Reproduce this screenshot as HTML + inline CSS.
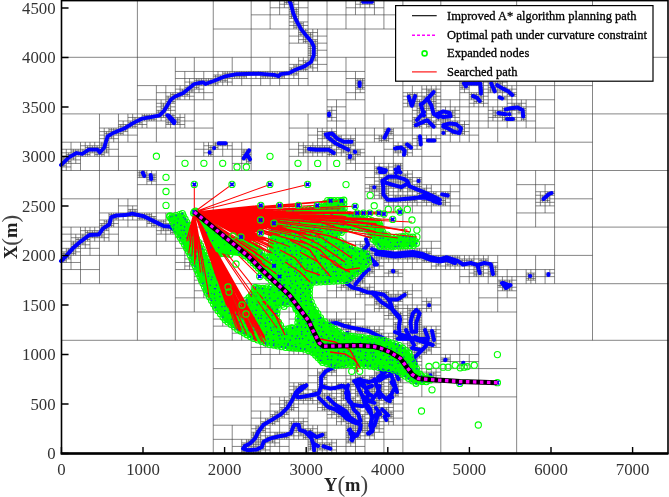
<!DOCTYPE html>
<html><head><meta charset="utf-8"><style>
html,body{margin:0;padding:0;background:#fff;}
svg{display:block;}
text{font-family:"Liberation Serif","Times New Roman",serif;}
</style></head><body>
<svg width="669" height="497" viewBox="0 0 669 497">
<rect width="669" height="497" fill="#fff"/>
<path d="M364.95 0.7V453.5M61.55 227.1H668.35M213.25 0.7V227.1M61.55 113.9H364.95M137.4 0.7V113.9M61.55 57.3H213.25M175.32 57.3V113.9M137.4 85.6H213.25M156.36 85.6V113.9M137.4 99.75H175.32M165.84 85.6V99.75M156.36 92.68H175.32M170.58 92.68V99.75M165.84 96.21H175.32M168.21 96.21V99.75M165.84 97.98H170.58M172.95 92.68V96.21M170.58 94.44H175.32M172.95 96.21V99.75M170.58 97.98H175.32M165.84 99.75V113.9M156.36 106.83H175.32M161.1 99.75V106.83M156.36 103.29H165.84M163.47 103.29V106.83M161.1 105.06H165.84M161.1 106.83V113.9M156.36 110.36H165.84M158.73 110.36V113.9M156.36 112.13H161.1M163.47 106.83V110.36M161.1 108.59H165.84M163.47 110.36V113.9M161.1 112.13H165.84M170.58 99.75V106.83M165.84 103.29H175.32M168.21 99.75V103.29M165.84 101.52H170.58M168.21 103.29V106.83M165.84 105.06H170.58M172.95 99.75V103.29M170.58 101.52H175.32M170.58 106.83V113.9M165.84 110.36H175.32M168.21 106.83V110.36M165.84 108.59H170.58M194.29 57.3V85.6M175.32 71.45H213.25M184.81 71.45V85.6M175.32 78.53H194.29M189.55 78.53V85.6M184.81 82.06H194.29M191.92 82.06V85.6M189.55 83.83H194.29M203.77 71.45V85.6M194.29 78.53H213.25M199.03 78.53V85.6M194.29 82.06H203.77M196.66 78.53V82.06M194.29 80.29H199.03M196.66 82.06V85.6M194.29 83.83H199.03M201.4 78.53V82.06M199.03 80.29H203.77M201.4 82.06V85.6M199.03 83.83H203.77M208.51 78.53V85.6M203.77 82.06H213.25M206.14 78.53V82.06M203.77 80.29H208.51M206.14 82.06V85.6M203.77 83.83H208.51M210.88 78.53V82.06M208.51 80.29H213.25M210.88 82.06V85.6M208.51 83.83H213.25M194.29 85.6V113.9M175.32 99.75H213.25M184.81 85.6V99.75M175.32 92.68H194.29M180.07 85.6V92.68M175.32 89.14H184.81M182.44 89.14V92.68M180.07 90.91H184.81M180.07 92.68V99.75M175.32 96.21H184.81M177.7 92.68V96.21M175.32 94.44H180.07M177.7 96.21V99.75M175.32 97.98H180.07M182.44 92.68V96.21M180.07 94.44H184.81M189.55 85.6V92.68M184.81 89.14H194.29M187.18 85.6V89.14M184.81 87.37H189.55M187.18 89.14V92.68M184.81 90.91H189.55M191.92 85.6V89.14M189.55 87.37H194.29M191.92 89.14V92.68M189.55 90.91H194.29M189.55 92.68V99.75M184.81 96.21H194.29M187.18 92.68V96.21M184.81 94.44H189.55M203.77 85.6V99.75M194.29 92.68H213.25M199.03 85.6V92.68M194.29 89.14H203.77M196.66 85.6V89.14M194.29 87.37H199.03M137.4 113.9V227.1M61.55 170.5H213.25M99.47 113.9V170.5M61.55 142.2H137.4M80.51 142.2V170.5M61.55 156.35H99.47M71.03 142.2V156.35M61.55 149.28H80.51M66.29 149.28V156.35M61.55 152.81H71.03M68.66 152.81V156.35M66.29 154.58H71.03M75.77 149.28V156.35M71.03 152.81H80.51M73.4 149.28V152.81M71.03 151.04H75.77M73.4 152.81V156.35M71.03 154.58H75.77M78.14 149.28V152.81M75.77 151.04H80.51M78.14 152.81V156.35M75.77 154.58H80.51M71.03 156.35V170.5M61.55 163.42H80.51M66.29 156.35V163.42M61.55 159.89H71.03M63.92 156.35V159.89M61.55 158.12H66.29M63.92 159.89V163.42M61.55 161.66H66.29M68.66 156.35V159.89M66.29 158.12H71.03M68.66 159.89V163.42M66.29 161.66H71.03M66.29 163.42V170.5M61.55 166.96H71.03M63.92 163.42V166.96M61.55 165.19H66.29M75.77 156.35V163.42M71.03 159.89H80.51M73.4 156.35V159.89M71.03 158.12H75.77M89.99 142.2V156.35M80.51 149.28H99.47M85.25 142.2V149.28M80.51 145.74H89.99M87.62 145.74V149.28M85.25 147.51H89.99M85.25 149.28V156.35M80.51 152.81H89.99M82.88 149.28V152.81M80.51 151.04H85.25M82.88 152.81V156.35M80.51 154.58H85.25M87.62 149.28V152.81M85.25 151.04H89.99M87.62 152.81V156.35M85.25 154.58H89.99M94.73 142.2V149.28M89.99 145.74H99.47M92.36 145.74V149.28M89.99 147.51H94.73M97.1 145.74V149.28M94.73 147.51H99.47M94.73 149.28V156.35M89.99 152.81H99.47M92.36 149.28V152.81M89.99 151.04H94.73M97.1 149.28V152.81M94.73 151.04H99.47M97.1 152.81V156.35M94.73 154.58H99.47M118.44 113.9V142.2M99.47 128.05H137.4M108.96 128.05V142.2M99.47 135.12H118.44M104.22 128.05V135.12M99.47 131.59H108.96M106.59 131.59V135.12M104.22 133.36H108.96M104.22 135.12V142.2M99.47 138.66H108.96M106.59 135.12V138.66M104.22 136.89H108.96M106.59 138.66V142.2M104.22 140.43H108.96M113.7 128.05V135.12M108.96 131.59H118.44M111.33 128.05V131.59M108.96 129.82H113.7M111.33 131.59V135.12M108.96 133.36H113.7M116.07 128.05V131.59M113.7 129.82H118.44M116.07 131.59V135.12M113.7 133.36H118.44M113.7 135.12V142.2M108.96 138.66H118.44M111.33 135.12V138.66M108.96 136.89H113.7M127.92 113.9V128.05M118.44 120.98H137.4M123.18 120.98V128.05M118.44 124.51H127.92M120.81 124.51V128.05M118.44 126.28H123.18M125.55 124.51V128.05M123.18 126.28H127.92M132.66 113.9V120.98M127.92 117.44H137.4M135.03 117.44V120.98M132.66 119.21H137.4M132.66 120.98V128.05M127.92 124.51H137.4M130.29 120.98V124.51M127.92 122.74H132.66M130.29 124.51V128.05M127.92 126.28H132.66M135.03 120.98V124.51M132.66 122.74H137.4M135.03 124.51V128.05M132.66 126.28H137.4M127.92 128.05V142.2M118.44 135.12H137.4M123.18 128.05V135.12M118.44 131.59H127.92M120.81 128.05V131.59M118.44 129.82H123.18M120.81 131.59V135.12M118.44 133.36H123.18M125.55 128.05V131.59M123.18 129.82H127.92M118.44 142.2V170.5M99.47 156.35H137.4M108.96 142.2V156.35M99.47 149.28H118.44M104.22 142.2V149.28M99.47 145.74H108.96M101.85 142.2V145.74M99.47 143.97H104.22M101.85 145.74V149.28M99.47 147.51H104.22M106.59 142.2V145.74M104.22 143.97H108.96M106.59 145.74V149.28M104.22 147.51H108.96M104.22 149.28V156.35M99.47 152.81H108.96M101.85 149.28V152.81M99.47 151.04H104.22M101.85 152.81V156.35M99.47 154.58H104.22M106.59 149.28V152.81M104.22 151.04H108.96M99.47 170.5V227.1M61.55 198.8H137.4M118.44 198.8V227.1M99.47 212.95H137.4M108.96 212.95V227.1M99.47 220.03H118.44M104.22 220.03V227.1M99.47 223.56H108.96M101.85 223.56V227.1M99.47 225.33H104.22M106.59 220.03V223.56M104.22 221.79H108.96M106.59 223.56V227.1M104.22 225.33H108.96M113.7 212.95V220.03M108.96 216.49H118.44M111.33 212.95V216.49M108.96 214.72H113.7M111.33 216.49V220.03M108.96 218.26H113.7M116.07 212.95V216.49M113.7 214.72H118.44M116.07 216.49V220.03M113.7 218.26H118.44M113.7 220.03V227.1M108.96 223.56H118.44M111.33 220.03V223.56M108.96 221.79H113.7M111.33 223.56V227.1M108.96 225.33H113.7M127.92 198.8V212.95M118.44 205.88H137.4M132.66 205.88V212.95M127.92 209.41H137.4M130.29 209.41V212.95M127.92 211.18H132.66M135.03 209.41V212.95M132.66 211.18H137.4M127.92 212.95V227.1M118.44 220.03H137.4M123.18 212.95V220.03M118.44 216.49H127.92M120.81 212.95V216.49M118.44 214.72H123.18M125.55 212.95V216.49M123.18 214.72H127.92M132.66 212.95V220.03M127.92 216.49H137.4M130.29 212.95V216.49M127.92 214.72H132.66M135.03 212.95V216.49M132.66 214.72H137.4M175.32 113.9V170.5M137.4 142.2H213.25M156.36 113.9V142.2M137.4 128.05H175.32M146.88 113.9V128.05M137.4 120.98H156.36M142.14 113.9V120.98M137.4 117.44H146.88M139.77 117.44V120.98M137.4 119.21H142.14M144.51 113.9V117.44M142.14 115.67H146.88M144.51 117.44V120.98M142.14 119.21H146.88M142.14 120.98V128.05M137.4 124.51H146.88M139.77 120.98V124.51M137.4 122.74H142.14M151.62 113.9V120.98M146.88 117.44H156.36M149.25 113.9V117.44M146.88 115.67H151.62M149.25 117.44V120.98M146.88 119.21H151.62M153.99 113.9V117.44M151.62 115.67H156.36M153.99 117.44V120.98M151.62 119.21H156.36M165.84 113.9V128.05M156.36 120.98H175.32M161.1 113.9V120.98M156.36 117.44H165.84M158.73 113.9V117.44M156.36 115.67H161.1M163.47 113.9V117.44M161.1 115.67H165.84M170.58 113.9V120.98M165.84 117.44H175.32M168.21 113.9V117.44M165.84 115.67H170.58M168.21 117.44V120.98M165.84 119.21H170.58M172.95 113.9V117.44M170.58 115.67H175.32M172.95 117.44V120.98M170.58 119.21H175.32M170.58 120.98V128.05M165.84 124.51H175.32M168.21 120.98V124.51M165.84 122.74H170.58M172.95 120.98V124.51M170.58 122.74H175.32M194.29 113.9V142.2M175.32 128.05H213.25M184.81 113.9V128.05M175.32 120.98H194.29M180.07 113.9V120.98M175.32 117.44H184.81M177.7 117.44V120.98M175.32 119.21H180.07M180.07 120.98V128.05M175.32 124.51H184.81M177.7 120.98V124.51M175.32 122.74H180.07M194.29 142.2V170.5M175.32 156.35H213.25M203.77 142.2V156.35M194.29 149.28H213.25M208.51 142.2V149.28M203.77 145.74H213.25M210.88 145.74V149.28M208.51 147.51H213.25M208.51 149.28V156.35M203.77 152.81H213.25M210.88 149.28V152.81M208.51 151.04H213.25M210.88 152.81V156.35M208.51 154.58H213.25M175.32 170.5V227.1M137.4 198.8H213.25M156.36 170.5V198.8M137.4 184.65H175.32M146.88 170.5V184.65M137.4 177.57H156.36M142.14 170.5V177.57M137.4 174.04H146.88M139.77 170.5V174.04M137.4 172.27H142.14M139.77 174.04V177.57M137.4 175.81H142.14M144.51 170.5V174.04M142.14 172.27H146.88M144.51 174.04V177.57M142.14 175.81H146.88M151.62 170.5V177.57M146.88 174.04H156.36M149.25 174.04V177.57M146.88 175.81H151.62M153.99 174.04V177.57M151.62 175.81H156.36M151.62 177.57V184.65M146.88 181.11H156.36M149.25 177.57V181.11M146.88 179.34H151.62M153.99 177.57V181.11M151.62 179.34H156.36M156.36 198.8V227.1M137.4 212.95H175.32M146.88 212.95V227.1M137.4 220.03H156.36M142.14 212.95V220.03M137.4 216.49H146.88M139.77 212.95V216.49M137.4 214.72H142.14M139.77 216.49V220.03M137.4 218.26H142.14M144.51 212.95V216.49M142.14 214.72H146.88M144.51 216.49V220.03M142.14 218.26H146.88M151.62 212.95V220.03M146.88 216.49H156.36M149.25 212.95V216.49M146.88 214.72H151.62M149.25 216.49V220.03M146.88 218.26H151.62M153.99 216.49V220.03M151.62 218.26H156.36M151.62 220.03V227.1M146.88 223.56H156.36M149.25 220.03V223.56M146.88 221.79H151.62M153.99 220.03V223.56M151.62 221.79H156.36M153.99 223.56V227.1M151.62 225.33H156.36M165.84 212.95V227.1M156.36 220.03H175.32M161.1 220.03V227.1M156.36 223.56H165.84M158.73 220.03V223.56M156.36 221.79H161.1M158.73 223.56V227.1M156.36 225.33H161.1M163.47 220.03V223.56M161.1 221.79H165.84M163.47 223.56V227.1M161.1 225.33H165.84M170.58 220.03V227.1M165.84 223.56H175.32M168.21 223.56V227.1M165.84 225.33H170.58M172.95 223.56V227.1M170.58 225.33H175.32M289.1 0.7V113.9M213.25 57.3H364.95M251.18 0.7V57.3M213.25 29H289.1M270.14 0.7V29M251.18 14.85H289.1M279.62 0.7V14.85M270.14 7.78H289.1M284.36 0.7V7.78M279.62 4.24H289.1M286.73 0.7V4.24M284.36 2.47H289.1M251.18 57.3V113.9M213.25 85.6H289.1M232.21 57.3V85.6M213.25 71.45H251.18M222.73 71.45V85.6M213.25 78.53H232.21M217.99 71.45V78.53M213.25 74.99H222.73M215.62 74.99V78.53M213.25 76.76H217.99M220.36 74.99V78.53M217.99 76.76H222.73M217.99 78.53V85.6M213.25 82.06H222.73M215.62 78.53V82.06M213.25 80.29H217.99M215.62 82.06V85.6M213.25 83.83H217.99M220.36 78.53V82.06M217.99 80.29H222.73M227.47 71.45V78.53M222.73 74.99H232.21M225.1 71.45V74.99M222.73 73.22H227.47M225.1 74.99V78.53M222.73 76.76H227.47M229.84 71.45V74.99M227.47 73.22H232.21M229.84 74.99V78.53M227.47 76.76H232.21M227.47 78.53V85.6M222.73 82.06H232.21M225.1 78.53V82.06M222.73 80.29H227.47M241.69 71.45V85.6M232.21 78.53H251.18M236.95 71.45V78.53M232.21 74.99H241.69M234.58 71.45V74.99M232.21 73.22H236.95M234.58 74.99V78.53M232.21 76.76H236.95M239.32 71.45V74.99M236.95 73.22H241.69M239.32 74.99V78.53M236.95 76.76H241.69M246.43 71.45V78.53M241.69 74.99H251.18M244.06 71.45V74.99M241.69 73.22H246.43M244.06 74.99V78.53M241.69 76.76H246.43M248.8 71.45V74.99M246.43 73.22H251.18M270.14 57.3V85.6M251.18 71.45H289.1M260.66 71.45V85.6M251.18 78.53H270.14M255.92 71.45V78.53M251.18 74.99H260.66M253.55 71.45V74.99M251.18 73.22H255.92M258.29 71.45V74.99M255.92 73.22H260.66M265.4 71.45V78.53M260.66 74.99H270.14M263.03 71.45V74.99M260.66 73.22H265.4M263.03 74.99V78.53M260.66 76.76H265.4M267.77 71.45V74.99M265.4 73.22H270.14M267.77 74.99V78.53M265.4 76.76H270.14M279.62 71.45V85.6M270.14 78.53H289.1M274.88 71.45V78.53M270.14 74.99H279.62M272.51 71.45V74.99M270.14 73.22H274.88M272.51 74.99V78.53M270.14 76.76H274.88M277.25 71.45V74.99M274.88 73.22H279.62M277.25 74.99V78.53M274.88 76.76H279.62M284.36 71.45V78.53M279.62 74.99H289.1M281.99 71.45V74.99M279.62 73.22H284.36M281.99 74.99V78.53M279.62 76.76H284.36M286.73 71.45V74.99M284.36 73.22H289.1M327.03 0.7V57.3M289.1 29H364.95M308.06 0.7V29M289.1 14.85H327.03M298.58 0.7V14.85M289.1 7.78H308.06M293.84 0.7V7.78M289.1 4.24H298.58M291.47 0.7V4.24M289.1 2.47H293.84M291.47 4.24V7.78M289.1 6.01H293.84M293.84 7.78V14.85M289.1 11.31H298.58M291.47 7.78V11.31M289.1 9.54H293.84M291.47 11.31V14.85M289.1 13.08H293.84M296.21 7.78V11.31M293.84 9.54H298.58M296.21 11.31V14.85M293.84 13.08H298.58M298.58 14.85V29M289.1 21.93H308.06M293.84 14.85V21.93M289.1 18.39H298.58M291.47 14.85V18.39M289.1 16.62H293.84M296.21 14.85V18.39M293.84 16.62H298.58M296.21 18.39V21.93M293.84 20.16H298.58M293.84 21.93V29M289.1 25.46H298.58M296.21 21.93V25.46M293.84 23.69H298.58M296.21 25.46V29M293.84 27.23H298.58M303.32 21.93V29M298.58 25.46H308.06M300.95 21.93V25.46M298.58 23.69H303.32M300.95 25.46V29M298.58 27.23H303.32M308.06 29V57.3M289.1 43.15H327.03M298.58 29V43.15M289.1 36.08H308.06M303.32 29V36.08M298.58 32.54H308.06M300.95 29V32.54M298.58 30.77H303.32M300.95 32.54V36.08M298.58 34.31H303.32M305.69 29V32.54M303.32 30.77H308.06M305.69 32.54V36.08M303.32 34.31H308.06M303.32 36.08V43.15M298.58 39.61H308.06M305.69 36.08V39.61M303.32 37.84H308.06M305.69 39.61V43.15M303.32 41.38H308.06M317.54 29V43.15M308.06 36.08H327.03M312.8 29V36.08M308.06 32.54H317.54M310.43 32.54V36.08M308.06 34.31H312.8M312.8 36.08V43.15M308.06 39.61H317.54M310.43 36.08V39.61M308.06 37.84H312.8M310.43 39.61V43.15M308.06 41.38H312.8M315.17 39.61V43.15M312.8 41.38H317.54M317.54 43.15V57.3M308.06 50.23H327.03M312.8 43.15V50.23M308.06 46.69H317.54M310.43 43.15V46.69M308.06 44.92H312.8M310.43 46.69V50.23M308.06 48.46H312.8M315.17 43.15V46.69M312.8 44.92H317.54M315.17 46.69V50.23M312.8 48.46H317.54M312.8 50.23V57.3M308.06 53.76H317.54M310.43 50.23V53.76M308.06 51.99H312.8M310.43 53.76V57.3M308.06 55.53H312.8M315.17 50.23V53.76M312.8 51.99H317.54M315.17 53.76V57.3M312.8 55.53H317.54M345.99 0.7V29M327.03 14.85H364.95M355.47 0.7V14.85M345.99 7.78H364.95M360.21 0.7V7.78M355.47 4.24H364.95M362.58 0.7V4.24M360.21 2.47H364.95M327.03 57.3V113.9M289.1 85.6H364.95M308.06 57.3V85.6M289.1 71.45H327.03M298.58 57.3V71.45M289.1 64.38H308.06M293.84 64.38V71.45M289.1 67.91H298.58M291.47 67.91V71.45M289.1 69.68H293.84M296.21 64.38V67.91M293.84 66.14H298.58M296.21 67.91V71.45M293.84 69.68H298.58M303.32 57.3V64.38M298.58 60.84H308.06M305.69 60.84V64.38M303.32 62.61H308.06M303.32 64.38V71.45M298.58 67.91H308.06M300.95 64.38V67.91M298.58 66.14H303.32M300.95 67.91V71.45M298.58 69.68H303.32M305.69 64.38V67.91M303.32 66.14H308.06M305.69 67.91V71.45M303.32 69.68H308.06M298.58 71.45V85.6M289.1 78.53H308.06M293.84 71.45V78.53M289.1 74.99H298.58M291.47 71.45V74.99M289.1 73.22H293.84M296.21 71.45V74.99M293.84 73.22H298.58M317.54 57.3V71.45M308.06 64.38H327.03M312.8 57.3V64.38M308.06 60.84H317.54M310.43 57.3V60.84M308.06 59.07H312.8M310.43 60.84V64.38M308.06 62.61H312.8M315.17 57.3V60.84M312.8 59.07H317.54M312.8 64.38V71.45M308.06 67.91H317.54M310.43 64.38V67.91M308.06 66.14H312.8M345.99 57.3V85.6M327.03 71.45H364.95M355.47 71.45V85.6M345.99 78.53H364.95M360.21 78.53V85.6M355.47 82.06H364.95M357.84 78.53V82.06M355.47 80.29H360.21M357.84 82.06V85.6M355.47 83.83H360.21M362.58 78.53V82.06M360.21 80.29H364.95M362.58 82.06V85.6M360.21 83.83H364.95M345.99 85.6V113.9M327.03 99.75H364.95M336.51 99.75V113.9M327.03 106.83H345.99M331.77 106.83V113.9M327.03 110.36H336.51M329.4 110.36V113.9M327.03 112.13H331.77M355.47 85.6V99.75M345.99 92.68H364.95M360.21 85.6V92.68M355.47 89.14H364.95M357.84 85.6V89.14M355.47 87.37H360.21M362.58 85.6V89.14M360.21 87.37H364.95M289.1 113.9V227.1M213.25 170.5H364.95M251.18 113.9V170.5M213.25 142.2H289.1M232.21 142.2V170.5M213.25 156.35H251.18M222.73 142.2V156.35M213.25 149.28H232.21M217.99 142.2V149.28M213.25 145.74H222.73M215.62 142.2V145.74M213.25 143.97H217.99M215.62 145.74V149.28M213.25 147.51H217.99M220.36 142.2V145.74M217.99 143.97H222.73M227.47 142.2V149.28M222.73 145.74H232.21M225.1 142.2V145.74M222.73 143.97H227.47M241.69 142.2V156.35M232.21 149.28H251.18M246.43 149.28V156.35M241.69 152.81H251.18M244.06 149.28V152.81M241.69 151.04H246.43M244.06 152.81V156.35M241.69 154.58H246.43M248.8 149.28V152.81M246.43 151.04H251.18M248.8 152.81V156.35M246.43 154.58H251.18M241.69 156.35V170.5M232.21 163.42H251.18M246.43 156.35V163.42M241.69 159.89H251.18M244.06 156.35V159.89M241.69 158.12H246.43M248.8 156.35V159.89M246.43 158.12H251.18M248.8 159.89V163.42M246.43 161.66H251.18M327.03 113.9V170.5M289.1 142.2H364.95M308.06 113.9V142.2M289.1 128.05H327.03M317.54 128.05V142.2M308.06 135.12H327.03M322.28 128.05V135.12M317.54 131.59H327.03M324.65 131.59V135.12M322.28 133.36H327.03M322.28 135.12V142.2M317.54 138.66H327.03M324.65 135.12V138.66M322.28 136.89H327.03M308.06 142.2V170.5M289.1 156.35H327.03M298.58 142.2V156.35M289.1 149.28H308.06M303.32 142.2V149.28M298.58 145.74H308.06M305.69 145.74V149.28M303.32 147.51H308.06M303.32 149.28V156.35M298.58 152.81H308.06M305.69 149.28V152.81M303.32 151.04H308.06M317.54 142.2V156.35M308.06 149.28H327.03M312.8 142.2V149.28M308.06 145.74H317.54M310.43 145.74V149.28M308.06 147.51H312.8M315.17 145.74V149.28M312.8 147.51H317.54M312.8 149.28V156.35M308.06 152.81H317.54M310.43 149.28V152.81M308.06 151.04H312.8M315.17 149.28V152.81M312.8 151.04H317.54M322.28 142.2V149.28M317.54 145.74H327.03M319.91 145.74V149.28M317.54 147.51H322.28M324.65 145.74V149.28M322.28 147.51H327.03M322.28 149.28V156.35M317.54 152.81H327.03M319.91 149.28V152.81M317.54 151.04H322.28M324.65 149.28V152.81M322.28 151.04H327.03M345.99 113.9V142.2M327.03 128.05H364.95M336.51 113.9V128.05M327.03 120.98H345.99M331.77 113.9V120.98M327.03 117.44H336.51M329.4 113.9V117.44M327.03 115.67H331.77M336.51 128.05V142.2M327.03 135.12H345.99M331.77 128.05V135.12M327.03 131.59H336.51M329.4 131.59V135.12M327.03 133.36H331.77M334.14 131.59V135.12M331.77 133.36H336.51M331.77 135.12V142.2M327.03 138.66H336.51M329.4 135.12V138.66M327.03 136.89H331.77M329.4 138.66V142.2M327.03 140.43H331.77M334.14 135.12V138.66M331.77 136.89H336.51M334.14 138.66V142.2M331.77 140.43H336.51M341.25 135.12V142.2M336.51 138.66H345.99M338.88 135.12V138.66M336.51 136.89H341.25M338.88 138.66V142.2M336.51 140.43H341.25M343.62 138.66V142.2M341.25 140.43H345.99M355.47 128.05V142.2M345.99 135.12H364.95M350.73 135.12V142.2M345.99 138.66H355.47M348.36 138.66V142.2M345.99 140.43H350.73M353.1 138.66V142.2M350.73 140.43H355.47M345.99 142.2V170.5M327.03 156.35H364.95M336.51 142.2V156.35M327.03 149.28H345.99M331.77 142.2V149.28M327.03 145.74H336.51M329.4 145.74V149.28M327.03 147.51H331.77M334.14 142.2V145.74M331.77 143.97H336.51M331.77 149.28V156.35M327.03 152.81H336.51M329.4 149.28V152.81M327.03 151.04H331.77M329.4 152.81V156.35M327.03 154.58H331.77M334.14 149.28V152.81M331.77 151.04H336.51M334.14 152.81V156.35M331.77 154.58H336.51M341.25 142.2V149.28M336.51 145.74H345.99M338.88 142.2V145.74M336.51 143.97H341.25M338.88 145.74V149.28M336.51 147.51H341.25M343.62 142.2V145.74M341.25 143.97H345.99M343.62 145.74V149.28M341.25 147.51H345.99M341.25 149.28V156.35M336.51 152.81H345.99M343.62 149.28V152.81M341.25 151.04H345.99M355.47 142.2V156.35M345.99 149.28H364.95M350.73 142.2V149.28M345.99 145.74H355.47M348.36 142.2V145.74M345.99 143.97H350.73M348.36 145.74V149.28M345.99 147.51H350.73M353.1 142.2V145.74M350.73 143.97H355.47M350.73 149.28V156.35M345.99 152.81H355.47M348.36 149.28V152.81M345.99 151.04H350.73M348.36 152.81V156.35M345.99 154.58H350.73M353.1 149.28V152.81M350.73 151.04H355.47M353.1 152.81V156.35M350.73 154.58H355.47M360.21 149.28V156.35M355.47 152.81H364.95M357.84 149.28V152.81M355.47 151.04H360.21M357.84 152.81V156.35M355.47 154.58H360.21M355.47 156.35V170.5M345.99 163.42H364.95M350.73 156.35V163.42M345.99 159.89H355.47M348.36 156.35V159.89M345.99 158.12H350.73M353.1 156.35V159.89M350.73 158.12H355.47M213.25 227.1V453.5M61.55 340.3H364.95M137.4 227.1V340.3M61.55 283.7H213.25M99.47 227.1V283.7M61.55 255.4H137.4M80.51 227.1V255.4M61.55 241.25H99.47M71.03 227.1V241.25M61.55 234.17H80.51M75.77 234.17V241.25M71.03 237.71H80.51M78.14 237.71V241.25M75.77 239.48H80.51M71.03 241.25V255.4M61.55 248.32H80.51M66.29 248.32V255.4M61.55 251.86H71.03M63.92 251.86V255.4M61.55 253.63H66.29M68.66 248.32V251.86M66.29 250.09H71.03M68.66 251.86V255.4M66.29 253.63H71.03M75.77 241.25V248.32M71.03 244.79H80.51M73.4 241.25V244.79M71.03 243.02H75.77M73.4 244.79V248.32M71.03 246.56H75.77M78.14 241.25V244.79M75.77 243.02H80.51M78.14 244.79V248.32M75.77 246.56H80.51M75.77 248.32V255.4M71.03 251.86H80.51M73.4 248.32V251.86M71.03 250.09H75.77M73.4 251.86V255.4M71.03 253.63H75.77M89.99 227.1V241.25M80.51 234.17H99.47M85.25 227.1V234.17M80.51 230.64H89.99M87.62 230.64V234.17M85.25 232.41H89.99M85.25 234.17V241.25M80.51 237.71H89.99M82.88 234.17V237.71M80.51 235.94H85.25M82.88 237.71V241.25M80.51 239.48H85.25M87.62 234.17V237.71M85.25 235.94H89.99M87.62 237.71V241.25M85.25 239.48H89.99M94.73 227.1V234.17M89.99 230.64H99.47M92.36 230.64V234.17M89.99 232.41H94.73M97.1 230.64V234.17M94.73 232.41H99.47M94.73 234.17V241.25M89.99 237.71H99.47M92.36 234.17V237.71M89.99 235.94H94.73M97.1 234.17V237.71M94.73 235.94H99.47M89.99 241.25V255.4M80.51 248.32H99.47M85.25 241.25V248.32M80.51 244.79H89.99M82.88 241.25V244.79M80.51 243.02H85.25M80.51 255.4V283.7M61.55 269.55H99.47M71.03 255.4V269.55M61.55 262.48H80.51M66.29 255.4V262.48M61.55 258.94H71.03M63.92 255.4V258.94M61.55 257.17H66.29M63.92 258.94V262.48M61.55 260.71H66.29M68.66 255.4V258.94M66.29 257.17H71.03M118.44 227.1V255.4M99.47 241.25H137.4M108.96 227.1V241.25M99.47 234.17H118.44M104.22 227.1V234.17M99.47 230.64H108.96M101.85 227.1V230.64M99.47 228.87H104.22M101.85 230.64V234.17M99.47 232.41H104.22M106.59 227.1V230.64M104.22 228.87H108.96M104.22 234.17V241.25M99.47 237.71H108.96M101.85 234.17V237.71M99.47 235.94H104.22M175.32 227.1V283.7M137.4 255.4H213.25M156.36 227.1V255.4M137.4 241.25H175.32M165.84 227.1V241.25M156.36 234.17H175.32M161.1 227.1V234.17M156.36 230.64H165.84M163.47 227.1V230.64M161.1 228.87H165.84M170.58 227.1V234.17M165.84 230.64H175.32M168.21 227.1V230.64M165.84 228.87H170.58M172.95 227.1V230.64M170.58 228.87H175.32M172.95 230.64V234.17M170.58 232.41H175.32M194.29 227.1V255.4M175.32 241.25H213.25M184.81 227.1V241.25M175.32 234.17H194.29M180.07 227.1V234.17M175.32 230.64H184.81M177.7 227.1V230.64M175.32 228.87H180.07M177.7 230.64V234.17M175.32 232.41H180.07M182.44 230.64V234.17M180.07 232.41H184.81M180.07 234.17V241.25M175.32 237.71H184.81M177.7 234.17V237.71M175.32 235.94H180.07M182.44 234.17V237.71M180.07 235.94H184.81M182.44 237.71V241.25M180.07 239.48H184.81M189.55 234.17V241.25M184.81 237.71H194.29M187.18 234.17V237.71M184.81 235.94H189.55M187.18 237.71V241.25M184.81 239.48H189.55M184.81 241.25V255.4M175.32 248.32H194.29M189.55 241.25V248.32M184.81 244.79H194.29M187.18 241.25V244.79M184.81 243.02H189.55M187.18 244.79V248.32M184.81 246.56H189.55M191.92 244.79V248.32M189.55 246.56H194.29M189.55 248.32V255.4M184.81 251.86H194.29M187.18 248.32V251.86M184.81 250.09H189.55M191.92 248.32V251.86M189.55 250.09H194.29M191.92 251.86V255.4M189.55 253.63H194.29M194.29 255.4V283.7M175.32 269.55H213.25M184.81 255.4V269.55M175.32 262.48H194.29M189.55 255.4V262.48M184.81 258.94H194.29M191.92 255.4V258.94M189.55 257.17H194.29M191.92 258.94V262.48M189.55 260.71H194.29M189.55 262.48V269.55M184.81 266.01H194.29M191.92 262.48V266.01M189.55 264.24H194.29M203.77 255.4V269.55M194.29 262.48H213.25M199.03 255.4V262.48M194.29 258.94H203.77M196.66 255.4V258.94M194.29 257.17H199.03M196.66 258.94V262.48M194.29 260.71H199.03M199.03 262.48V269.55M194.29 266.01H203.77M196.66 262.48V266.01M194.29 264.24H199.03M196.66 266.01V269.55M194.29 267.78H199.03M201.4 266.01V269.55M199.03 267.78H203.77M203.77 269.55V283.7M194.29 276.62H213.25M199.03 269.55V276.62M194.29 273.09H203.77M196.66 269.55V273.09M194.29 271.32H199.03M201.4 269.55V273.09M199.03 271.32H203.77M201.4 273.09V276.62M199.03 274.86H203.77M199.03 276.62V283.7M194.29 280.16H203.77M201.4 276.62V280.16M199.03 278.39H203.77M201.4 280.16V283.7M199.03 281.93H203.77M208.51 269.55V276.62M203.77 273.09H213.25M206.14 273.09V276.62M203.77 274.86H208.51M208.51 276.62V283.7M203.77 280.16H213.25M206.14 276.62V280.16M203.77 278.39H208.51M206.14 280.16V283.7M203.77 281.93H208.51M210.88 280.16V283.7M208.51 281.93H213.25M175.32 283.7V340.3M137.4 312H213.25M194.29 283.7V312M175.32 297.85H213.25M203.77 283.7V297.85M194.29 290.77H213.25M208.51 283.7V290.77M203.77 287.24H213.25M206.14 283.7V287.24M203.77 285.47H208.51M210.88 283.7V287.24M208.51 285.47H213.25M210.88 287.24V290.77M208.51 289.01H213.25M208.51 290.77V297.85M203.77 294.31H213.25M210.88 290.77V294.31M208.51 292.54H213.25M289.1 227.1V340.3M213.25 283.7H364.95M251.18 283.7V340.3M213.25 312H289.1M232.21 283.7V312M213.25 297.85H251.18M222.73 283.7V297.85M213.25 290.77H232.21M217.99 283.7V290.77M213.25 287.24H222.73M215.62 287.24V290.77M213.25 289.01H217.99M217.99 290.77V297.85M213.25 294.31H222.73M215.62 290.77V294.31M213.25 292.54H217.99M215.62 294.31V297.85M213.25 296.08H217.99M220.36 294.31V297.85M217.99 296.08H222.73M222.73 297.85V312M213.25 304.93H232.21M217.99 297.85V304.93M213.25 301.39H222.73M215.62 297.85V301.39M213.25 299.62H217.99M220.36 297.85V301.39M217.99 299.62H222.73M220.36 301.39V304.93M217.99 303.16H222.73M217.99 304.93V312M213.25 308.46H222.73M220.36 304.93V308.46M217.99 306.69H222.73M227.47 297.85V304.93M222.73 301.39H232.21M225.1 301.39V304.93M222.73 303.16H227.47M227.47 304.93V312M222.73 308.46H232.21M225.1 304.93V308.46M222.73 306.69H227.47M225.1 308.46V312M222.73 310.23H227.47M229.84 304.93V308.46M227.47 306.69H232.21M229.84 308.46V312M227.47 310.23H232.21M232.21 312V340.3M213.25 326.15H251.18M222.73 312V326.15M213.25 319.07H232.21M227.47 312V319.07M222.73 315.54H232.21M229.84 312V315.54M227.47 313.77H232.21M241.69 312V326.15M232.21 319.07H251.18M236.95 312V319.07M232.21 315.54H241.69M234.58 312V315.54M232.21 313.77H236.95M234.58 315.54V319.07M232.21 317.31H236.95M239.32 315.54V319.07M236.95 317.31H241.69M236.95 319.07V326.15M232.21 322.61H241.69M234.58 319.07V322.61M232.21 320.84H236.95M239.32 319.07V322.61M236.95 320.84H241.69M239.32 322.61V326.15M236.95 324.38H241.69M246.43 319.07V326.15M241.69 322.61H251.18M244.06 319.07V322.61M241.69 320.84H246.43M244.06 322.61V326.15M241.69 324.38H246.43M248.8 322.61V326.15M246.43 324.38H251.18M241.69 326.15V340.3M232.21 333.23H251.18M246.43 326.15V333.23M241.69 329.69H251.18M244.06 326.15V329.69M241.69 327.92H246.43M248.8 326.15V329.69M246.43 327.92H251.18M248.8 329.69V333.23M246.43 331.46H251.18M270.14 312V340.3M251.18 326.15H289.1M260.66 326.15V340.3M251.18 333.23H270.14M255.92 326.15V333.23M251.18 329.69H260.66M253.55 326.15V329.69M251.18 327.92H255.92M253.55 329.69V333.23M251.18 331.46H255.92M258.29 329.69V333.23M255.92 331.46H260.66M255.92 333.23V340.3M251.18 336.76H260.66M253.55 333.23V336.76M251.18 334.99H255.92M258.29 333.23V336.76M255.92 334.99H260.66M258.29 336.76V340.3M255.92 338.53H260.66M265.4 333.23V340.3M260.66 336.76H270.14M263.03 333.23V336.76M260.66 334.99H265.4M263.03 336.76V340.3M260.66 338.53H265.4M267.77 333.23V336.76M265.4 334.99H270.14M267.77 336.76V340.3M265.4 338.53H270.14M279.62 326.15V340.3M270.14 333.23H289.1M274.88 333.23V340.3M270.14 336.76H279.62M272.51 336.76V340.3M270.14 338.53H274.88M277.25 336.76V340.3M274.88 338.53H279.62M327.03 227.1V283.7M289.1 255.4H364.95M345.99 227.1V255.4M327.03 241.25H364.95M355.47 241.25V255.4M345.99 248.32H364.95M360.21 241.25V248.32M355.47 244.79H364.95M362.58 244.79V248.32M360.21 246.56H364.95M360.21 248.32V255.4M355.47 251.86H364.95M362.58 248.32V251.86M360.21 250.09H364.95M362.58 251.86V255.4M360.21 253.63H364.95M345.99 255.4V283.7M327.03 269.55H364.95M336.51 269.55V283.7M327.03 276.62H345.99M341.25 276.62V283.7M336.51 280.16H345.99M343.62 280.16V283.7M341.25 281.93H345.99M355.47 269.55V283.7M345.99 276.62H364.95M350.73 276.62V283.7M345.99 280.16H355.47M348.36 276.62V280.16M345.99 278.39H350.73M348.36 280.16V283.7M345.99 281.93H350.73M353.1 276.62V280.16M350.73 278.39H355.47M353.1 280.16V283.7M350.73 281.93H355.47M360.21 269.55V276.62M355.47 273.09H364.95M357.84 273.09V276.62M355.47 274.86H360.21M362.58 269.55V273.09M360.21 271.32H364.95M362.58 273.09V276.62M360.21 274.86H364.95M360.21 276.62V283.7M355.47 280.16H364.95M357.84 276.62V280.16M355.47 278.39H360.21M357.84 280.16V283.7M355.47 281.93H360.21M362.58 276.62V280.16M360.21 278.39H364.95M362.58 280.16V283.7M360.21 281.93H364.95M327.03 283.7V340.3M289.1 312H364.95M308.06 283.7V312M289.1 297.85H327.03M298.58 297.85V312M289.1 304.93H308.06M303.32 297.85V304.93M298.58 301.39H308.06M300.95 297.85V301.39M298.58 299.62H303.32M300.95 301.39V304.93M298.58 303.16H303.32M303.32 304.93V312M298.58 308.46H308.06M300.95 304.93V308.46M298.58 306.69H303.32M300.95 308.46V312M298.58 310.23H303.32M305.69 304.93V308.46M303.32 306.69H308.06M305.69 308.46V312M303.32 310.23H308.06M308.06 312V340.3M289.1 326.15H327.03M298.58 312V326.15M289.1 319.07H308.06M303.32 312V319.07M298.58 315.54H308.06M300.95 312V315.54M298.58 313.77H303.32M305.69 312V315.54M303.32 313.77H308.06M305.69 315.54V319.07M303.32 317.31H308.06M303.32 319.07V326.15M298.58 322.61H308.06M305.69 319.07V322.61M303.32 320.84H308.06M305.69 322.61V326.15M303.32 324.38H308.06M298.58 326.15V340.3M289.1 333.23H308.06M303.32 326.15V333.23M298.58 329.69H308.06M305.69 326.15V329.69M303.32 327.92H308.06M317.54 312V326.15M308.06 319.07H327.03M312.8 319.07V326.15M308.06 322.61H317.54M310.43 319.07V322.61M308.06 320.84H312.8M310.43 322.61V326.15M308.06 324.38H312.8M317.54 326.15V340.3M308.06 333.23H327.03M312.8 326.15V333.23M308.06 329.69H317.54M310.43 326.15V329.69M308.06 327.92H312.8M310.43 329.69V333.23M308.06 331.46H312.8M315.17 329.69V333.23M312.8 331.46H317.54M312.8 333.23V340.3M308.06 336.76H317.54M310.43 333.23V336.76M308.06 334.99H312.8M315.17 333.23V336.76M312.8 334.99H317.54M315.17 336.76V340.3M312.8 338.53H317.54M322.28 333.23V340.3M317.54 336.76H327.03M319.91 333.23V336.76M317.54 334.99H322.28M319.91 336.76V340.3M317.54 338.53H322.28M324.65 336.76V340.3M322.28 338.53H327.03M345.99 283.7V312M327.03 297.85H364.95M336.51 283.7V297.85M327.03 290.77H345.99M341.25 283.7V290.77M336.51 287.24H345.99M343.62 283.7V287.24M341.25 285.47H345.99M355.47 283.7V297.85M345.99 290.77H364.95M350.73 283.7V290.77M345.99 287.24H355.47M348.36 283.7V287.24M345.99 285.47H350.73M348.36 287.24V290.77M345.99 289.01H350.73M353.1 283.7V287.24M350.73 285.47H355.47M353.1 287.24V290.77M350.73 289.01H355.47M360.21 283.7V290.77M355.47 287.24H364.95M357.84 283.7V287.24M355.47 285.47H360.21M357.84 287.24V290.77M355.47 289.01H360.21M362.58 287.24V290.77M360.21 289.01H364.95M360.21 290.77V297.85M355.47 294.31H364.95M362.58 290.77V294.31M360.21 292.54H364.95M345.99 312V340.3M327.03 326.15H364.95M336.51 312V326.15M327.03 319.07H345.99M331.77 319.07V326.15M327.03 322.61H336.51M329.4 319.07V322.61M327.03 320.84H331.77M329.4 322.61V326.15M327.03 324.38H331.77M334.14 319.07V322.61M331.77 320.84H336.51M334.14 322.61V326.15M331.77 324.38H336.51M341.25 319.07V326.15M336.51 322.61H345.99M338.88 319.07V322.61M336.51 320.84H341.25M338.88 322.61V326.15M336.51 324.38H341.25M343.62 322.61V326.15M341.25 324.38H345.99M336.51 326.15V340.3M327.03 333.23H345.99M341.25 326.15V333.23M336.51 329.69H345.99M343.62 326.15V329.69M341.25 327.92H345.99M355.47 312V326.15M345.99 319.07H364.95M350.73 319.07V326.15M345.99 322.61H355.47M348.36 322.61V326.15M345.99 324.38H350.73M355.47 326.15V340.3M345.99 333.23H364.95M350.73 326.15V333.23M345.99 329.69H355.47M348.36 326.15V329.69M345.99 327.92H350.73M348.36 329.69V333.23M345.99 331.46H350.73M353.1 326.15V329.69M350.73 327.92H355.47M350.73 333.23V340.3M345.99 336.76H355.47M348.36 333.23V336.76M345.99 334.99H350.73M360.21 326.15V333.23M355.47 329.69H364.95M357.84 326.15V329.69M355.47 327.92H360.21M357.84 329.69V333.23M355.47 331.46H360.21M362.58 326.15V329.69M360.21 327.92H364.95M362.58 329.69V333.23M360.21 331.46H364.95M289.1 340.3V453.5M213.25 396.9H364.95M251.18 340.3V396.9M213.25 368.6H289.1M270.14 340.3V368.6M251.18 354.45H289.1M260.66 340.3V354.45M251.18 347.38H270.14M265.4 340.3V347.38M260.66 343.84H270.14M267.77 340.3V343.84M265.4 342.07H270.14M279.62 340.3V354.45M270.14 347.38H289.1M274.88 340.3V347.38M270.14 343.84H279.62M272.51 340.3V343.84M270.14 342.07H274.88M277.25 340.3V343.84M274.88 342.07H279.62M277.25 343.84V347.38M274.88 345.61H279.62M284.36 340.3V347.38M279.62 343.84H289.1M281.99 340.3V343.84M279.62 342.07H284.36M281.99 343.84V347.38M279.62 345.61H284.36M286.73 340.3V343.84M284.36 342.07H289.1M286.73 343.84V347.38M284.36 345.61H289.1M251.18 396.9V453.5M213.25 425.2H289.1M232.21 425.2V453.5M213.25 439.35H251.18M241.69 439.35V453.5M232.21 446.43H251.18M246.43 439.35V446.43M241.69 442.89H251.18M244.06 442.89V446.43M241.69 444.66H246.43M248.8 439.35V442.89M246.43 441.12H251.18M248.8 442.89V446.43M246.43 444.66H251.18M246.43 446.43V453.5M241.69 449.96H251.18M244.06 446.43V449.96M241.69 448.19H246.43M244.06 449.96V453.5M241.69 451.73H246.43M248.8 446.43V449.96M246.43 448.19H251.18M248.8 449.96V453.5M246.43 451.73H251.18M270.14 396.9V425.2M251.18 411.05H289.1M260.66 411.05V425.2M251.18 418.12H270.14M265.4 418.12V425.2M260.66 421.66H270.14M263.03 421.66V425.2M260.66 423.43H265.4M267.77 418.12V421.66M265.4 419.89H270.14M267.77 421.66V425.2M265.4 423.43H270.14M279.62 396.9V411.05M270.14 403.98H289.1M284.36 396.9V403.98M279.62 400.44H289.1M286.73 400.44V403.98M284.36 402.21H289.1M284.36 403.98V411.05M279.62 407.51H289.1M281.99 407.51V411.05M279.62 409.28H284.36M286.73 403.98V407.51M284.36 405.74H289.1M286.73 407.51V411.05M284.36 409.28H289.1M279.62 411.05V425.2M270.14 418.12H289.1M274.88 411.05V418.12M270.14 414.59H279.62M272.51 414.59V418.12M270.14 416.36H274.88M277.25 411.05V414.59M274.88 412.82H279.62M277.25 414.59V418.12M274.88 416.36H279.62M274.88 418.12V425.2M270.14 421.66H279.62M272.51 418.12V421.66M270.14 419.89H274.88M272.51 421.66V425.2M270.14 423.43H274.88M277.25 418.12V421.66M274.88 419.89H279.62M284.36 411.05V418.12M279.62 414.59H289.1M281.99 411.05V414.59M279.62 412.82H284.36M281.99 414.59V418.12M279.62 416.36H284.36M286.73 411.05V414.59M284.36 412.82H289.1M270.14 425.2V453.5M251.18 439.35H289.1M260.66 425.2V439.35M251.18 432.27H270.14M255.92 425.2V432.27M251.18 428.74H260.66M258.29 425.2V428.74M255.92 426.97H260.66M258.29 428.74V432.27M255.92 430.51H260.66M255.92 432.27V439.35M251.18 435.81H260.66M253.55 432.27V435.81M251.18 434.04H255.92M253.55 435.81V439.35M251.18 437.58H255.92M258.29 432.27V435.81M255.92 434.04H260.66M258.29 435.81V439.35M255.92 437.58H260.66M265.4 425.2V432.27M260.66 428.74H270.14M263.03 425.2V428.74M260.66 426.97H265.4M263.03 428.74V432.27M260.66 430.51H265.4M265.4 432.27V439.35M260.66 435.81H270.14M267.77 435.81V439.35M265.4 437.58H270.14M260.66 439.35V453.5M251.18 446.43H270.14M255.92 439.35V446.43M251.18 442.89H260.66M253.55 439.35V442.89M251.18 441.12H255.92M253.55 442.89V446.43M251.18 444.66H255.92M258.29 439.35V442.89M255.92 441.12H260.66M258.29 442.89V446.43M255.92 444.66H260.66M255.92 446.43V453.5M251.18 449.96H260.66M253.55 446.43V449.96M251.18 448.19H255.92M253.55 449.96V453.5M251.18 451.73H255.92M258.29 446.43V449.96M255.92 448.19H260.66M258.29 449.96V453.5M255.92 451.73H260.66M265.4 439.35V446.43M260.66 442.89H270.14M263.03 439.35V442.89M260.66 441.12H265.4M263.03 442.89V446.43M260.66 444.66H265.4M267.77 439.35V442.89M265.4 441.12H270.14M265.4 446.43V453.5M260.66 449.96H270.14M263.03 446.43V449.96M260.66 448.19H265.4M279.62 425.2V439.35M270.14 432.27H289.1M274.88 432.27V439.35M270.14 435.81H279.62M272.51 435.81V439.35M270.14 437.58H274.88M277.25 432.27V435.81M274.88 434.04H279.62M277.25 435.81V439.35M274.88 437.58H279.62M284.36 432.27V439.35M279.62 435.81H289.1M281.99 432.27V435.81M279.62 434.04H284.36M281.99 435.81V439.35M279.62 437.58H284.36M286.73 432.27V435.81M284.36 434.04H289.1M286.73 435.81V439.35M284.36 437.58H289.1M279.62 439.35V453.5M270.14 446.43H289.1M274.88 439.35V446.43M270.14 442.89H279.62M272.51 439.35V442.89M270.14 441.12H274.88M327.03 340.3V396.9M289.1 368.6H364.95M308.06 340.3V368.6M289.1 354.45H327.03M298.58 340.3V354.45M289.1 347.38H308.06M293.84 340.3V347.38M289.1 343.84H298.58M291.47 343.84V347.38M289.1 345.61H293.84M296.21 343.84V347.38M293.84 345.61H298.58M293.84 347.38V354.45M289.1 350.91H298.58M291.47 347.38V350.91M289.1 349.14H293.84M296.21 347.38V350.91M293.84 349.14H298.58M303.32 340.3V347.38M298.58 343.84H308.06M300.95 343.84V347.38M298.58 345.61H303.32M305.69 343.84V347.38M303.32 345.61H308.06M303.32 347.38V354.45M298.58 350.91H308.06M300.95 347.38V350.91M298.58 349.14H303.32M305.69 347.38V350.91M303.32 349.14H308.06M317.54 340.3V354.45M308.06 347.38H327.03M312.8 347.38V354.45M308.06 350.91H317.54M310.43 347.38V350.91M308.06 349.14H312.8M322.28 340.3V347.38M317.54 343.84H327.03M319.91 340.3V343.84M317.54 342.07H322.28M324.65 340.3V343.84M322.28 342.07H327.03M324.65 343.84V347.38M322.28 345.61H327.03M308.06 368.6V396.9M289.1 382.75H327.03M298.58 382.75V396.9M289.1 389.82H308.06M293.84 382.75V389.82M289.1 386.29H298.58M296.21 386.29V389.82M293.84 388.06H298.58M293.84 389.82V396.9M289.1 393.36H298.58M291.47 393.36V396.9M289.1 395.13H293.84M296.21 389.82V393.36M293.84 391.59H298.58M296.21 393.36V396.9M293.84 395.13H298.58M303.32 382.75V389.82M298.58 386.29H308.06M300.95 382.75V386.29M298.58 384.52H303.32M300.95 386.29V389.82M298.58 388.06H303.32M305.69 382.75V386.29M303.32 384.52H308.06M305.69 386.29V389.82M303.32 388.06H308.06M303.32 389.82V396.9M298.58 393.36H308.06M300.95 389.82V393.36M298.58 391.59H303.32M300.95 393.36V396.9M298.58 395.13H303.32M305.69 393.36V396.9M303.32 395.13H308.06M317.54 368.6V382.75M308.06 375.68H327.03M322.28 368.6V375.68M317.54 372.14H327.03M319.91 372.14V375.68M317.54 373.91H322.28M324.65 368.6V372.14M322.28 370.37H327.03M324.65 372.14V375.68M322.28 373.91H327.03M322.28 375.68V382.75M317.54 379.21H327.03M319.91 375.68V379.21M317.54 377.44H322.28M319.91 379.21V382.75M317.54 380.98H322.28M324.65 375.68V379.21M322.28 377.44H327.03M317.54 382.75V396.9M308.06 389.82H327.03M312.8 389.82V396.9M308.06 393.36H317.54M310.43 393.36V396.9M308.06 395.13H312.8M315.17 389.82V393.36M312.8 391.59H317.54M315.17 393.36V396.9M312.8 395.13H317.54M322.28 382.75V389.82M317.54 386.29H327.03M319.91 382.75V386.29M317.54 384.52H322.28M319.91 386.29V389.82M317.54 388.06H322.28M324.65 382.75V386.29M322.28 384.52H327.03M324.65 386.29V389.82M322.28 388.06H327.03M322.28 389.82V396.9M317.54 393.36H327.03M319.91 389.82V393.36M317.54 391.59H322.28M319.91 393.36V396.9M317.54 395.13H322.28M324.65 393.36V396.9M322.28 395.13H327.03M345.99 340.3V368.6M327.03 354.45H364.95M336.51 340.3V354.45M327.03 347.38H345.99M331.77 340.3V347.38M327.03 343.84H336.51M329.4 340.3V343.84M327.03 342.07H331.77M329.4 343.84V347.38M327.03 345.61H331.77M334.14 343.84V347.38M331.77 345.61H336.51M331.77 347.38V354.45M327.03 350.91H336.51M334.14 347.38V350.91M331.77 349.14H336.51M341.25 340.3V347.38M336.51 343.84H345.99M338.88 343.84V347.38M336.51 345.61H341.25M343.62 343.84V347.38M341.25 345.61H345.99M341.25 347.38V354.45M336.51 350.91H345.99M338.88 347.38V350.91M336.51 349.14H341.25M343.62 347.38V350.91M341.25 349.14H345.99M336.51 354.45V368.6M327.03 361.52H345.99M331.77 361.52V368.6M327.03 365.06H336.51M329.4 365.06V368.6M327.03 366.83H331.77M334.14 361.52V365.06M331.77 363.29H336.51M334.14 365.06V368.6M331.77 366.83H336.51M341.25 354.45V361.52M336.51 357.99H345.99M338.88 357.99V361.52M336.51 359.76H341.25M343.62 357.99V361.52M341.25 359.76H345.99M341.25 361.52V368.6M336.51 365.06H345.99M338.88 361.52V365.06M336.51 363.29H341.25M338.88 365.06V368.6M336.51 366.83H341.25M343.62 361.52V365.06M341.25 363.29H345.99M343.62 365.06V368.6M341.25 366.83H345.99M355.47 340.3V354.45M345.99 347.38H364.95M350.73 340.3V347.38M345.99 343.84H355.47M348.36 343.84V347.38M345.99 345.61H350.73M350.73 347.38V354.45M345.99 350.91H355.47M348.36 347.38V350.91M345.99 349.14H350.73M353.1 347.38V350.91M350.73 349.14H355.47M353.1 350.91V354.45M350.73 352.68H355.47M360.21 347.38V354.45M355.47 350.91H364.95M357.84 347.38V350.91M355.47 349.14H360.21M357.84 350.91V354.45M355.47 352.68H360.21M362.58 347.38V350.91M360.21 349.14H364.95M362.58 350.91V354.45M360.21 352.68H364.95M355.47 354.45V368.6M345.99 361.52H364.95M350.73 354.45V361.52M345.99 357.99H355.47M348.36 354.45V357.99M345.99 356.22H350.73M348.36 357.99V361.52M345.99 359.76H350.73M353.1 357.99V361.52M350.73 359.76H355.47M350.73 361.52V368.6M345.99 365.06H355.47M348.36 361.52V365.06M345.99 363.29H350.73M353.1 361.52V365.06M350.73 363.29H355.47M345.99 368.6V396.9M327.03 382.75H364.95M336.51 368.6V382.75M327.03 375.68H345.99M331.77 368.6V375.68M327.03 372.14H336.51M329.4 368.6V372.14M327.03 370.37H331.77M334.14 368.6V372.14M331.77 370.37H336.51M336.51 382.75V396.9M327.03 389.82H345.99M331.77 382.75V389.82M327.03 386.29H336.51M329.4 386.29V389.82M327.03 388.06H331.77M334.14 386.29V389.82M331.77 388.06H336.51M331.77 389.82V396.9M327.03 393.36H336.51M329.4 393.36V396.9M327.03 395.13H331.77M341.25 382.75V389.82M336.51 386.29H345.99M338.88 382.75V386.29M336.51 384.52H341.25M338.88 386.29V389.82M336.51 388.06H341.25M343.62 382.75V386.29M341.25 384.52H345.99M343.62 386.29V389.82M341.25 388.06H345.99M341.25 389.82V396.9M336.51 393.36H345.99M343.62 389.82V393.36M341.25 391.59H345.99M343.62 393.36V396.9M341.25 395.13H345.99M355.47 368.6V382.75M345.99 375.68H364.95M350.73 375.68V382.75M345.99 379.21H355.47M353.1 379.21V382.75M350.73 380.98H355.47M360.21 375.68V382.75M355.47 379.21H364.95M357.84 375.68V379.21M355.47 377.44H360.21M357.84 379.21V382.75M355.47 380.98H360.21M362.58 375.68V379.21M360.21 377.44H364.95M362.58 379.21V382.75M360.21 380.98H364.95M355.47 382.75V396.9M345.99 389.82H364.95M350.73 382.75V389.82M345.99 386.29H355.47M348.36 382.75V386.29M345.99 384.52H350.73M348.36 386.29V389.82M345.99 388.06H350.73M353.1 382.75V386.29M350.73 384.52H355.47M350.73 389.82V396.9M345.99 393.36H355.47M348.36 389.82V393.36M345.99 391.59H350.73M348.36 393.36V396.9M345.99 395.13H350.73M360.21 382.75V389.82M355.47 386.29H364.95M357.84 382.75V386.29M355.47 384.52H360.21M357.84 386.29V389.82M355.47 388.06H360.21M362.58 382.75V386.29M360.21 384.52H364.95M362.58 386.29V389.82M360.21 388.06H364.95M360.21 389.82V396.9M355.47 393.36H364.95M357.84 389.82V393.36M355.47 391.59H360.21M357.84 393.36V396.9M355.47 395.13H360.21M362.58 389.82V393.36M360.21 391.59H364.95M362.58 393.36V396.9M360.21 395.13H364.95M327.03 396.9V453.5M289.1 425.2H364.95M308.06 396.9V425.2M289.1 411.05H327.03M298.58 396.9V411.05M289.1 403.98H308.06M293.84 396.9V403.98M289.1 400.44H298.58M291.47 396.9V400.44M289.1 398.67H293.84M291.47 400.44V403.98M289.1 402.21H293.84M296.21 396.9V400.44M293.84 398.67H298.58M293.84 403.98V411.05M289.1 407.51H298.58M291.47 403.98V407.51M289.1 405.74H293.84M291.47 407.51V411.05M289.1 409.28H293.84M303.32 396.9V403.98M298.58 400.44H308.06M300.95 396.9V400.44M298.58 398.67H303.32M305.69 396.9V400.44M303.32 398.67H308.06M298.58 411.05V425.2M289.1 418.12H308.06M293.84 418.12V425.2M289.1 421.66H298.58M291.47 421.66V425.2M289.1 423.43H293.84M296.21 421.66V425.2M293.84 423.43H298.58M303.32 418.12V425.2M298.58 421.66H308.06M300.95 421.66V425.2M298.58 423.43H303.32M317.54 396.9V411.05M308.06 403.98H327.03M312.8 396.9V403.98M308.06 400.44H317.54M310.43 396.9V400.44M308.06 398.67H312.8M322.28 396.9V403.98M317.54 400.44H327.03M319.91 396.9V400.44M317.54 398.67H322.28M319.91 400.44V403.98M317.54 402.21H322.28M324.65 396.9V400.44M322.28 398.67H327.03M324.65 400.44V403.98M322.28 402.21H327.03M322.28 403.98V411.05M317.54 407.51H327.03M324.65 403.98V407.51M322.28 405.74H327.03M324.65 407.51V411.05M322.28 409.28H327.03M308.06 425.2V453.5M289.1 439.35H327.03M298.58 425.2V439.35M289.1 432.27H308.06M293.84 425.2V432.27M289.1 428.74H298.58M291.47 425.2V428.74M289.1 426.97H293.84M291.47 428.74V432.27M289.1 430.51H293.84M296.21 425.2V428.74M293.84 426.97H298.58M296.21 428.74V432.27M293.84 430.51H298.58M293.84 432.27V439.35M289.1 435.81H298.58M291.47 432.27V435.81M289.1 434.04H293.84M303.32 425.2V432.27M298.58 428.74H308.06M300.95 425.2V428.74M298.58 426.97H303.32M300.95 428.74V432.27M298.58 430.51H303.32M305.69 428.74V432.27M303.32 430.51H308.06M303.32 432.27V439.35M298.58 435.81H308.06M300.95 432.27V435.81M298.58 434.04H303.32M305.69 432.27V435.81M303.32 434.04H308.06M305.69 435.81V439.35M303.32 437.58H308.06M317.54 425.2V439.35M308.06 432.27H327.03M312.8 425.2V432.27M308.06 428.74H317.54M310.43 428.74V432.27M308.06 430.51H312.8M312.8 432.27V439.35M308.06 435.81H317.54M310.43 432.27V435.81M308.06 434.04H312.8M310.43 435.81V439.35M308.06 437.58H312.8M315.17 432.27V435.81M312.8 434.04H317.54M315.17 435.81V439.35M312.8 437.58H317.54M322.28 432.27V439.35M317.54 435.81H327.03M319.91 432.27V435.81M317.54 434.04H322.28M319.91 435.81V439.35M317.54 437.58H322.28M324.65 432.27V435.81M322.28 434.04H327.03M324.65 435.81V439.35M322.28 437.58H327.03M317.54 439.35V453.5M308.06 446.43H327.03M312.8 439.35V446.43M308.06 442.89H317.54M310.43 439.35V442.89M308.06 441.12H312.8M310.43 442.89V446.43M308.06 444.66H312.8M315.17 439.35V442.89M312.8 441.12H317.54M315.17 442.89V446.43M312.8 444.66H317.54M312.8 446.43V453.5M308.06 449.96H317.54M310.43 446.43V449.96M308.06 448.19H312.8M315.17 446.43V449.96M312.8 448.19H317.54M315.17 449.96V453.5M312.8 451.73H317.54M322.28 439.35V446.43M317.54 442.89H327.03M319.91 442.89V446.43M317.54 444.66H322.28M324.65 442.89V446.43M322.28 444.66H327.03M322.28 446.43V453.5M317.54 449.96H327.03M319.91 446.43V449.96M317.54 448.19H322.28M324.65 446.43V449.96M322.28 448.19H327.03M345.99 396.9V425.2M327.03 411.05H364.95M336.51 396.9V411.05M327.03 403.98H345.99M331.77 396.9V403.98M327.03 400.44H336.51M329.4 396.9V400.44M327.03 398.67H331.77M329.4 400.44V403.98M327.03 402.21H331.77M334.14 396.9V400.44M331.77 398.67H336.51M334.14 400.44V403.98M331.77 402.21H336.51M331.77 403.98V411.05M327.03 407.51H336.51M329.4 403.98V407.51M327.03 405.74H331.77M329.4 407.51V411.05M327.03 409.28H331.77M334.14 403.98V407.51M331.77 405.74H336.51M334.14 407.51V411.05M331.77 409.28H336.51M341.25 396.9V403.98M336.51 400.44H345.99M343.62 396.9V400.44M341.25 398.67H345.99M341.25 403.98V411.05M336.51 407.51H345.99M338.88 403.98V407.51M336.51 405.74H341.25M338.88 407.51V411.05M336.51 409.28H341.25M343.62 403.98V407.51M341.25 405.74H345.99M343.62 407.51V411.05M341.25 409.28H345.99M336.51 411.05V425.2M327.03 418.12H345.99M331.77 411.05V418.12M327.03 414.59H336.51M334.14 411.05V414.59M331.77 412.82H336.51M341.25 411.05V418.12M336.51 414.59H345.99M338.88 411.05V414.59M336.51 412.82H341.25M338.88 414.59V418.12M336.51 416.36H341.25M343.62 411.05V414.59M341.25 412.82H345.99M343.62 414.59V418.12M341.25 416.36H345.99M341.25 418.12V425.2M336.51 421.66H345.99M343.62 418.12V421.66M341.25 419.89H345.99M355.47 396.9V411.05M345.99 403.98H364.95M350.73 396.9V403.98M345.99 400.44H355.47M348.36 396.9V400.44M345.99 398.67H350.73M348.36 400.44V403.98M345.99 402.21H350.73M353.1 396.9V400.44M350.73 398.67H355.47M353.1 400.44V403.98M350.73 402.21H355.47M350.73 403.98V411.05M345.99 407.51H355.47M348.36 403.98V407.51M345.99 405.74H350.73M348.36 407.51V411.05M345.99 409.28H350.73M353.1 403.98V407.51M350.73 405.74H355.47M353.1 407.51V411.05M350.73 409.28H355.47M360.21 396.9V403.98M355.47 400.44H364.95M357.84 400.44V403.98M355.47 402.21H360.21M362.58 396.9V400.44M360.21 398.67H364.95M362.58 400.44V403.98M360.21 402.21H364.95M360.21 403.98V411.05M355.47 407.51H364.95M357.84 403.98V407.51M355.47 405.74H360.21M357.84 407.51V411.05M355.47 409.28H360.21M362.58 403.98V407.51M360.21 405.74H364.95M355.47 411.05V425.2M345.99 418.12H364.95M350.73 411.05V418.12M345.99 414.59H355.47M348.36 411.05V414.59M345.99 412.82H350.73M348.36 414.59V418.12M345.99 416.36H350.73M353.1 411.05V414.59M350.73 412.82H355.47M353.1 414.59V418.12M350.73 416.36H355.47M350.73 418.12V425.2M345.99 421.66H355.47M348.36 418.12V421.66M345.99 419.89H350.73M348.36 421.66V425.2M345.99 423.43H350.73M353.1 418.12V421.66M350.73 419.89H355.47M353.1 421.66V425.2M350.73 423.43H355.47M360.21 411.05V418.12M355.47 414.59H364.95M357.84 411.05V414.59M355.47 412.82H360.21M357.84 414.59V418.12M355.47 416.36H360.21M362.58 414.59V418.12M360.21 416.36H364.95M360.21 418.12V425.2M355.47 421.66H364.95M357.84 418.12V421.66M355.47 419.89H360.21M357.84 421.66V425.2M355.47 423.43H360.21M362.58 418.12V421.66M360.21 419.89H364.95M362.58 421.66V425.2M360.21 423.43H364.95M345.99 425.2V453.5M327.03 439.35H364.95M336.51 439.35V453.5M327.03 446.43H345.99M331.77 439.35V446.43M327.03 442.89H336.51M329.4 442.89V446.43M327.03 444.66H331.77M331.77 446.43V453.5M327.03 449.96H336.51M329.4 446.43V449.96M327.03 448.19H331.77M355.47 425.2V439.35M345.99 432.27H364.95M350.73 425.2V432.27M345.99 428.74H355.47M348.36 425.2V428.74M345.99 426.97H350.73M348.36 428.74V432.27M345.99 430.51H350.73M353.1 425.2V428.74M350.73 426.97H355.47M353.1 428.74V432.27M350.73 430.51H355.47M350.73 432.27V439.35M345.99 435.81H355.47M348.36 432.27V435.81M345.99 434.04H350.73M348.36 435.81V439.35M345.99 437.58H350.73M353.1 432.27V435.81M350.73 434.04H355.47M353.1 435.81V439.35M350.73 437.58H355.47M360.21 425.2V432.27M355.47 428.74H364.95M357.84 425.2V428.74M355.47 426.97H360.21M357.84 428.74V432.27M355.47 430.51H360.21M362.58 425.2V428.74M360.21 426.97H364.95M362.58 428.74V432.27M360.21 430.51H364.95M360.21 432.27V439.35M355.47 435.81H364.95M357.84 432.27V435.81M355.47 434.04H360.21M357.84 435.81V439.35M355.47 437.58H360.21M355.47 439.35V453.5M345.99 446.43H364.95M350.73 439.35V446.43M345.99 442.89H355.47M348.36 439.35V442.89M345.99 441.12H350.73M353.1 439.35V442.89M350.73 441.12H355.47M516.65 0.7V227.1M364.95 113.9H668.35M440.8 0.7V113.9M364.95 57.3H516.65M402.88 0.7V57.3M364.95 29H440.8M383.91 0.7V29M364.95 14.85H402.88M374.43 0.7V14.85M364.95 7.78H383.91M369.69 0.7V7.78M364.95 4.24H374.43M367.32 0.7V4.24M364.95 2.47H369.69M372.06 0.7V4.24M369.69 2.47H374.43M402.88 57.3V113.9M364.95 85.6H440.8M421.84 85.6V113.9M402.88 99.75H440.8M412.36 85.6V99.75M402.88 92.68H421.84M407.62 92.68V99.75M402.88 96.21H412.36M409.99 92.68V96.21M407.62 94.44H412.36M409.99 96.21V99.75M407.62 97.98H412.36M417.1 92.68V99.75M412.36 96.21H421.84M414.73 92.68V96.21M412.36 94.44H417.1M414.73 96.21V99.75M412.36 97.98H417.1M412.36 99.75V113.9M402.88 106.83H421.84M407.62 99.75V106.83M402.88 103.29H412.36M409.99 99.75V103.29M407.62 101.52H412.36M409.99 103.29V106.83M407.62 105.06H412.36M417.1 99.75V106.83M412.36 103.29H421.84M414.73 99.75V103.29M412.36 101.52H417.1M414.73 103.29V106.83M412.36 105.06H417.1M419.47 99.75V103.29M417.1 101.52H421.84M419.47 103.29V106.83M417.1 105.06H421.84M417.1 106.83V113.9M412.36 110.36H421.84M419.47 106.83V110.36M417.1 108.59H421.84M419.47 110.36V113.9M417.1 112.13H421.84M431.32 85.6V99.75M421.84 92.68H440.8M426.58 85.6V92.68M421.84 89.14H431.32M428.95 89.14V92.68M426.58 90.91H431.32M426.58 92.68V99.75M421.84 96.21H431.32M424.21 96.21V99.75M421.84 97.98H426.58M428.95 92.68V96.21M426.58 94.44H431.32M428.95 96.21V99.75M426.58 97.98H431.32M436.06 85.6V92.68M431.32 89.14H440.8M433.69 89.14V92.68M431.32 90.91H436.06M436.06 92.68V99.75M431.32 96.21H440.8M433.69 92.68V96.21M431.32 94.44H436.06M433.69 96.21V99.75M431.32 97.98H436.06M431.32 99.75V113.9M421.84 106.83H440.8M426.58 99.75V106.83M421.84 103.29H431.32M424.21 99.75V103.29M421.84 101.52H426.58M424.21 103.29V106.83M421.84 105.06H426.58M428.95 99.75V103.29M426.58 101.52H431.32M428.95 103.29V106.83M426.58 105.06H431.32M426.58 106.83V113.9M421.84 110.36H431.32M424.21 106.83V110.36M421.84 108.59H426.58M424.21 110.36V113.9M421.84 112.13H426.58M428.95 106.83V110.36M426.58 108.59H431.32M436.06 99.75V106.83M431.32 103.29H440.8M433.69 99.75V103.29M431.32 101.52H436.06M433.69 103.29V106.83M431.32 105.06H436.06M436.06 106.83V113.9M431.32 110.36H440.8M433.69 106.83V110.36M431.32 108.59H436.06M433.69 110.36V113.9M431.32 112.13H436.06M438.43 110.36V113.9M436.06 112.13H440.8M478.73 57.3V113.9M440.8 85.6H516.65M459.76 57.3V85.6M440.8 71.45H478.73M469.24 71.45V85.6M459.76 78.53H478.73M464.5 78.53V85.6M459.76 82.06H469.24M462.13 82.06V85.6M459.76 83.83H464.5M466.87 82.06V85.6M464.5 83.83H469.24M473.98 78.53V85.6M469.24 82.06H478.73M471.61 82.06V85.6M469.24 83.83H473.98M476.35 82.06V85.6M473.98 83.83H478.73M459.76 85.6V113.9M440.8 99.75H478.73M450.28 99.75V113.9M440.8 106.83H459.76M445.54 106.83V113.9M440.8 110.36H450.28M443.17 110.36V113.9M440.8 112.13H445.54M447.91 110.36V113.9M445.54 112.13H450.28M455.02 106.83V113.9M450.28 110.36H459.76M452.65 110.36V113.9M450.28 112.13H455.02M469.24 85.6V99.75M459.76 92.68H478.73M464.5 85.6V92.68M459.76 89.14H469.24M462.13 85.6V89.14M459.76 87.37H464.5M466.87 85.6V89.14M464.5 87.37H469.24M473.98 92.68V99.75M469.24 96.21H478.73M471.61 92.68V96.21M469.24 94.44H473.98M471.61 96.21V99.75M469.24 97.98H473.98M476.35 92.68V96.21M473.98 94.44H478.73M476.35 96.21V99.75M473.98 97.98H478.73M469.24 99.75V113.9M459.76 106.83H478.73M473.98 99.75V106.83M469.24 103.29H478.73M476.35 99.75V103.29M473.98 101.52H478.73M497.69 57.3V85.6M478.73 71.45H516.65M488.21 71.45V85.6M478.73 78.53H497.69M483.47 78.53V85.6M478.73 82.06H488.21M481.1 82.06V85.6M478.73 83.83H483.47M492.95 78.53V85.6M488.21 82.06H497.69M490.58 82.06V85.6M488.21 83.83H492.95M495.32 82.06V85.6M492.95 83.83H497.69M507.17 71.45V85.6M497.69 78.53H516.65M502.43 78.53V85.6M497.69 82.06H507.17M500.06 82.06V85.6M497.69 83.83H502.43M497.69 85.6V113.9M478.73 99.75H516.65M488.21 85.6V99.75M478.73 92.68H497.69M483.47 85.6V92.68M478.73 89.14H488.21M481.1 85.6V89.14M478.73 87.37H483.47M481.1 89.14V92.68M478.73 90.91H483.47M483.47 92.68V99.75M478.73 96.21H488.21M481.1 92.68V96.21M478.73 94.44H483.47M481.1 96.21V99.75M478.73 97.98H483.47M492.95 85.6V92.68M488.21 89.14H497.69M490.58 85.6V89.14M488.21 87.37H492.95M490.58 89.14V92.68M488.21 90.91H492.95M495.32 85.6V89.14M492.95 87.37H497.69M495.32 89.14V92.68M492.95 90.91H497.69M488.21 99.75V113.9M478.73 106.83H497.69M483.47 99.75V106.83M478.73 103.29H488.21M481.1 99.75V103.29M478.73 101.52H483.47M492.95 106.83V113.9M488.21 110.36H497.69M495.32 110.36V113.9M492.95 112.13H497.69M507.17 85.6V99.75M497.69 92.68H516.65M502.43 85.6V92.68M497.69 89.14H507.17M500.06 85.6V89.14M497.69 87.37H502.43M500.06 89.14V92.68M497.69 90.91H502.43M504.8 85.6V89.14M502.43 87.37H507.17M504.8 89.14V92.68M502.43 90.91H507.17M502.43 92.68V99.75M497.69 96.21H507.17M500.06 96.21V99.75M497.69 97.98H502.43M504.8 96.21V99.75M502.43 97.98H507.17M511.91 85.6V92.68M507.17 89.14H516.65M509.54 89.14V92.68M507.17 90.91H511.91M511.91 92.68V99.75M507.17 96.21H516.65M509.54 92.68V96.21M507.17 94.44H511.91M514.28 92.68V96.21M511.91 94.44H516.65M507.17 99.75V113.9M497.69 106.83H516.65M502.43 106.83V113.9M497.69 110.36H507.17M500.06 110.36V113.9M497.69 112.13H502.43M504.8 106.83V110.36M502.43 108.59H507.17M504.8 110.36V113.9M502.43 112.13H507.17M511.91 99.75V106.83M507.17 103.29H516.65M514.28 103.29V106.83M511.91 105.06H516.65M511.91 106.83V113.9M507.17 110.36H516.65M509.54 106.83V110.36M507.17 108.59H511.91M509.54 110.36V113.9M507.17 112.13H511.91M514.28 106.83V110.36M511.91 108.59H516.65M440.8 113.9V227.1M364.95 170.5H516.65M402.88 113.9V170.5M364.95 142.2H440.8M383.91 113.9V142.2M364.95 128.05H402.88M374.43 128.05V142.2M364.95 135.12H383.91M379.17 135.12V142.2M374.43 138.66H383.91M381.54 135.12V138.66M379.17 136.89H383.91M381.54 138.66V142.2M379.17 140.43H383.91M393.39 128.05V142.2M383.91 135.12H402.88M388.65 128.05V135.12M383.91 131.59H393.39M386.28 128.05V131.59M383.91 129.82H388.65M386.28 131.59V135.12M383.91 133.36H388.65M391.02 128.05V131.59M388.65 129.82H393.39M391.02 131.59V135.12M388.65 133.36H393.39M388.65 135.12V142.2M383.91 138.66H393.39M386.28 135.12V138.66M383.91 136.89H388.65M386.28 138.66V142.2M383.91 140.43H388.65M383.91 142.2V170.5M364.95 156.35H402.88M374.43 156.35V170.5M364.95 163.42H383.91M379.17 163.42V170.5M374.43 166.96H383.91M376.8 166.96V170.5M374.43 168.73H379.17M381.54 166.96V170.5M379.17 168.73H383.91M393.39 142.2V156.35M383.91 149.28H402.88M398.13 142.2V149.28M393.39 145.74H402.88M395.76 145.74V149.28M393.39 147.51H398.13M400.5 145.74V149.28M398.13 147.51H402.88M398.13 149.28V156.35M393.39 152.81H402.88M395.76 149.28V152.81M393.39 151.04H398.13M400.5 149.28V152.81M398.13 151.04H402.88M393.39 156.35V170.5M383.91 163.42H402.88M388.65 163.42V170.5M383.91 166.96H393.39M386.28 166.96V170.5M383.91 168.73H388.65M398.13 163.42V170.5M393.39 166.96H402.88M395.76 163.42V166.96M393.39 165.19H398.13M395.76 166.96V170.5M393.39 168.73H398.13M400.5 163.42V166.96M398.13 165.19H402.88M400.5 166.96V170.5M398.13 168.73H402.88M421.84 113.9V142.2M402.88 128.05H440.8M412.36 113.9V128.05M402.88 120.98H421.84M417.1 113.9V120.98M412.36 117.44H421.84M414.73 117.44V120.98M412.36 119.21H417.1M419.47 113.9V117.44M417.1 115.67H421.84M419.47 117.44V120.98M417.1 119.21H421.84M417.1 120.98V128.05M412.36 124.51H421.84M414.73 120.98V124.51M412.36 122.74H417.1M414.73 124.51V128.05M412.36 126.28H417.1M419.47 120.98V124.51M417.1 122.74H421.84M419.47 124.51V128.05M417.1 126.28H421.84M412.36 128.05V142.2M402.88 135.12H421.84M417.1 135.12V142.2M412.36 138.66H421.84M419.47 135.12V138.66M417.1 136.89H421.84M419.47 138.66V142.2M417.1 140.43H421.84M431.32 113.9V128.05M421.84 120.98H440.8M426.58 113.9V120.98M421.84 117.44H431.32M424.21 113.9V117.44M421.84 115.67H426.58M424.21 117.44V120.98M421.84 119.21H426.58M428.95 117.44V120.98M426.58 119.21H431.32M426.58 120.98V128.05M421.84 124.51H431.32M424.21 120.98V124.51M421.84 122.74H426.58M428.95 120.98V124.51M426.58 122.74H431.32M428.95 124.51V128.05M426.58 126.28H431.32M436.06 113.9V120.98M431.32 117.44H440.8M433.69 113.9V117.44M431.32 115.67H436.06M438.43 113.9V117.44M436.06 115.67H440.8M438.43 117.44V120.98M436.06 119.21H440.8M436.06 120.98V128.05M431.32 124.51H440.8M433.69 120.98V124.51M431.32 122.74H436.06M433.69 124.51V128.05M431.32 126.28H436.06M431.32 128.05V142.2M421.84 135.12H440.8M426.58 135.12V142.2M421.84 138.66H431.32M428.95 138.66V142.2M426.58 140.43H431.32M436.06 135.12V142.2M431.32 138.66H440.8M433.69 138.66V142.2M431.32 140.43H436.06M421.84 142.2V170.5M402.88 156.35H440.8M412.36 142.2V156.35M402.88 149.28H421.84M407.62 142.2V149.28M402.88 145.74H412.36M405.25 142.2V145.74M402.88 143.97H407.62M405.25 145.74V149.28M402.88 147.51H407.62M409.99 142.2V145.74M407.62 143.97H412.36M409.99 145.74V149.28M407.62 147.51H412.36M407.62 149.28V156.35M402.88 152.81H412.36M405.25 149.28V152.81M402.88 151.04H407.62M405.25 152.81V156.35M402.88 154.58H407.62M417.1 142.2V149.28M412.36 145.74H421.84M419.47 142.2V145.74M417.1 143.97H421.84M402.88 170.5V227.1M364.95 198.8H440.8M383.91 170.5V198.8M364.95 184.65H402.88M374.43 170.5V184.65M364.95 177.57H383.91M379.17 170.5V177.57M374.43 174.04H383.91M376.8 170.5V174.04M374.43 172.27H379.17M381.54 170.5V174.04M379.17 172.27H383.91M379.17 177.57V184.65M374.43 181.11H383.91M381.54 177.57V181.11M379.17 179.34H383.91M381.54 181.11V184.65M379.17 182.88H383.91M374.43 184.65V198.8M364.95 191.72H383.91M369.69 184.65V191.72M364.95 188.19H374.43M372.06 184.65V188.19M369.69 186.42H374.43M372.06 188.19V191.72M369.69 189.96H374.43M379.17 184.65V191.72M374.43 188.19H383.91M376.8 184.65V188.19M374.43 186.42H379.17M376.8 188.19V191.72M374.43 189.96H379.17M381.54 184.65V188.19M379.17 186.42H383.91M381.54 188.19V191.72M379.17 189.96H383.91M379.17 191.72V198.8M374.43 195.26H383.91M381.54 191.72V195.26M379.17 193.49H383.91M381.54 195.26V198.8M379.17 197.03H383.91M393.39 170.5V184.65M383.91 177.57H402.88M388.65 170.5V177.57M383.91 174.04H393.39M386.28 170.5V174.04M383.91 172.27H388.65M386.28 174.04V177.57M383.91 175.81H388.65M391.02 174.04V177.57M388.65 175.81H393.39M388.65 177.57V184.65M383.91 181.11H393.39M386.28 177.57V181.11M383.91 179.34H388.65M386.28 181.11V184.65M383.91 182.88H388.65M391.02 177.57V181.11M388.65 179.34H393.39M391.02 181.11V184.65M388.65 182.88H393.39M398.13 170.5V177.57M393.39 174.04H402.88M395.76 170.5V174.04M393.39 172.27H398.13M395.76 174.04V177.57M393.39 175.81H398.13M400.5 170.5V174.04M398.13 172.27H402.88M400.5 174.04V177.57M398.13 175.81H402.88M398.13 177.57V184.65M393.39 181.11H402.88M395.76 177.57V181.11M393.39 179.34H398.13M395.76 181.11V184.65M393.39 182.88H398.13M400.5 177.57V181.11M398.13 179.34H402.88M400.5 181.11V184.65M398.13 182.88H402.88M393.39 184.65V198.8M383.91 191.72H402.88M388.65 184.65V191.72M383.91 188.19H393.39M386.28 184.65V188.19M383.91 186.42H388.65M386.28 188.19V191.72M383.91 189.96H388.65M391.02 184.65V188.19M388.65 186.42H393.39M388.65 191.72V198.8M383.91 195.26H393.39M386.28 191.72V195.26M383.91 193.49H388.65M386.28 195.26V198.8M383.91 197.03H388.65M398.13 184.65V191.72M393.39 188.19H402.88M395.76 184.65V188.19M393.39 186.42H398.13M400.5 184.65V188.19M398.13 186.42H402.88M400.5 188.19V191.72M398.13 189.96H402.88M398.13 191.72V198.8M393.39 195.26H402.88M395.76 195.26V198.8M393.39 197.03H398.13M400.5 195.26V198.8M398.13 197.03H402.88M383.91 198.8V227.1M364.95 212.95H402.88M393.39 198.8V212.95M383.91 205.88H402.88M388.65 198.8V205.88M383.91 202.34H393.39M386.28 198.8V202.34M383.91 200.57H388.65M391.02 198.8V202.34M388.65 200.57H393.39M398.13 198.8V205.88M393.39 202.34H402.88M395.76 198.8V202.34M393.39 200.57H398.13M400.5 198.8V202.34M398.13 200.57H402.88M421.84 170.5V198.8M402.88 184.65H440.8M412.36 170.5V184.65M402.88 177.57H421.84M407.62 170.5V177.57M402.88 174.04H412.36M405.25 174.04V177.57M402.88 175.81H407.62M407.62 177.57V184.65M402.88 181.11H412.36M405.25 177.57V181.11M402.88 179.34H407.62M405.25 181.11V184.65M402.88 182.88H407.62M409.99 177.57V181.11M407.62 179.34H412.36M409.99 181.11V184.65M407.62 182.88H412.36M417.1 177.57V184.65M412.36 181.11H421.84M419.47 177.57V181.11M417.1 179.34H421.84M419.47 181.11V184.65M417.1 182.88H421.84M412.36 184.65V198.8M402.88 191.72H421.84M407.62 184.65V191.72M402.88 188.19H412.36M405.25 184.65V188.19M402.88 186.42H407.62M409.99 184.65V188.19M407.62 186.42H412.36M409.99 188.19V191.72M407.62 189.96H412.36M407.62 191.72V198.8M402.88 195.26H412.36M405.25 195.26V198.8M402.88 197.03H407.62M409.99 195.26V198.8M407.62 197.03H412.36M417.1 184.65V191.72M412.36 188.19H421.84M414.73 184.65V188.19M412.36 186.42H417.1M414.73 188.19V191.72M412.36 189.96H417.1M419.47 184.65V188.19M417.1 186.42H421.84M419.47 188.19V191.72M417.1 189.96H421.84M417.1 191.72V198.8M412.36 195.26H421.84M414.73 195.26V198.8M412.36 197.03H417.1M419.47 191.72V195.26M417.1 193.49H421.84M419.47 195.26V198.8M417.1 197.03H421.84M431.32 184.65V198.8M421.84 191.72H440.8M426.58 184.65V191.72M421.84 188.19H431.32M424.21 188.19V191.72M421.84 189.96H426.58M426.58 191.72V198.8M421.84 195.26H431.32M424.21 191.72V195.26M421.84 193.49H426.58M424.21 195.26V198.8M421.84 197.03H426.58M428.95 191.72V195.26M426.58 193.49H431.32M428.95 195.26V198.8M426.58 197.03H431.32M436.06 191.72V198.8M431.32 195.26H440.8M433.69 191.72V195.26M431.32 193.49H436.06M433.69 195.26V198.8M431.32 197.03H436.06M438.43 195.26V198.8M436.06 197.03H440.8M421.84 198.8V227.1M402.88 212.95H440.8M412.36 198.8V212.95M402.88 205.88H421.84M407.62 198.8V205.88M402.88 202.34H412.36M405.25 198.8V202.34M402.88 200.57H407.62M409.99 198.8V202.34M407.62 200.57H412.36M417.1 198.8V205.88M412.36 202.34H421.84M414.73 198.8V202.34M412.36 200.57H417.1M431.32 198.8V212.95M421.84 205.88H440.8M426.58 198.8V205.88M421.84 202.34H431.32M424.21 198.8V202.34M421.84 200.57H426.58M428.95 198.8V202.34M426.58 200.57H431.32M436.06 198.8V205.88M431.32 202.34H440.8M433.69 198.8V202.34M431.32 200.57H436.06M433.69 202.34V205.88M431.32 204.11H436.06M438.43 198.8V202.34M436.06 200.57H440.8M438.43 202.34V205.88M436.06 204.11H440.8M478.73 113.9V170.5M440.8 142.2H516.65M459.76 113.9V142.2M440.8 128.05H478.73M450.28 113.9V128.05M440.8 120.98H459.76M445.54 113.9V120.98M440.8 117.44H450.28M443.17 113.9V117.44M440.8 115.67H445.54M443.17 117.44V120.98M440.8 119.21H445.54M447.91 113.9V117.44M445.54 115.67H450.28M447.91 117.44V120.98M445.54 119.21H450.28M445.54 120.98V128.05M440.8 124.51H450.28M443.17 120.98V124.51M440.8 122.74H445.54M443.17 124.51V128.05M440.8 126.28H445.54M447.91 120.98V124.51M445.54 122.74H450.28M447.91 124.51V128.05M445.54 126.28H450.28M455.02 113.9V120.98M450.28 117.44H459.76M452.65 113.9V117.44M450.28 115.67H455.02M455.02 120.98V128.05M450.28 124.51H459.76M452.65 120.98V124.51M450.28 122.74H455.02M452.65 124.51V128.05M450.28 126.28H455.02M457.39 120.98V124.51M455.02 122.74H459.76M457.39 124.51V128.05M455.02 126.28H459.76M450.28 128.05V142.2M440.8 135.12H459.76M445.54 128.05V135.12M440.8 131.59H450.28M443.17 128.05V131.59M440.8 129.82H445.54M443.17 131.59V135.12M440.8 133.36H445.54M447.91 128.05V131.59M445.54 129.82H450.28M455.02 128.05V135.12M450.28 131.59H459.76M452.65 128.05V131.59M450.28 129.82H455.02M452.65 131.59V135.12M450.28 133.36H455.02M457.39 128.05V131.59M455.02 129.82H459.76M457.39 131.59V135.12M455.02 133.36H459.76M469.24 113.9V128.05M459.76 120.98H478.73M464.5 120.98V128.05M459.76 124.51H469.24M462.13 124.51V128.05M459.76 126.28H464.5M469.24 128.05V142.2M459.76 135.12H478.73M464.5 128.05V135.12M459.76 131.59H469.24M462.13 128.05V131.59M459.76 129.82H464.5M462.13 131.59V135.12M459.76 133.36H464.5M497.69 113.9V142.2M478.73 128.05H516.65M488.21 113.9V128.05M478.73 120.98H497.69M492.95 113.9V120.98M488.21 117.44H497.69M495.32 113.9V117.44M492.95 115.67H497.69M507.17 113.9V128.05M497.69 120.98H516.65M502.43 113.9V120.98M497.69 117.44H507.17M500.06 113.9V117.44M497.69 115.67H502.43M504.8 113.9V117.44M502.43 115.67H507.17M504.8 117.44V120.98M502.43 119.21H507.17M511.91 113.9V120.98M507.17 117.44H516.65M509.54 113.9V117.44M507.17 115.67H511.91M509.54 117.44V120.98M507.17 119.21H511.91M514.28 117.44V120.98M511.91 119.21H516.65M478.73 170.5V227.1M440.8 198.8H516.65M459.76 170.5V198.8M440.8 184.65H478.73M450.28 184.65V198.8M440.8 191.72H459.76M445.54 191.72V198.8M440.8 195.26H450.28M443.17 191.72V195.26M440.8 193.49H445.54M443.17 195.26V198.8M440.8 197.03H445.54M447.91 191.72V195.26M445.54 193.49H450.28M447.91 195.26V198.8M445.54 197.03H450.28M459.76 198.8V227.1M440.8 212.95H478.73M450.28 198.8V212.95M440.8 205.88H459.76M445.54 198.8V205.88M440.8 202.34H450.28M443.17 198.8V202.34M440.8 200.57H445.54M443.17 202.34V205.88M440.8 204.11H445.54M592.5 0.7V113.9M516.65 57.3H668.35M554.58 57.3V113.9M516.65 85.6H592.5M535.61 85.6V113.9M516.65 99.75H554.58M526.13 99.75V113.9M516.65 106.83H535.61M521.39 99.75V106.83M516.65 103.29H526.13M519.02 103.29V106.83M516.65 105.06H521.39M521.39 106.83V113.9M516.65 110.36H526.13M519.02 106.83V110.36M516.65 108.59H521.39M519.02 110.36V113.9M516.65 112.13H521.39M523.76 106.83V110.36M521.39 108.59H526.13M523.76 110.36V113.9M521.39 112.13H526.13M592.5 113.9V227.1M516.65 170.5H668.35M554.58 113.9V170.5M516.65 142.2H592.5M535.61 113.9V142.2M516.65 128.05H554.58M526.13 113.9V128.05M516.65 120.98H535.61M521.39 113.9V120.98M516.65 117.44H526.13M523.76 113.9V117.44M521.39 115.67H526.13M523.76 117.44V120.98M521.39 119.21H526.13M554.58 170.5V227.1M516.65 198.8H592.5M535.61 170.5V198.8M516.65 184.65H554.58M545.09 184.65V198.8M535.61 191.72H554.58M540.35 191.72V198.8M535.61 195.26H545.09M542.72 195.26V198.8M540.35 197.03H545.09M549.83 191.72V198.8M545.09 195.26H554.58M547.46 191.72V195.26M545.09 193.49H549.83M547.46 195.26V198.8M545.09 197.03H549.83M552.2 191.72V195.26M549.83 193.49H554.58M535.61 198.8V227.1M516.65 212.95H554.58M545.09 198.8V212.95M535.61 205.88H554.58M540.35 198.8V205.88M535.61 202.34H545.09M542.72 198.8V202.34M540.35 200.57H545.09M549.83 198.8V205.88M545.09 202.34H554.58M547.46 198.8V202.34M545.09 200.57H549.83M516.65 227.1V453.5M364.95 340.3H668.35M440.8 227.1V340.3M364.95 283.7H516.65M402.88 227.1V283.7M364.95 255.4H440.8M383.91 227.1V255.4M364.95 241.25H402.88M374.43 227.1V241.25M364.95 234.17H383.91M369.69 234.17V241.25M364.95 237.71H374.43M367.32 237.71V241.25M364.95 239.48H369.69M374.43 241.25V255.4M364.95 248.32H383.91M369.69 241.25V248.32M364.95 244.79H374.43M367.32 241.25V244.79M364.95 243.02H369.69M367.32 244.79V248.32M364.95 246.56H369.69M372.06 244.79V248.32M369.69 246.56H374.43M369.69 248.32V255.4M364.95 251.86H374.43M367.32 248.32V251.86M364.95 250.09H369.69M367.32 251.86V255.4M364.95 253.63H369.69M372.06 248.32V251.86M369.69 250.09H374.43M372.06 251.86V255.4M369.69 253.63H374.43M379.17 248.32V255.4M374.43 251.86H383.91M376.8 248.32V251.86M374.43 250.09H379.17M376.8 251.86V255.4M374.43 253.63H379.17M381.54 248.32V251.86M379.17 250.09H383.91M381.54 251.86V255.4M379.17 253.63H383.91M393.39 241.25V255.4M383.91 248.32H402.88M388.65 248.32V255.4M383.91 251.86H393.39M386.28 248.32V251.86M383.91 250.09H388.65M386.28 251.86V255.4M383.91 253.63H388.65M391.02 248.32V251.86M388.65 250.09H393.39M391.02 251.86V255.4M388.65 253.63H393.39M398.13 248.32V255.4M393.39 251.86H402.88M395.76 251.86V255.4M393.39 253.63H398.13M400.5 248.32V251.86M398.13 250.09H402.88M400.5 251.86V255.4M398.13 253.63H402.88M383.91 255.4V283.7M364.95 269.55H402.88M374.43 255.4V269.55M364.95 262.48H383.91M369.69 255.4V262.48M364.95 258.94H374.43M367.32 255.4V258.94M364.95 257.17H369.69M367.32 258.94V262.48M364.95 260.71H369.69M372.06 255.4V258.94M369.69 257.17H374.43M372.06 258.94V262.48M369.69 260.71H374.43M369.69 262.48V269.55M364.95 266.01H374.43M367.32 266.01V269.55M364.95 267.78H369.69M372.06 262.48V266.01M369.69 264.24H374.43M372.06 266.01V269.55M369.69 267.78H374.43M379.17 255.4V262.48M374.43 258.94H383.91M376.8 255.4V258.94M374.43 257.17H379.17M376.8 258.94V262.48M374.43 260.71H379.17M381.54 255.4V258.94M379.17 257.17H383.91M379.17 262.48V269.55M374.43 266.01H383.91M376.8 262.48V266.01M374.43 264.24H379.17M374.43 269.55V283.7M364.95 276.62H383.91M369.69 269.55V276.62M364.95 273.09H374.43M367.32 269.55V273.09M364.95 271.32H369.69M367.32 273.09V276.62M364.95 274.86H369.69M372.06 269.55V273.09M369.69 271.32H374.43M393.39 255.4V269.55M383.91 262.48H402.88M388.65 255.4V262.48M383.91 258.94H393.39M386.28 255.4V258.94M383.91 257.17H388.65M391.02 255.4V258.94M388.65 257.17H393.39M398.13 255.4V262.48M393.39 258.94H402.88M395.76 255.4V258.94M393.39 257.17H398.13M400.5 255.4V258.94M398.13 257.17H402.88M393.39 269.55V283.7M383.91 276.62H402.88M388.65 269.55V276.62M383.91 273.09H393.39M391.02 269.55V273.09M388.65 271.32H393.39M398.13 269.55V276.62M393.39 273.09H402.88M395.76 269.55V273.09M393.39 271.32H398.13M421.84 227.1V255.4M402.88 241.25H440.8M412.36 241.25V255.4M402.88 248.32H421.84M407.62 248.32V255.4M402.88 251.86H412.36M405.25 248.32V251.86M402.88 250.09H407.62M405.25 251.86V255.4M402.88 253.63H407.62M409.99 248.32V251.86M407.62 250.09H412.36M409.99 251.86V255.4M407.62 253.63H412.36M417.1 248.32V255.4M412.36 251.86H421.84M414.73 248.32V251.86M412.36 250.09H417.1M414.73 251.86V255.4M412.36 253.63H417.1M419.47 248.32V251.86M417.1 250.09H421.84M419.47 251.86V255.4M417.1 253.63H421.84M431.32 241.25V255.4M421.84 248.32H440.8M426.58 248.32V255.4M421.84 251.86H431.32M424.21 251.86V255.4M421.84 253.63H426.58M428.95 251.86V255.4M426.58 253.63H431.32M421.84 255.4V283.7M402.88 269.55H440.8M412.36 255.4V269.55M402.88 262.48H421.84M407.62 255.4V262.48M402.88 258.94H412.36M405.25 255.4V258.94M402.88 257.17H407.62M409.99 255.4V258.94M407.62 257.17H412.36M417.1 255.4V262.48M412.36 258.94H421.84M414.73 255.4V258.94M412.36 257.17H417.1M419.47 255.4V258.94M417.1 257.17H421.84M431.32 255.4V269.55M421.84 262.48H440.8M426.58 255.4V262.48M421.84 258.94H431.32M424.21 255.4V258.94M421.84 257.17H426.58M424.21 258.94V262.48M421.84 260.71H426.58M428.95 255.4V258.94M426.58 257.17H431.32M428.95 258.94V262.48M426.58 260.71H431.32M436.06 255.4V262.48M431.32 258.94H440.8M433.69 255.4V258.94M431.32 257.17H436.06M433.69 258.94V262.48M431.32 260.71H436.06M438.43 255.4V258.94M436.06 257.17H440.8M438.43 258.94V262.48M436.06 260.71H440.8M436.06 262.48V269.55M431.32 266.01H440.8M438.43 262.48V266.01M436.06 264.24H440.8M402.88 283.7V340.3M364.95 312H440.8M383.91 283.7V312M364.95 297.85H402.88M374.43 283.7V297.85M364.95 290.77H383.91M369.69 283.7V290.77M364.95 287.24H374.43M367.32 287.24V290.77M364.95 289.01H369.69M369.69 290.77V297.85M364.95 294.31H374.43M367.32 290.77V294.31M364.95 292.54H369.69M372.06 290.77V294.31M369.69 292.54H374.43M372.06 294.31V297.85M369.69 296.08H374.43M379.17 290.77V297.85M374.43 294.31H383.91M376.8 290.77V294.31M374.43 292.54H379.17M376.8 294.31V297.85M374.43 296.08H379.17M381.54 290.77V294.31M379.17 292.54H383.91M381.54 294.31V297.85M379.17 296.08H383.91M374.43 297.85V312M364.95 304.93H383.91M379.17 297.85V304.93M374.43 301.39H383.91M376.8 297.85V301.39M374.43 299.62H379.17M376.8 301.39V304.93M374.43 303.16H379.17M381.54 297.85V301.39M379.17 299.62H383.91M381.54 301.39V304.93M379.17 303.16H383.91M379.17 304.93V312M374.43 308.46H383.91M381.54 304.93V308.46M379.17 306.69H383.91M393.39 283.7V297.85M383.91 290.77H402.88M388.65 290.77V297.85M383.91 294.31H393.39M386.28 290.77V294.31M383.91 292.54H388.65M386.28 294.31V297.85M383.91 296.08H388.65M391.02 294.31V297.85M388.65 296.08H393.39M398.13 290.77V297.85M393.39 294.31H402.88M395.76 294.31V297.85M393.39 296.08H398.13M400.5 294.31V297.85M398.13 296.08H402.88M393.39 297.85V312M383.91 304.93H402.88M388.65 297.85V304.93M383.91 301.39H393.39M386.28 297.85V301.39M383.91 299.62H388.65M386.28 301.39V304.93M383.91 303.16H388.65M391.02 297.85V301.39M388.65 299.62H393.39M391.02 301.39V304.93M388.65 303.16H393.39M388.65 304.93V312M383.91 308.46H393.39M386.28 304.93V308.46M383.91 306.69H388.65M391.02 304.93V308.46M388.65 306.69H393.39M391.02 308.46V312M388.65 310.23H393.39M398.13 297.85V304.93M393.39 301.39H402.88M395.76 297.85V301.39M393.39 299.62H398.13M400.5 297.85V301.39M398.13 299.62H402.88M398.13 304.93V312M393.39 308.46H402.88M395.76 304.93V308.46M393.39 306.69H398.13M395.76 308.46V312M393.39 310.23H398.13M383.91 312V340.3M364.95 326.15H402.88M374.43 326.15V340.3M364.95 333.23H383.91M369.69 326.15V333.23M364.95 329.69H374.43M367.32 326.15V329.69M364.95 327.92H369.69M367.32 329.69V333.23M364.95 331.46H369.69M372.06 329.69V333.23M369.69 331.46H374.43M369.69 333.23V340.3M364.95 336.76H374.43M372.06 333.23V336.76M369.69 334.99H374.43M379.17 326.15V333.23M374.43 329.69H383.91M376.8 329.69V333.23M374.43 331.46H379.17M379.17 333.23V340.3M374.43 336.76H383.91M376.8 333.23V336.76M374.43 334.99H379.17M376.8 336.76V340.3M374.43 338.53H379.17M381.54 333.23V336.76M379.17 334.99H383.91M381.54 336.76V340.3M379.17 338.53H383.91M393.39 312V326.15M383.91 319.07H402.88M388.65 312V319.07M383.91 315.54H393.39M391.02 312V315.54M388.65 313.77H393.39M398.13 312V319.07M393.39 315.54H402.88M395.76 312V315.54M393.39 313.77H398.13M395.76 315.54V319.07M393.39 317.31H398.13M400.5 312V315.54M398.13 313.77H402.88M400.5 315.54V319.07M398.13 317.31H402.88M398.13 319.07V326.15M393.39 322.61H402.88M395.76 322.61V326.15M393.39 324.38H398.13M400.5 319.07V322.61M398.13 320.84H402.88M400.5 322.61V326.15M398.13 324.38H402.88M393.39 326.15V340.3M383.91 333.23H402.88M388.65 333.23V340.3M383.91 336.76H393.39M386.28 336.76V340.3M383.91 338.53H388.65M398.13 326.15V333.23M393.39 329.69H402.88M395.76 326.15V329.69M393.39 327.92H398.13M395.76 329.69V333.23M393.39 331.46H398.13M400.5 326.15V329.69M398.13 327.92H402.88M400.5 329.69V333.23M398.13 331.46H402.88M398.13 333.23V340.3M393.39 336.76H402.88M395.76 333.23V336.76M393.39 334.99H398.13M395.76 336.76V340.3M393.39 338.53H398.13M400.5 333.23V336.76M398.13 334.99H402.88M400.5 336.76V340.3M398.13 338.53H402.88M421.84 283.7V312M402.88 297.85H440.8M412.36 283.7V297.85M402.88 290.77H421.84M407.62 290.77V297.85M402.88 294.31H412.36M405.25 290.77V294.31M402.88 292.54H407.62M405.25 294.31V297.85M402.88 296.08H407.62M412.36 297.85V312M402.88 304.93H421.84M407.62 304.93V312M402.88 308.46H412.36M409.99 308.46V312M407.62 310.23H412.36M417.1 304.93V312M412.36 308.46H421.84M414.73 308.46V312M412.36 310.23H417.1M419.47 308.46V312M417.1 310.23H421.84M431.32 297.85V312M421.84 304.93H440.8M426.58 297.85V304.93M421.84 301.39H431.32M428.95 301.39V304.93M426.58 303.16H431.32M426.58 304.93V312M421.84 308.46H431.32M428.95 304.93V308.46M426.58 306.69H431.32M421.84 312V340.3M402.88 326.15H440.8M412.36 312V326.15M402.88 319.07H421.84M407.62 312V319.07M402.88 315.54H412.36M409.99 312V315.54M407.62 313.77H412.36M409.99 315.54V319.07M407.62 317.31H412.36M407.62 319.07V326.15M402.88 322.61H412.36M409.99 319.07V322.61M407.62 320.84H412.36M409.99 322.61V326.15M407.62 324.38H412.36M417.1 312V319.07M412.36 315.54H421.84M414.73 312V315.54M412.36 313.77H417.1M414.73 315.54V319.07M412.36 317.31H417.1M419.47 312V315.54M417.1 313.77H421.84M419.47 315.54V319.07M417.1 317.31H421.84M417.1 319.07V326.15M412.36 322.61H421.84M414.73 319.07V322.61M412.36 320.84H417.1M414.73 322.61V326.15M412.36 324.38H417.1M419.47 319.07V322.61M417.1 320.84H421.84M419.47 322.61V326.15M417.1 324.38H421.84M412.36 326.15V340.3M402.88 333.23H421.84M407.62 326.15V333.23M402.88 329.69H412.36M405.25 326.15V329.69M402.88 327.92H407.62M405.25 329.69V333.23M402.88 331.46H407.62M409.99 326.15V329.69M407.62 327.92H412.36M409.99 329.69V333.23M407.62 331.46H412.36M407.62 333.23V340.3M402.88 336.76H412.36M405.25 333.23V336.76M402.88 334.99H407.62M405.25 336.76V340.3M402.88 338.53H407.62M409.99 333.23V336.76M407.62 334.99H412.36M409.99 336.76V340.3M407.62 338.53H412.36M417.1 326.15V333.23M412.36 329.69H421.84M414.73 326.15V329.69M412.36 327.92H417.1M414.73 329.69V333.23M412.36 331.46H417.1M419.47 326.15V329.69M417.1 327.92H421.84M419.47 329.69V333.23M417.1 331.46H421.84M417.1 333.23V340.3M412.36 336.76H421.84M414.73 333.23V336.76M412.36 334.99H417.1M414.73 336.76V340.3M412.36 338.53H417.1M419.47 333.23V336.76M417.1 334.99H421.84M419.47 336.76V340.3M417.1 338.53H421.84M431.32 326.15V340.3M421.84 333.23H440.8M426.58 326.15V333.23M421.84 329.69H431.32M424.21 326.15V329.69M421.84 327.92H426.58M424.21 329.69V333.23M421.84 331.46H426.58M428.95 329.69V333.23M426.58 331.46H431.32M426.58 333.23V340.3M421.84 336.76H431.32M424.21 333.23V336.76M421.84 334.99H426.58M424.21 336.76V340.3M421.84 338.53H426.58M428.95 333.23V336.76M426.58 334.99H431.32M428.95 336.76V340.3M426.58 338.53H431.32M436.06 326.15V333.23M431.32 329.69H440.8M433.69 329.69V333.23M431.32 331.46H436.06M436.06 333.23V340.3M431.32 336.76H440.8M433.69 333.23V336.76M431.32 334.99H436.06M433.69 336.76V340.3M431.32 338.53H436.06M478.73 227.1V283.7M440.8 255.4H516.65M459.76 255.4V283.7M440.8 269.55H478.73M450.28 255.4V269.55M440.8 262.48H459.76M445.54 255.4V262.48M440.8 258.94H450.28M443.17 255.4V258.94M440.8 257.17H445.54M443.17 258.94V262.48M440.8 260.71H445.54M447.91 255.4V258.94M445.54 257.17H450.28M447.91 258.94V262.48M445.54 260.71H450.28M445.54 262.48V269.55M440.8 266.01H450.28M447.91 262.48V266.01M445.54 264.24H450.28M455.02 255.4V262.48M450.28 258.94H459.76M452.65 255.4V258.94M450.28 257.17H455.02M452.65 258.94V262.48M450.28 260.71H455.02M457.39 255.4V258.94M455.02 257.17H459.76M457.39 258.94V262.48M455.02 260.71H459.76M455.02 262.48V269.55M450.28 266.01H459.76M452.65 262.48V266.01M450.28 264.24H455.02M457.39 262.48V266.01M455.02 264.24H459.76M469.24 255.4V269.55M459.76 262.48H478.73M464.5 255.4V262.48M459.76 258.94H469.24M462.13 258.94V262.48M459.76 260.71H464.5M466.87 258.94V262.48M464.5 260.71H469.24M464.5 262.48V269.55M459.76 266.01H469.24M462.13 262.48V266.01M459.76 264.24H464.5M466.87 262.48V266.01M464.5 264.24H469.24M473.98 255.4V262.48M469.24 258.94H478.73M471.61 258.94V262.48M469.24 260.71H473.98M473.98 262.48V269.55M469.24 266.01H478.73M471.61 262.48V266.01M469.24 264.24H473.98M476.35 262.48V266.01M473.98 264.24H478.73M476.35 266.01V269.55M473.98 267.78H478.73M469.24 269.55V283.7M459.76 276.62H478.73M473.98 269.55V276.62M469.24 273.09H478.73M476.35 269.55V273.09M473.98 271.32H478.73M476.35 273.09V276.62M473.98 274.86H478.73M497.69 255.4V283.7M478.73 269.55H516.65M488.21 255.4V269.55M478.73 262.48H497.69M483.47 255.4V262.48M478.73 258.94H488.21M481.1 258.94V262.48M478.73 260.71H483.47M485.84 258.94V262.48M483.47 260.71H488.21M483.47 262.48V269.55M478.73 266.01H488.21M481.1 262.48V266.01M478.73 264.24H483.47M481.1 266.01V269.55M478.73 267.78H483.47M485.84 262.48V266.01M483.47 264.24H488.21M492.95 262.48V269.55M488.21 266.01H497.69M490.58 262.48V266.01M488.21 264.24H492.95M490.58 266.01V269.55M488.21 267.78H492.95M495.32 266.01V269.55M492.95 267.78H497.69M488.21 269.55V283.7M478.73 276.62H497.69M483.47 269.55V276.62M478.73 273.09H488.21M481.1 269.55V273.09M478.73 271.32H483.47M481.1 273.09V276.62M478.73 274.86H483.47M492.95 269.55V276.62M488.21 273.09H497.69M490.58 269.55V273.09M488.21 271.32H492.95M490.58 273.09V276.62M488.21 274.86H492.95M495.32 269.55V273.09M492.95 271.32H497.69M495.32 273.09V276.62M492.95 274.86H497.69M507.17 269.55V283.7M497.69 276.62H516.65M502.43 276.62V283.7M497.69 280.16H507.17M500.06 280.16V283.7M497.69 281.93H502.43M504.8 280.16V283.7M502.43 281.93H507.17M511.91 276.62V283.7M507.17 280.16H516.65M509.54 280.16V283.7M507.17 281.93H511.91M478.73 283.7V340.3M440.8 312H516.65M497.69 283.7V312M478.73 297.85H516.65M507.17 283.7V297.85M497.69 290.77H516.65M502.43 283.7V290.77M497.69 287.24H507.17M500.06 283.7V287.24M497.69 285.47H502.43M504.8 283.7V287.24M502.43 285.47H507.17M504.8 287.24V290.77M502.43 289.01H507.17M511.91 283.7V290.77M507.17 287.24H516.65M509.54 283.7V287.24M507.17 285.47H511.91M509.54 287.24V290.77M507.17 289.01H511.91M440.8 340.3V453.5M364.95 396.9H516.65M402.88 340.3V396.9M364.95 368.6H440.8M383.91 340.3V368.6M364.95 354.45H402.88M374.43 340.3V354.45M364.95 347.38H383.91M369.69 347.38V354.45M364.95 350.91H374.43M367.32 347.38V350.91M364.95 349.14H369.69M367.32 350.91V354.45M364.95 352.68H369.69M372.06 350.91V354.45M369.69 352.68H374.43M379.17 347.38V354.45M374.43 350.91H383.91M376.8 350.91V354.45M374.43 352.68H379.17M381.54 350.91V354.45M379.17 352.68H383.91M374.43 354.45V368.6M364.95 361.52H383.91M369.69 354.45V361.52M364.95 357.99H374.43M372.06 354.45V357.99M369.69 356.22H374.43M379.17 354.45V361.52M374.43 357.99H383.91M376.8 354.45V357.99M374.43 356.22H379.17M381.54 354.45V357.99M379.17 356.22H383.91M381.54 357.99V361.52M379.17 359.76H383.91M379.17 361.52V368.6M374.43 365.06H383.91M381.54 365.06V368.6M379.17 366.83H383.91M393.39 354.45V368.6M383.91 361.52H402.88M388.65 354.45V361.52M383.91 357.99H393.39M386.28 354.45V357.99M383.91 356.22H388.65M386.28 357.99V361.52M383.91 359.76H388.65M391.02 357.99V361.52M388.65 359.76H393.39M388.65 361.52V368.6M383.91 365.06H393.39M386.28 361.52V365.06M383.91 363.29H388.65M386.28 365.06V368.6M383.91 366.83H388.65M391.02 361.52V365.06M388.65 363.29H393.39M391.02 365.06V368.6M388.65 366.83H393.39M398.13 354.45V361.52M393.39 357.99H402.88M395.76 357.99V361.52M393.39 359.76H398.13M398.13 361.52V368.6M393.39 365.06H402.88M395.76 361.52V365.06M393.39 363.29H398.13M395.76 365.06V368.6M393.39 366.83H398.13M400.5 361.52V365.06M398.13 363.29H402.88M400.5 365.06V368.6M398.13 366.83H402.88M383.91 368.6V396.9M364.95 382.75H402.88M374.43 368.6V382.75M364.95 375.68H383.91M369.69 375.68V382.75M364.95 379.21H374.43M367.32 379.21V382.75M364.95 380.98H369.69M372.06 375.68V379.21M369.69 377.44H374.43M372.06 379.21V382.75M369.69 380.98H374.43M379.17 368.6V375.68M374.43 372.14H383.91M376.8 372.14V375.68M374.43 373.91H379.17M381.54 368.6V372.14M379.17 370.37H383.91M381.54 372.14V375.68M379.17 373.91H383.91M379.17 375.68V382.75M374.43 379.21H383.91M376.8 375.68V379.21M374.43 377.44H379.17M376.8 379.21V382.75M374.43 380.98H379.17M381.54 375.68V379.21M379.17 377.44H383.91M381.54 379.21V382.75M379.17 380.98H383.91M374.43 382.75V396.9M364.95 389.82H383.91M369.69 382.75V389.82M364.95 386.29H374.43M367.32 382.75V386.29M364.95 384.52H369.69M367.32 386.29V389.82M364.95 388.06H369.69M372.06 382.75V386.29M369.69 384.52H374.43M372.06 386.29V389.82M369.69 388.06H374.43M369.69 389.82V396.9M364.95 393.36H374.43M367.32 389.82V393.36M364.95 391.59H369.69M367.32 393.36V396.9M364.95 395.13H369.69M372.06 389.82V393.36M369.69 391.59H374.43M372.06 393.36V396.9M369.69 395.13H374.43M379.17 382.75V389.82M374.43 386.29H383.91M376.8 382.75V386.29M374.43 384.52H379.17M376.8 386.29V389.82M374.43 388.06H379.17M381.54 382.75V386.29M379.17 384.52H383.91M381.54 386.29V389.82M379.17 388.06H383.91M379.17 389.82V396.9M374.43 393.36H383.91M376.8 389.82V393.36M374.43 391.59H379.17M376.8 393.36V396.9M374.43 395.13H379.17M381.54 389.82V393.36M379.17 391.59H383.91M381.54 393.36V396.9M379.17 395.13H383.91M393.39 368.6V382.75M383.91 375.68H402.88M388.65 368.6V375.68M383.91 372.14H393.39M386.28 368.6V372.14M383.91 370.37H388.65M386.28 372.14V375.68M383.91 373.91H388.65M391.02 368.6V372.14M388.65 370.37H393.39M391.02 372.14V375.68M388.65 373.91H393.39M388.65 375.68V382.75M383.91 379.21H393.39M386.28 375.68V379.21M383.91 377.44H388.65M391.02 375.68V379.21M388.65 377.44H393.39M391.02 379.21V382.75M388.65 380.98H393.39M398.13 368.6V375.68M393.39 372.14H402.88M395.76 368.6V372.14M393.39 370.37H398.13M395.76 372.14V375.68M393.39 373.91H398.13M400.5 372.14V375.68M398.13 373.91H402.88M398.13 375.68V382.75M393.39 379.21H402.88M395.76 375.68V379.21M393.39 377.44H398.13M395.76 379.21V382.75M393.39 380.98H398.13M400.5 375.68V379.21M398.13 377.44H402.88M400.5 379.21V382.75M398.13 380.98H402.88M393.39 382.75V396.9M383.91 389.82H402.88M388.65 382.75V389.82M383.91 386.29H393.39M391.02 382.75V386.29M388.65 384.52H393.39M391.02 386.29V389.82M388.65 388.06H393.39M388.65 389.82V396.9M383.91 393.36H393.39M386.28 393.36V396.9M383.91 395.13H388.65M391.02 389.82V393.36M388.65 391.59H393.39M391.02 393.36V396.9M388.65 395.13H393.39M398.13 382.75V389.82M393.39 386.29H402.88M395.76 382.75V386.29M393.39 384.52H398.13M395.76 386.29V389.82M393.39 388.06H398.13M398.13 389.82V396.9M393.39 393.36H402.88M395.76 389.82V393.36M393.39 391.59H398.13M395.76 393.36V396.9M393.39 395.13H398.13M421.84 340.3V368.6M402.88 354.45H440.8M412.36 340.3V354.45M402.88 347.38H421.84M407.62 340.3V347.38M402.88 343.84H412.36M409.99 340.3V343.84M407.62 342.07H412.36M409.99 343.84V347.38M407.62 345.61H412.36M407.62 347.38V354.45M402.88 350.91H412.36M409.99 347.38V350.91M407.62 349.14H412.36M417.1 340.3V347.38M412.36 343.84H421.84M414.73 340.3V343.84M412.36 342.07H417.1M414.73 343.84V347.38M412.36 345.61H417.1M419.47 340.3V343.84M417.1 342.07H421.84M417.1 347.38V354.45M412.36 350.91H421.84M414.73 347.38V350.91M412.36 349.14H417.1M414.73 350.91V354.45M412.36 352.68H417.1M419.47 347.38V350.91M417.1 349.14H421.84M419.47 350.91V354.45M417.1 352.68H421.84M412.36 354.45V368.6M402.88 361.52H421.84M407.62 361.52V368.6M402.88 365.06H412.36M405.25 361.52V365.06M402.88 363.29H407.62M405.25 365.06V368.6M402.88 366.83H407.62M409.99 365.06V368.6M407.62 366.83H412.36M417.1 354.45V361.52M412.36 357.99H421.84M414.73 354.45V357.99M412.36 356.22H417.1M414.73 357.99V361.52M412.36 359.76H417.1M419.47 354.45V357.99M417.1 356.22H421.84M417.1 361.52V368.6M412.36 365.06H421.84M414.73 361.52V365.06M412.36 363.29H417.1M414.73 365.06V368.6M412.36 366.83H417.1M431.32 340.3V354.45M421.84 347.38H440.8M426.58 340.3V347.38M421.84 343.84H431.32M424.21 340.3V343.84M421.84 342.07H426.58M424.21 343.84V347.38M421.84 345.61H426.58M428.95 340.3V343.84M426.58 342.07H431.32M428.95 343.84V347.38M426.58 345.61H431.32M426.58 347.38V354.45M421.84 350.91H431.32M424.21 347.38V350.91M421.84 349.14H426.58M424.21 350.91V354.45M421.84 352.68H426.58M428.95 347.38V350.91M426.58 349.14H431.32M436.06 340.3V347.38M431.32 343.84H440.8M433.69 340.3V343.84M431.32 342.07H436.06M433.69 343.84V347.38M431.32 345.61H436.06M421.84 368.6V396.9M402.88 382.75H440.8M412.36 368.6V382.75M402.88 375.68H421.84M407.62 368.6V375.68M402.88 372.14H412.36M405.25 368.6V372.14M402.88 370.37H407.62M409.99 368.6V372.14M407.62 370.37H412.36M431.32 368.6V382.75M421.84 375.68H440.8M426.58 368.6V375.68M421.84 372.14H431.32M428.95 372.14V375.68M426.58 373.91H431.32M426.58 375.68V382.75M421.84 379.21H431.32M428.95 375.68V379.21M426.58 377.44H431.32M436.06 368.6V375.68M431.32 372.14H440.8M433.69 372.14V375.68M431.32 373.91H436.06M436.06 375.68V382.75M431.32 379.21H440.8M433.69 375.68V379.21M431.32 377.44H436.06M402.88 396.9V453.5M364.95 425.2H440.8M383.91 396.9V425.2M364.95 411.05H402.88M374.43 396.9V411.05M364.95 403.98H383.91M369.69 396.9V403.98M364.95 400.44H374.43M367.32 396.9V400.44M364.95 398.67H369.69M367.32 400.44V403.98M364.95 402.21H369.69M372.06 396.9V400.44M369.69 398.67H374.43M372.06 400.44V403.98M369.69 402.21H374.43M369.69 403.98V411.05M364.95 407.51H374.43M367.32 403.98V407.51M364.95 405.74H369.69M367.32 407.51V411.05M364.95 409.28H369.69M372.06 403.98V407.51M369.69 405.74H374.43M372.06 407.51V411.05M369.69 409.28H374.43M379.17 396.9V403.98M374.43 400.44H383.91M376.8 396.9V400.44M374.43 398.67H379.17M376.8 400.44V403.98M374.43 402.21H379.17M381.54 396.9V400.44M379.17 398.67H383.91M379.17 403.98V411.05M374.43 407.51H383.91M376.8 403.98V407.51M374.43 405.74H379.17M376.8 407.51V411.05M374.43 409.28H379.17M381.54 407.51V411.05M379.17 409.28H383.91M374.43 411.05V425.2M364.95 418.12H383.91M369.69 411.05V418.12M364.95 414.59H374.43M367.32 411.05V414.59M364.95 412.82H369.69M372.06 411.05V414.59M369.69 412.82H374.43M372.06 414.59V418.12M369.69 416.36H374.43M369.69 418.12V425.2M364.95 421.66H374.43M367.32 421.66V425.2M364.95 423.43H369.69M372.06 418.12V421.66M369.69 419.89H374.43M372.06 421.66V425.2M369.69 423.43H374.43M379.17 411.05V418.12M374.43 414.59H383.91M376.8 411.05V414.59M374.43 412.82H379.17M376.8 414.59V418.12M374.43 416.36H379.17M381.54 411.05V414.59M379.17 412.82H383.91M381.54 414.59V418.12M379.17 416.36H383.91M379.17 418.12V425.2M374.43 421.66H383.91M376.8 418.12V421.66M374.43 419.89H379.17M376.8 421.66V425.2M374.43 423.43H379.17M393.39 396.9V411.05M383.91 403.98H402.88M388.65 396.9V403.98M383.91 400.44H393.39M386.28 396.9V400.44M383.91 398.67H388.65M386.28 400.44V403.98M383.91 402.21H388.65M391.02 396.9V400.44M388.65 398.67H393.39M391.02 400.44V403.98M388.65 402.21H393.39M388.65 403.98V411.05M383.91 407.51H393.39M386.28 407.51V411.05M383.91 409.28H388.65M393.39 411.05V425.2M383.91 418.12H402.88M388.65 411.05V418.12M383.91 414.59H393.39M386.28 411.05V414.59M383.91 412.82H388.65M386.28 414.59V418.12M383.91 416.36H388.65M391.02 411.05V414.59M388.65 412.82H393.39M391.02 414.59V418.12M388.65 416.36H393.39M388.65 418.12V425.2M383.91 421.66H393.39M386.28 418.12V421.66M383.91 419.89H388.65M383.91 425.2V453.5M364.95 439.35H402.88M374.43 425.2V439.35M364.95 432.27H383.91M369.69 425.2V432.27M364.95 428.74H374.43M367.32 425.2V428.74M364.95 426.97H369.69M367.32 428.74V432.27M364.95 430.51H369.69M372.06 425.2V428.74M369.69 426.97H374.43M372.06 428.74V432.27M369.69 430.51H374.43M369.69 432.27V439.35M364.95 435.81H374.43M367.32 432.27V435.81M364.95 434.04H369.69M372.06 432.27V435.81M369.69 434.04H374.43M379.17 425.2V432.27M374.43 428.74H383.91M376.8 425.2V428.74M374.43 426.97H379.17M478.73 340.3V396.9M440.8 368.6H516.65M459.76 340.3V368.6M440.8 354.45H478.73M450.28 354.45V368.6M440.8 361.52H459.76M445.54 354.45V361.52M440.8 357.99H450.28M443.17 357.99V361.52M440.8 359.76H445.54M447.91 357.99V361.52M445.54 359.76H450.28M469.24 354.45V368.6M459.76 361.52H478.73M464.5 361.52V368.6M459.76 365.06H469.24M462.13 361.52V365.06M459.76 363.29H464.5M592.5 227.1V340.3M516.65 283.7H668.35M554.58 227.1V283.7M516.65 255.4H592.5M535.61 255.4V283.7M516.65 269.55H554.58M526.13 269.55V283.7M516.65 276.62H535.61M530.87 269.55V276.62M526.13 273.09H535.61M528.5 273.09V276.62M526.13 274.86H530.87M533.24 273.09V276.62M530.87 274.86H535.61M530.87 276.62V283.7M526.13 280.16H535.61M528.5 276.62V280.16M526.13 278.39H530.87M533.24 276.62V280.16M530.87 278.39H535.61M545.09 269.55V283.7M535.61 276.62H554.58M549.83 269.55V276.62M545.09 273.09H554.58M547.46 273.09V276.62M545.09 274.86H549.83" fill="none" stroke="#3a3a3a" stroke-width="0.62"/>
<path d="M61 165 L62.2 164 L68.9 157.4 L76.6 153 L82.1 154 L88.8 149.7 L97.6 149.7 L99.8 152.5 L104.3 147.4 L107.6 136.4 L113.1 133 L124.2 128.6 L133 123.1 L141.9 118.7 L150.8 117.1 L159.6 115.3 L164 110.9 L170.7 99.8 L175.1 96.5 L183.3 92.9 L194.3 84 L198.8 83 L203.2 82.3 L205.4 84 L214.2 80.7 L225.3 76.3 L236.4 74.1 L258.5 73.7 L274 74.8 L278.4 76.3 L280.6 74.1 L288.9 73.1 L295.5 69.7 L304.4 66.4 L311 62 L313.7 55.3 L313.8 46.6 L311.4 41.7 L306.6 36.1 L300.9 28.9 L296.1 20 L293.3 13.3 L291 4.4 L289 0M363 1.8 L372 1.8" fill="none" stroke="#0000ff" stroke-width="3.8" stroke-linecap="round" stroke-linejoin="round"/>
<path d="M167.4 115.3 L174 123.1M168.5 115.5 L174.5 121.5M359.7 82.5 L359.7 86M61 261 L62.1 260.1 L66.3 255.9 L72.6 248.6 L80.9 241.3 L89.3 235 L98.7 234.6 L102.9 228.7 L109.2 224.5 L111.3 217.2 L116.5 215.5 L124.9 215.1 L132.2 213.6 L143.7 216.2 L154.2 221.4 L163.6 226 L169.9 226.6 L178 232M142.7 172.7 L144.3 175.9M150.7 175.1 L151.2 179.1M218.6 143.2 L225.7 143.2M214.1 148 L214.1 148.2M209.6 152.2 L209.6 152.4M249.1 150.4 L243.7 158.4M250 159.3 L248 156M329 113.5 L329 115.5M325.8 134.5 L332.2 133.6 L337 138.5 L343.5 141.7 L351.5 141.7M327.4 136.9 L335.4 143.3 L341.9 146.5 L348.3 149.8M308.9 148.9 L316.1 149.8 L320.9 149.8 L329 149.8 L333.8 153M354.8 151.4 L354.8 151.6M349.9 157 L349.9 157.2M388.6 129.6 L384.5 137.7M396.6 148.1 L397 148.1M379 168.5 L386 170.5M380 172 L385 172M395.5 169.5 L400.5 172.5M396 173 L399 170M388.6 176.7 L396 176.7 L403.3 178.8 L407.4 181 L409.5 186.2 L416.9 189.3 L422.1 191.4 L427.3 193.5 L433.6 196.6 L439.9 199.8M388.6 176.7 L382.3 181 L383.4 187.2 L383.4 194.5 L387.6 199.8 L396 199.8 L406.4 198.7 L416.9 197.7 L425.2 197.7 L431.5 199.8 L439.9 199.8M386.5 183 L393.8 185.1 L401.2 187.2 L406.4 184.1M418.4 180.9 L418.6 180.9M374.2 187.2 L374.4 187.2M350 156 L350.2 156M355 152 L355.2 152M404.4 153 L404.6 153M408.7 96.9 L411.9 105.8 L415.1 96.1M433.6 92.1 L426.4 100.1 L420.8 105M427.2 98.5 L431.2 105 L433.6 113.8 L438.5 117M420.8 104.1 L424 115.4M415.9 125.1 L427.2 120.2 L433.6 126.7M417 120 L424 112M436 114.6 L443.3 111.4 L449.7 113 L450.5 116.2 L443.3 117 L436 114.6M443.3 125.1 L449.7 123.5 L456.2 124.3 L461 128.3 L459.4 133.1 L453 131.5 L448.1 128.3 L443.3 126.7M443.3 133.1 L443.5 133.1M420 136.3 L420.8 144.4M428 140.4 L434.4 140.4M395 148.4 L401.4 147.6 L404.7 150.8 L403.9 154.8M407.1 144.4 L411.1 147.6M398.4 167.3 L398.6 167.3M464 83.4 L465.9 86.4M464 83.4 L472 83.4 L480.3 83.4 L480.9 90.1 L480.9 93.7M473.1 96.1 L477.3 97.9 L479.7 100.9M491.2 83.4 L494.8 91.3M497.2 85.2 L503.3 88.9 L508.1 91.3 L512.3 94.9M499.6 97.3 L502.1 98.5M498.4 113 L505.7 114.2M505.7 109.4 L510.5 108.2 L517.7 107.6 L522.6 110 L523.2 116.6M506.9 119 L512.9 119M509.3 114.2 L509.5 114.2M543.5 199 L549 194 L551.5 193M530 276 L530.3 276M548.4 274.1 L548.4 275M502 283 L506 288 L510.5 285M366.1 239.3 L368 244.7 L362 251.9 L368 255.5 L373.3 260.9 L376.9 264.5M372 249 L376.9 251 L394.8 253.7 L412.8 252 L421.7 253.7 L430.7 257.3 L439.7 259.1 L446.9 257.3 L457.6 260.9 L463 264.5 L470.9 263 L477.5 265.2 L479.7 273M376 254 L394.8 256.5 L412.8 255 L421.7 256.5 L430.7 260 L439.7 261.5 L446.9 260 L455 263M393 270.7 L393.2 270.7M355.4 284.2 L364.3 273.4 L368 269.8M477.5 265.2 L484.2 263 L490.8 264.1 L493 274.1M503 282.9 L508.5 285.1M374.6 264.7 L374.8 264.7M393.1 271.6 L393.3 271.6M420 196.6 L428.8 194.4 L433.3 201.1 L439.9 203.3M442.1 194.4 L447.7 195.5M372.3 292.5 L383.9 294.8 L388.5 299.4 L397.8 299.4 L404.7 294.8M388.5 299.4 L390.8 304 L393.1 311 L400.1 319.1 L398.9 327.2 L400.1 336.4M412.8 313.3 L416.3 309.8 L419.7 313.3 L416.3 322.5 L416.3 331.8 L411.6 331.8 L410.5 322.5 L412.8 313.3M429 305.2 L429.2 305.2M345.3 282.2 L352.5 287.6 L359.8 289.4 L367 292.1 L372.5 293 L376.1 296.7 L381.5 302.1 L387 305.7 L392.4 309.3 L396 313 L399.6 316.6M350.7 279.5 L345.3 282.2M363.4 272.2 L368.8 269.5M329 323.8 L336.2 322.9 L343.5 325.7 L350.7 327.5 L359.8 329.3 L368.8 331.1 L376.1 334.7 L383.3 338.3M347.1 332.9 L347.3 332.9M397.8 338.7 L410 339 L427.8 338.7M395 332 L405 336 L432.8 345 L415 337M335 366.8 L341.8 365.1 L348.7 361.7 L352.1 360M335 388.2 L341.8 385.7 L347 388.2 L348.7 394.2 L348.7 401.1 L352.1 404.5 L357.2 405.4 L362.4 406.2M335 404.5 L340.1 407.9 L343.6 413.1 L347 418.2 L352.1 421.6 L357.2 423.3 L360.7 425 L359.8 430.2M355.5 382.2 L362.4 380.5 L369.2 382.2 L374.4 380.5 L379.5 380.5 L384.6 377.1 L389.8 375.4 L393.2 370.3M381.2 370.3 L384.6 377.1M355.5 382.2 L359 389.1 L362.4 395.9 L369.2 401.1 L374.4 402.8M365.8 406.2 L369.2 411.3 L372.7 416.5 L370.9 423.3 L372.7 430.2 L369.2 433.6M362.4 395.9 L365.8 406.2M391.5 382.2 L394.9 387.4 L391.5 394.2 L386.3 399.4 L389.8 401.1M379.5 397.7 L377.8 392.5 L379.5 386M384.6 416.5 L386.3 419.9M350.4 433.6 L353.8 437 L357.2 435.3M352.1 440.4 L353.8 437M360 384 L366 388 L372 386M366 392 L372 396M376 408 L380 414M406 330 L410 338 L414 345M425 330 L428 338 L426 346 L420 352 L414 358 L416 366M412 348 L420 350M432 331 L434 340M306.4 385.4 L301.2 387.1 L296.1 392.2 L291.8 400.8 L287.6 407.6 L280.7 414.4 L272.2 419.6 L263.6 424.7 L258.5 431.5 L255.1 438.4 L250 443.5 L244.8 446.1 L243.1 448.6 L248.3 450.3 L256.8 449.5 L261.9 446.9 L263.6 441.8 L270.5 438.4 L277.3 436.7 L285.9 435 L291 433.2 L292.7 428.1 L294.4 424.7 L298.7 424.7 L299.5 429.8 L304.7 431.5 L308.1 434.9 L311.5 438.4 L313.2 443.5 L314.1 450.3M306.4 385.4 L296.1 393.9 L297.8 397.4 L309.8 395.6 L318 394M348.9 358.5 L346.6 363.1 L335 366.6 L325.8 371.2 L321.2 377 L321.2 386.2 L318.9 393.2 L309.6 395.5M321.2 386.2 L330.4 388.6 L337.4 387.4 L344.3 386.2 L347.8 390.9 L346.6 397.8 L351.2 402.4 L353.6 409.4 L358.2 414 L360.5 420.9 L355.9 423.2 L346.6 418.6 L342 414 L335 409.4 L328.1 407 L323.5 402.4 L318.9 397.8M328 397.8 L335 404.7 L342 409.4M340 407.3 L346 411.3 L350 417.4 L356.1 421.4 L360.1 425.4M348 385.2 L346 393.2 L350 401.3 L352.1 405.3M354.1 381.2 L360.1 379.2 L364.1 385.2 L368.1 393.2 L366.1 403.3 L370.2 409.3 L372.2 417.4 L370.2 425.4 L372.2 431.4 L368.1 433.4M376.2 385.2 L380.2 393.2 L386.2 399.3 L392.3 397.3M378.2 377.2 L386.2 371.1 L392.3 369.1 L396.3 373.1 L398.3 379.2M380.2 369.1 L388.2 367.1M382.2 409.3 L388.2 415.4M374.4 379.3 L379 390.9 L372 400M374.4 416.3 L379 411.7 L374.4 425.5 L369.7 432.5M385 364 L390 372 L394 382 L397 392M350 429.4 L352.1 437.5M358.1 433.4 L360.1 429.4M309.6 432.5 L316.6 437.1 L322.3 434.8M314.2 444 L318 446M323.5 446.4 L330.4 448.7M348.9 430.2 L354.7 434.8 L351.2 439.4M340 363.1 L342 362M445.4 359.7 L445.6 359.7M430.3 375.2 L430.5 375.2M432 345.1 L432.2 345.1M445.1 360.2 L445.3 360.2M463.2 362.8 L463.4 362.8" fill="none" stroke="#0000ff" stroke-width="4.0" stroke-linecap="round" stroke-linejoin="round" stroke-dasharray="none"/>
<defs><mask id="cm" maskUnits="userSpaceOnUse" x="0" y="0" width="669" height="497"><polygon points="271,214 285,210 300,209 320,206 327,199 345,199 346,212 365,217 380,221 384,231 392,236 403,235 414,236 418,244 414,247 392,248 380,248 372,240 367,231 356,229.5 346,231 338,237 347,244 360,250 368,253 370,262 365,268 356,275 347,282 330,283 313,284 300,292 290,282 276,268 268,256 270,240" fill="#fff"/><polygon points="230,239 245,238 258,245 266,256 276,268 292,280 300,292 288.7,294.3 277.6,284.3 262.1,269.9 248.9,256.6 236,246" fill="#fff"/><polygon points="197,217 203,226 208,238 216,253.6 230,256 243.3,256.9 248.9,256.6 230,240 215,226" fill="#fff"/><polygon points="168,216 177,235 187,252 197,274 206,294 214,308 224,321 237,331 253,340 269,346 285,349 300,350 300,336 286,333 272,326 258,318 244,308 232,296 222,283 212,265 202,245 192,228 183,212" fill="#fff"/><polygon points="245,300 255,288 275,285 288,290 298,300 305,312 312,325 318,340 321,348 300,349 280,345 262,336 250,322" fill="#fff"/><polygon points="290,282 312,283 311,290 311,297 314.5,305.7 321.7,316.6 329,323.8 345,334 370,337 385,339 400,344 410,352 414,361 418,368 421,373 422,383 416,385 408,380 398,373 388,370 378,369 365,367 350,366 335,367 322,364 312,354 300,349 292,330 286,312 282,300" fill="#fff"/><path d="M194.3 212L248.9 256.6L262.1 269.9L277.6 284.3L288.7 294.3" stroke="#fff" stroke-width="6" fill="none" stroke-linejoin="round" stroke-linecap="round"/><path d="M288.7 294.3L295.3 303.1L302 312L308.6 320.8L313 330.5L319.3 343L323.5 346.2L360 345.6L373.7 346.5L380 348L390.4 352.3L400.3 358.4L406.3 366.4L412.3 374.5L418.4 378.5L430 379.6" stroke="#fff" stroke-width="8" fill="none" stroke-linejoin="round" stroke-linecap="round"/><polygon points="218,256 230,253 242,252 252,262 262,272 272,280 282,286 270,288 255,286 240,280 228,270 220,262" fill="#000"/><polygon points="279,306 292,305 297,314 296,326 284,328 278,318" fill="#000"/></mask></defs>
<g mask="url(#cm)"><rect x="150" y="190" width="300" height="200" fill="#00ff00"/>
<path d="M159.92 196.36h1.2v1.2h-1.2zM164.8 195.68h1.2v1.2h-1.2zM168.39 194.89h1.2v1.2h-1.2zM171.87 195.02h1.2v1.2h-1.2zM178.92 195.1h1.2v1.2h-1.2zM182.49 197.07h1.2v1.2h-1.2zM187.03 197.14h1.2v1.2h-1.2zM192.05 195.5h1.2v1.2h-1.2zM193.76 195.54h1.2v1.2h-1.2zM199.9 196.2h1.2v1.2h-1.2zM205.89 196.11h1.2v1.2h-1.2zM208.64 195.29h1.2v1.2h-1.2zM215.29 195.55h1.2v1.2h-1.2zM220.62 195.52h1.2v1.2h-1.2zM227.24 195.39h1.2v1.2h-1.2zM231.94 196.9h1.2v1.2h-1.2zM236.92 197.15h1.2v1.2h-1.2zM241.17 196.62h1.2v1.2h-1.2zM245.33 194.89h1.2v1.2h-1.2zM251.67 196.18h1.2v1.2h-1.2zM256.44 196.47h1.2v1.2h-1.2zM262.52 195.89h1.2v1.2h-1.2zM269.64 195.94h1.2v1.2h-1.2zM272.48 196.48h1.2v1.2h-1.2zM280.71 196.77h1.2v1.2h-1.2zM283.25 196.4h1.2v1.2h-1.2zM287.04 195.2h1.2v1.2h-1.2zM289.68 196.64h1.2v1.2h-1.2zM294.14 195.74h1.2v1.2h-1.2zM299.75 195.88h1.2v1.2h-1.2zM307.31 196.77h1.2v1.2h-1.2zM311.59 195.8h1.2v1.2h-1.2zM317.98 197.1h1.2v1.2h-1.2zM319.81 195.36h1.2v1.2h-1.2zM324.93 196.21h1.2v1.2h-1.2zM327.78 195.81h1.2v1.2h-1.2zM334.07 197.09h1.2v1.2h-1.2zM339.49 196.28h1.2v1.2h-1.2zM343.64 196.96h1.2v1.2h-1.2zM351.94 196.71h1.2v1.2h-1.2zM355.19 195.05h1.2v1.2h-1.2zM359.58 194.96h1.2v1.2h-1.2zM364.01 195.62h1.2v1.2h-1.2zM367.18 195.16h1.2v1.2h-1.2zM372.07 194.86h1.2v1.2h-1.2zM378.95 195.16h1.2v1.2h-1.2zM382.41 195.67h1.2v1.2h-1.2zM387.78 197.18h1.2v1.2h-1.2zM391.58 195.01h1.2v1.2h-1.2zM394.96 195.44h1.2v1.2h-1.2zM400.41 194.86h1.2v1.2h-1.2zM407.86 195.15h1.2v1.2h-1.2zM411.49 196.07h1.2v1.2h-1.2zM420.43 196.47h1.2v1.2h-1.2zM423.22 195.2h1.2v1.2h-1.2zM429.54 196.67h1.2v1.2h-1.2zM433.1 196.75h1.2v1.2h-1.2zM163.48 200.96h1.2v1.2h-1.2zM167.46 200.24h1.2v1.2h-1.2zM171.43 199.07h1.2v1.2h-1.2zM176.46 200.66h1.2v1.2h-1.2zM183.39 201.25h1.2v1.2h-1.2zM191.38 199.88h1.2v1.2h-1.2zM193.36 199.47h1.2v1.2h-1.2zM198.66 201.16h1.2v1.2h-1.2zM204.25 200.57h1.2v1.2h-1.2zM208.97 200.59h1.2v1.2h-1.2zM217.29 200.8h1.2v1.2h-1.2zM220.41 200.89h1.2v1.2h-1.2zM226.77 201.33h1.2v1.2h-1.2zM230.26 201.27h1.2v1.2h-1.2zM235.24 199.3h1.2v1.2h-1.2zM241.4 200.94h1.2v1.2h-1.2zM245.11 201.35h1.2v1.2h-1.2zM249.15 200.32h1.2v1.2h-1.2zM252.03 201.33h1.2v1.2h-1.2zM259.02 201.24h1.2v1.2h-1.2zM264.86 200.98h1.2v1.2h-1.2zM267.13 199.7h1.2v1.2h-1.2zM272.35 199.62h1.2v1.2h-1.2zM275.75 201.18h1.2v1.2h-1.2zM281.29 200.4h1.2v1.2h-1.2zM287.39 201.2h1.2v1.2h-1.2zM292.73 200.26h1.2v1.2h-1.2zM296.01 199.44h1.2v1.2h-1.2zM300.6 199.41h1.2v1.2h-1.2zM305.3 200.34h1.2v1.2h-1.2zM309.15 200.33h1.2v1.2h-1.2zM313.77 200.34h1.2v1.2h-1.2zM318.53 200.85h1.2v1.2h-1.2zM324.4 200.82h1.2v1.2h-1.2zM330.29 200.47h1.2v1.2h-1.2zM335.51 200.66h1.2v1.2h-1.2zM340.43 200.15h1.2v1.2h-1.2zM347.25 201.1h1.2v1.2h-1.2zM352.26 200.34h1.2v1.2h-1.2zM360.33 199.33h1.2v1.2h-1.2zM363 199.17h1.2v1.2h-1.2zM366.12 200.61h1.2v1.2h-1.2zM374.44 199.37h1.2v1.2h-1.2zM379.38 199.34h1.2v1.2h-1.2zM386.45 199.53h1.2v1.2h-1.2zM391.1 200.17h1.2v1.2h-1.2zM398.87 199.39h1.2v1.2h-1.2zM402.72 199.81h1.2v1.2h-1.2zM406.21 200.73h1.2v1.2h-1.2zM410.48 200.06h1.2v1.2h-1.2zM413.36 200.5h1.2v1.2h-1.2zM417.6 201.36h1.2v1.2h-1.2zM426.19 199.25h1.2v1.2h-1.2zM427.69 200.87h1.2v1.2h-1.2zM432.27 200.01h1.2v1.2h-1.2zM440.57 199.62h1.2v1.2h-1.2zM162.97 204.88h1.2v1.2h-1.2zM165.2 204.85h1.2v1.2h-1.2zM170.02 205.45h1.2v1.2h-1.2zM177.61 203.4h1.2v1.2h-1.2zM181.47 205.27h1.2v1.2h-1.2zM187.15 204.53h1.2v1.2h-1.2zM193.22 203.51h1.2v1.2h-1.2zM198.21 203.46h1.2v1.2h-1.2zM201.63 203.68h1.2v1.2h-1.2zM206.83 205.02h1.2v1.2h-1.2zM211.79 203.63h1.2v1.2h-1.2zM214.88 203.8h1.2v1.2h-1.2zM220.57 204.52h1.2v1.2h-1.2zM223.87 205.44h1.2v1.2h-1.2zM228.72 204.24h1.2v1.2h-1.2zM233.75 204.14h1.2v1.2h-1.2zM238.33 205.56h1.2v1.2h-1.2zM243.29 204.9h1.2v1.2h-1.2zM247.42 204.03h1.2v1.2h-1.2zM250.25 203.37h1.2v1.2h-1.2zM256.35 203.59h1.2v1.2h-1.2zM261.86 205.29h1.2v1.2h-1.2zM265.7 203.78h1.2v1.2h-1.2zM270.61 203.58h1.2v1.2h-1.2zM274.86 205.51h1.2v1.2h-1.2zM282.13 203.79h1.2v1.2h-1.2zM287.81 204.06h1.2v1.2h-1.2zM291.53 204.34h1.2v1.2h-1.2zM296 204.41h1.2v1.2h-1.2zM299.7 203.42h1.2v1.2h-1.2zM303.73 203.25h1.2v1.2h-1.2zM308.72 204.61h1.2v1.2h-1.2zM315.36 204.78h1.2v1.2h-1.2zM321.39 204.13h1.2v1.2h-1.2zM326.19 203.56h1.2v1.2h-1.2zM330.84 203.31h1.2v1.2h-1.2zM337.59 204.71h1.2v1.2h-1.2zM343.05 203.53h1.2v1.2h-1.2zM347.2 205.2h1.2v1.2h-1.2zM354.08 204.6h1.2v1.2h-1.2zM359.83 204.86h1.2v1.2h-1.2zM362.06 203.52h1.2v1.2h-1.2zM366.87 205.21h1.2v1.2h-1.2zM373.61 204.7h1.2v1.2h-1.2zM378.74 203.21h1.2v1.2h-1.2zM385.41 204.41h1.2v1.2h-1.2zM390.25 203.36h1.2v1.2h-1.2zM394.73 203.38h1.2v1.2h-1.2zM400.46 203.69h1.2v1.2h-1.2zM406.92 204.39h1.2v1.2h-1.2zM410.08 204.84h1.2v1.2h-1.2zM416.29 204.74h1.2v1.2h-1.2zM418.62 203.81h1.2v1.2h-1.2zM424.82 204.56h1.2v1.2h-1.2zM427.62 203.85h1.2v1.2h-1.2zM435.03 204.82h1.2v1.2h-1.2zM438.88 204.32h1.2v1.2h-1.2zM161.54 207.88h1.2v1.2h-1.2zM168.1 207.44h1.2v1.2h-1.2zM172.63 209.72h1.2v1.2h-1.2zM175.82 207.9h1.2v1.2h-1.2zM181.98 208.8h1.2v1.2h-1.2zM186.85 209.69h1.2v1.2h-1.2zM191.64 208.62h1.2v1.2h-1.2zM197.45 207.96h1.2v1.2h-1.2zM202.99 207.46h1.2v1.2h-1.2zM206.51 208.48h1.2v1.2h-1.2zM209.87 208.23h1.2v1.2h-1.2zM216.41 207.4h1.2v1.2h-1.2zM222.16 207.69h1.2v1.2h-1.2zM228.06 209.56h1.2v1.2h-1.2zM231.41 208.34h1.2v1.2h-1.2zM238.56 208.27h1.2v1.2h-1.2zM242.4 207.52h1.2v1.2h-1.2zM247.88 208.09h1.2v1.2h-1.2zM252.43 208.04h1.2v1.2h-1.2zM257.29 208.3h1.2v1.2h-1.2zM265.74 209.35h1.2v1.2h-1.2zM271.22 209.66h1.2v1.2h-1.2zM275.79 207.52h1.2v1.2h-1.2zM280.68 209.21h1.2v1.2h-1.2zM285.62 207.52h1.2v1.2h-1.2zM291.42 208.53h1.2v1.2h-1.2zM296.46 209.17h1.2v1.2h-1.2zM302.78 208.97h1.2v1.2h-1.2zM308.07 208.35h1.2v1.2h-1.2zM310.89 207.9h1.2v1.2h-1.2zM318.11 207.93h1.2v1.2h-1.2zM325.83 208.48h1.2v1.2h-1.2zM327.34 207.62h1.2v1.2h-1.2zM331.56 207.97h1.2v1.2h-1.2zM337.27 209.53h1.2v1.2h-1.2zM342.55 208.39h1.2v1.2h-1.2zM347.51 208.21h1.2v1.2h-1.2zM350.9 209.72h1.2v1.2h-1.2zM355.46 208.91h1.2v1.2h-1.2zM360.68 208.05h1.2v1.2h-1.2zM365.48 208.47h1.2v1.2h-1.2zM373.19 209.49h1.2v1.2h-1.2zM374.3 209.1h1.2v1.2h-1.2zM381.81 208.81h1.2v1.2h-1.2zM385.07 209.62h1.2v1.2h-1.2zM392.44 209.73h1.2v1.2h-1.2zM394.44 207.77h1.2v1.2h-1.2zM401.23 209.66h1.2v1.2h-1.2zM406.79 209.24h1.2v1.2h-1.2zM411.38 207.49h1.2v1.2h-1.2zM416.27 209.61h1.2v1.2h-1.2zM421.92 207.71h1.2v1.2h-1.2zM427.17 209.08h1.2v1.2h-1.2zM429.31 208.66h1.2v1.2h-1.2zM435.51 207.94h1.2v1.2h-1.2zM159.44 212.71h1.2v1.2h-1.2zM166.84 213.72h1.2v1.2h-1.2zM170.54 212.19h1.2v1.2h-1.2zM178.33 212.34h1.2v1.2h-1.2zM181.28 213.22h1.2v1.2h-1.2zM185.31 213.2h1.2v1.2h-1.2zM191.5 211.68h1.2v1.2h-1.2zM196.59 213.24h1.2v1.2h-1.2zM201.82 213.37h1.2v1.2h-1.2zM205.06 213.93h1.2v1.2h-1.2zM211.34 212.15h1.2v1.2h-1.2zM215.32 212.31h1.2v1.2h-1.2zM220.88 212.05h1.2v1.2h-1.2zM224.82 213.2h1.2v1.2h-1.2zM230.35 212.54h1.2v1.2h-1.2zM236.97 211.94h1.2v1.2h-1.2zM237.89 212.54h1.2v1.2h-1.2zM246.55 213.36h1.2v1.2h-1.2zM253.19 212.39h1.2v1.2h-1.2zM257.26 213.39h1.2v1.2h-1.2zM260.04 212.51h1.2v1.2h-1.2zM263.66 212.01h1.2v1.2h-1.2zM267.01 212.44h1.2v1.2h-1.2zM272.91 213.91h1.2v1.2h-1.2zM277.73 213.57h1.2v1.2h-1.2zM283.93 211.72h1.2v1.2h-1.2zM288.67 213.81h1.2v1.2h-1.2zM292.72 213.75h1.2v1.2h-1.2zM296.45 213.55h1.2v1.2h-1.2zM301.14 211.68h1.2v1.2h-1.2zM307.47 212.22h1.2v1.2h-1.2zM313.15 212.41h1.2v1.2h-1.2zM317.64 213.08h1.2v1.2h-1.2zM321.2 212.36h1.2v1.2h-1.2zM323.39 213.41h1.2v1.2h-1.2zM331.53 213.86h1.2v1.2h-1.2zM333.9 212.74h1.2v1.2h-1.2zM342.43 212.53h1.2v1.2h-1.2zM345.12 212.78h1.2v1.2h-1.2zM350.66 213.53h1.2v1.2h-1.2zM358.29 213.45h1.2v1.2h-1.2zM362.13 212.37h1.2v1.2h-1.2zM368.08 211.79h1.2v1.2h-1.2zM372.08 212.19h1.2v1.2h-1.2zM373.62 212.93h1.2v1.2h-1.2zM380.94 213.72h1.2v1.2h-1.2zM385.25 211.8h1.2v1.2h-1.2zM389.74 213.3h1.2v1.2h-1.2zM393.79 212.6h1.2v1.2h-1.2zM400.47 213.4h1.2v1.2h-1.2zM406.49 211.89h1.2v1.2h-1.2zM411.4 212.96h1.2v1.2h-1.2zM417.35 212.08h1.2v1.2h-1.2zM420.11 211.97h1.2v1.2h-1.2zM427.26 212.38h1.2v1.2h-1.2zM433.19 212.82h1.2v1.2h-1.2zM436.84 213.17h1.2v1.2h-1.2zM160.23 217.77h1.2v1.2h-1.2zM167.57 215.9h1.2v1.2h-1.2zM169.57 216.25h1.2v1.2h-1.2zM177.38 218.03h1.2v1.2h-1.2zM182.84 216.88h1.2v1.2h-1.2zM186.86 218.07h1.2v1.2h-1.2zM190.13 217.29h1.2v1.2h-1.2zM193.6 216.14h1.2v1.2h-1.2zM197.37 217.24h1.2v1.2h-1.2zM202.67 215.83h1.2v1.2h-1.2zM208.58 216.24h1.2v1.2h-1.2zM211.59 217.71h1.2v1.2h-1.2zM216.31 216.04h1.2v1.2h-1.2zM222.46 217.33h1.2v1.2h-1.2zM225.08 217.47h1.2v1.2h-1.2zM230.16 216.54h1.2v1.2h-1.2zM236.61 217.16h1.2v1.2h-1.2zM241.49 217.87h1.2v1.2h-1.2zM247.83 216.27h1.2v1.2h-1.2zM253.03 215.81h1.2v1.2h-1.2zM259.89 217.77h1.2v1.2h-1.2zM265.99 216.91h1.2v1.2h-1.2zM267.37 217.12h1.2v1.2h-1.2zM275.48 216.01h1.2v1.2h-1.2zM279.23 217.01h1.2v1.2h-1.2zM282.91 217.05h1.2v1.2h-1.2zM288.66 216.98h1.2v1.2h-1.2zM297.15 216.27h1.2v1.2h-1.2zM300.96 218.14h1.2v1.2h-1.2zM303.24 218.02h1.2v1.2h-1.2zM310.45 217.29h1.2v1.2h-1.2zM314.19 217.69h1.2v1.2h-1.2zM319.09 217.83h1.2v1.2h-1.2zM324.42 216.32h1.2v1.2h-1.2zM330.12 216.72h1.2v1.2h-1.2zM333.18 217.54h1.2v1.2h-1.2zM338.75 217.15h1.2v1.2h-1.2zM344.51 217.81h1.2v1.2h-1.2zM350.05 217.12h1.2v1.2h-1.2zM354.55 216.81h1.2v1.2h-1.2zM360.16 217.38h1.2v1.2h-1.2zM365.04 215.86h1.2v1.2h-1.2zM370.55 216.36h1.2v1.2h-1.2zM377.21 216.9h1.2v1.2h-1.2zM380.33 216.06h1.2v1.2h-1.2zM384.08 216.02h1.2v1.2h-1.2zM389.15 215.9h1.2v1.2h-1.2zM393.27 217.56h1.2v1.2h-1.2zM400.4 215.93h1.2v1.2h-1.2zM405.01 218.08h1.2v1.2h-1.2zM410.35 218.19h1.2v1.2h-1.2zM415.92 216.26h1.2v1.2h-1.2zM421.4 218.1h1.2v1.2h-1.2zM426.67 217.69h1.2v1.2h-1.2zM432.66 216.64h1.2v1.2h-1.2zM438.71 217.95h1.2v1.2h-1.2zM161.38 221.21h1.2v1.2h-1.2zM167.83 220.63h1.2v1.2h-1.2zM173.18 220.09h1.2v1.2h-1.2zM176.75 222.25h1.2v1.2h-1.2zM184.5 220.4h1.2v1.2h-1.2zM188.01 221.27h1.2v1.2h-1.2zM194.15 222.1h1.2v1.2h-1.2zM199.98 222.12h1.2v1.2h-1.2zM205.03 221.51h1.2v1.2h-1.2zM209.13 220.64h1.2v1.2h-1.2zM214.94 220.86h1.2v1.2h-1.2zM220.33 220.42h1.2v1.2h-1.2zM224.88 221.97h1.2v1.2h-1.2zM230.91 222.36h1.2v1.2h-1.2zM236.24 220.75h1.2v1.2h-1.2zM237.86 220.36h1.2v1.2h-1.2zM244.4 221.23h1.2v1.2h-1.2zM249.69 220.55h1.2v1.2h-1.2zM254.82 220.01h1.2v1.2h-1.2zM259.63 220.86h1.2v1.2h-1.2zM265.24 221.41h1.2v1.2h-1.2zM269.47 221.14h1.2v1.2h-1.2zM274.31 220.58h1.2v1.2h-1.2zM275.74 221.53h1.2v1.2h-1.2zM283.91 220.96h1.2v1.2h-1.2zM285.89 221.55h1.2v1.2h-1.2zM292.1 221.55h1.2v1.2h-1.2zM298.69 221.76h1.2v1.2h-1.2zM302.83 220.11h1.2v1.2h-1.2zM306.44 220.57h1.2v1.2h-1.2zM311.23 220.03h1.2v1.2h-1.2zM316.87 220.34h1.2v1.2h-1.2zM319.97 221.22h1.2v1.2h-1.2zM326.01 220.42h1.2v1.2h-1.2zM328.9 220.12h1.2v1.2h-1.2zM336.51 221.72h1.2v1.2h-1.2zM340.22 221.79h1.2v1.2h-1.2zM344.8 221.09h1.2v1.2h-1.2zM347.07 220.56h1.2v1.2h-1.2zM351.38 221.8h1.2v1.2h-1.2zM358.5 221.71h1.2v1.2h-1.2zM361.92 221.05h1.2v1.2h-1.2zM367.69 220.64h1.2v1.2h-1.2zM374.44 220.52h1.2v1.2h-1.2zM377.73 220.62h1.2v1.2h-1.2zM384.13 222.27h1.2v1.2h-1.2zM388.62 222.11h1.2v1.2h-1.2zM392.84 222.18h1.2v1.2h-1.2zM399.59 221.6h1.2v1.2h-1.2zM405.36 222.02h1.2v1.2h-1.2zM412.12 221.05h1.2v1.2h-1.2zM416.93 220.74h1.2v1.2h-1.2zM421.22 220.19h1.2v1.2h-1.2zM426.02 220.06h1.2v1.2h-1.2zM432.19 220.83h1.2v1.2h-1.2zM433.42 220.1h1.2v1.2h-1.2zM162.49 225.97h1.2v1.2h-1.2zM165.87 225.07h1.2v1.2h-1.2zM172.51 226.34h1.2v1.2h-1.2zM176.35 226.39h1.2v1.2h-1.2zM180.4 224.69h1.2v1.2h-1.2zM184.02 226.23h1.2v1.2h-1.2zM191.76 226.18h1.2v1.2h-1.2zM196.11 224.44h1.2v1.2h-1.2zM201.31 224.69h1.2v1.2h-1.2zM204.77 224.25h1.2v1.2h-1.2zM208.62 225.92h1.2v1.2h-1.2zM213.34 226.51h1.2v1.2h-1.2zM219.94 225.68h1.2v1.2h-1.2zM222.22 225.25h1.2v1.2h-1.2zM227.84 225.89h1.2v1.2h-1.2zM232.56 226.27h1.2v1.2h-1.2zM238.14 224.61h1.2v1.2h-1.2zM239.79 226.03h1.2v1.2h-1.2zM245.63 225.38h1.2v1.2h-1.2zM252.99 224.64h1.2v1.2h-1.2zM256.62 226.2h1.2v1.2h-1.2zM262.69 224.88h1.2v1.2h-1.2zM266.1 225.4h1.2v1.2h-1.2zM269.74 224.39h1.2v1.2h-1.2zM275.79 226.09h1.2v1.2h-1.2zM280.15 225.16h1.2v1.2h-1.2zM286.44 224.41h1.2v1.2h-1.2zM290.01 224.69h1.2v1.2h-1.2zM296.92 225.4h1.2v1.2h-1.2zM301.51 224.76h1.2v1.2h-1.2zM305.34 226.01h1.2v1.2h-1.2zM311.44 225.04h1.2v1.2h-1.2zM314.45 226.22h1.2v1.2h-1.2zM321.69 224.61h1.2v1.2h-1.2zM326.6 225.59h1.2v1.2h-1.2zM329.55 226.32h1.2v1.2h-1.2zM332.95 224.92h1.2v1.2h-1.2zM340.52 224.57h1.2v1.2h-1.2zM342.7 224.98h1.2v1.2h-1.2zM347.5 224.99h1.2v1.2h-1.2zM354.01 225.95h1.2v1.2h-1.2zM357.78 224.44h1.2v1.2h-1.2zM362.5 226.11h1.2v1.2h-1.2zM366.55 224.67h1.2v1.2h-1.2zM370.98 224.7h1.2v1.2h-1.2zM375.43 225.16h1.2v1.2h-1.2zM383.28 225.4h1.2v1.2h-1.2zM387.98 224.54h1.2v1.2h-1.2zM393.12 225.98h1.2v1.2h-1.2zM399.42 225.58h1.2v1.2h-1.2zM405.14 224.75h1.2v1.2h-1.2zM412.18 226.06h1.2v1.2h-1.2zM417.7 225.83h1.2v1.2h-1.2zM421.93 224.95h1.2v1.2h-1.2zM426.25 225.21h1.2v1.2h-1.2zM433.94 225.71h1.2v1.2h-1.2zM437.32 225.29h1.2v1.2h-1.2zM161.75 230.63h1.2v1.2h-1.2zM165.74 230.27h1.2v1.2h-1.2zM169.91 230.74h1.2v1.2h-1.2zM173.69 228.79h1.2v1.2h-1.2zM180.72 229.65h1.2v1.2h-1.2zM183.43 229.7h1.2v1.2h-1.2zM188.89 229.93h1.2v1.2h-1.2zM194.91 229.38h1.2v1.2h-1.2zM200.32 230.04h1.2v1.2h-1.2zM206.65 228.69h1.2v1.2h-1.2zM211.89 228.54h1.2v1.2h-1.2zM216.34 228.43h1.2v1.2h-1.2zM221.16 230.08h1.2v1.2h-1.2zM225.25 228.94h1.2v1.2h-1.2zM233 229.66h1.2v1.2h-1.2zM236.74 229.34h1.2v1.2h-1.2zM238.86 230.26h1.2v1.2h-1.2zM246.3 229.53h1.2v1.2h-1.2zM250.27 230.71h1.2v1.2h-1.2zM256.06 230.36h1.2v1.2h-1.2zM261.5 229.11h1.2v1.2h-1.2zM265.62 230.4h1.2v1.2h-1.2zM272.36 229.04h1.2v1.2h-1.2zM275.19 229.42h1.2v1.2h-1.2zM278.5 230.13h1.2v1.2h-1.2zM283.57 229.12h1.2v1.2h-1.2zM289.06 229.93h1.2v1.2h-1.2zM294.34 230.63h1.2v1.2h-1.2zM299.49 230.39h1.2v1.2h-1.2zM307.88 228.74h1.2v1.2h-1.2zM313.42 228.44h1.2v1.2h-1.2zM317.91 229.97h1.2v1.2h-1.2zM319.61 228.74h1.2v1.2h-1.2zM325.84 229.23h1.2v1.2h-1.2zM330.18 230.3h1.2v1.2h-1.2zM334.15 229.86h1.2v1.2h-1.2zM339.32 230.55h1.2v1.2h-1.2zM345.7 228.87h1.2v1.2h-1.2zM350.35 230.18h1.2v1.2h-1.2zM356.22 229.73h1.2v1.2h-1.2zM358.57 228.73h1.2v1.2h-1.2zM363.02 229.52h1.2v1.2h-1.2zM368.25 229.6h1.2v1.2h-1.2zM374.49 228.42h1.2v1.2h-1.2zM379.33 229.75h1.2v1.2h-1.2zM385.94 229.3h1.2v1.2h-1.2zM391.06 228.58h1.2v1.2h-1.2zM395.49 228.47h1.2v1.2h-1.2zM400.96 230.64h1.2v1.2h-1.2zM406.35 229.63h1.2v1.2h-1.2zM411.05 228.48h1.2v1.2h-1.2zM415.89 229.21h1.2v1.2h-1.2zM421.2 229.54h1.2v1.2h-1.2zM427.49 228.91h1.2v1.2h-1.2zM431.25 229.73h1.2v1.2h-1.2zM436.84 230.39h1.2v1.2h-1.2zM160.83 233.82h1.2v1.2h-1.2zM168.4 234.5h1.2v1.2h-1.2zM171.88 233.32h1.2v1.2h-1.2zM178.09 234.48h1.2v1.2h-1.2zM181.98 234.73h1.2v1.2h-1.2zM185.09 233.32h1.2v1.2h-1.2zM189.03 234.81h1.2v1.2h-1.2zM195.76 234.49h1.2v1.2h-1.2zM201.85 234.08h1.2v1.2h-1.2zM207.49 234.03h1.2v1.2h-1.2zM211.58 234.2h1.2v1.2h-1.2zM218.1 232.84h1.2v1.2h-1.2zM219.97 234.46h1.2v1.2h-1.2zM228.07 233.49h1.2v1.2h-1.2zM234.43 233.95h1.2v1.2h-1.2zM237.25 233.61h1.2v1.2h-1.2zM242.09 234.14h1.2v1.2h-1.2zM247.26 233.96h1.2v1.2h-1.2zM251.08 234.54h1.2v1.2h-1.2zM258.7 233.67h1.2v1.2h-1.2zM260.65 234.02h1.2v1.2h-1.2zM268.74 233.74h1.2v1.2h-1.2zM270.84 234.15h1.2v1.2h-1.2zM275.13 232.64h1.2v1.2h-1.2zM280.24 232.89h1.2v1.2h-1.2zM284.85 234.69h1.2v1.2h-1.2zM288.53 234.33h1.2v1.2h-1.2zM294.9 233.05h1.2v1.2h-1.2zM298.67 234.31h1.2v1.2h-1.2zM304.61 232.8h1.2v1.2h-1.2zM309.93 233.71h1.2v1.2h-1.2zM314.86 234.91h1.2v1.2h-1.2zM319.79 232.64h1.2v1.2h-1.2zM327.66 232.79h1.2v1.2h-1.2zM331.83 233h1.2v1.2h-1.2zM337.18 232.74h1.2v1.2h-1.2zM342.05 233.65h1.2v1.2h-1.2zM346.29 234.51h1.2v1.2h-1.2zM352.38 234.11h1.2v1.2h-1.2zM356.36 234.49h1.2v1.2h-1.2zM363.89 233.96h1.2v1.2h-1.2zM366.09 234.94h1.2v1.2h-1.2zM374 233.4h1.2v1.2h-1.2zM379.77 234.6h1.2v1.2h-1.2zM383.07 233.63h1.2v1.2h-1.2zM389.44 234.24h1.2v1.2h-1.2zM396.3 234.54h1.2v1.2h-1.2zM397.97 233.23h1.2v1.2h-1.2zM404.49 234.56h1.2v1.2h-1.2zM409.02 234.6h1.2v1.2h-1.2zM417.43 233.97h1.2v1.2h-1.2zM421.7 234.54h1.2v1.2h-1.2zM427.44 233.43h1.2v1.2h-1.2zM430.12 234.51h1.2v1.2h-1.2zM434.81 234.84h1.2v1.2h-1.2zM438.58 234.23h1.2v1.2h-1.2zM159.88 238.6h1.2v1.2h-1.2zM166.37 237.01h1.2v1.2h-1.2zM173.23 237.36h1.2v1.2h-1.2zM178.84 238.92h1.2v1.2h-1.2zM182.65 238.21h1.2v1.2h-1.2zM185.86 237.23h1.2v1.2h-1.2zM191.98 238.15h1.2v1.2h-1.2zM197.15 237.16h1.2v1.2h-1.2zM202.22 237.7h1.2v1.2h-1.2zM204.95 238.69h1.2v1.2h-1.2zM208.81 237.63h1.2v1.2h-1.2zM212.14 236.88h1.2v1.2h-1.2zM221.15 237.97h1.2v1.2h-1.2zM224.53 238.67h1.2v1.2h-1.2zM231.37 238.64h1.2v1.2h-1.2zM237.37 237.41h1.2v1.2h-1.2zM238.7 237.23h1.2v1.2h-1.2zM242 238.14h1.2v1.2h-1.2zM249.33 239.07h1.2v1.2h-1.2zM254.38 238.24h1.2v1.2h-1.2zM259.24 239.1h1.2v1.2h-1.2zM264.85 238.34h1.2v1.2h-1.2zM271.53 237.74h1.2v1.2h-1.2zM274.85 239.12h1.2v1.2h-1.2zM281.51 236.89h1.2v1.2h-1.2zM286.17 238.97h1.2v1.2h-1.2zM293.84 236.91h1.2v1.2h-1.2zM299.31 238.35h1.2v1.2h-1.2zM303.81 237.15h1.2v1.2h-1.2zM312.22 238.42h1.2v1.2h-1.2zM315.57 238.62h1.2v1.2h-1.2zM318.59 237.42h1.2v1.2h-1.2zM322.93 237.2h1.2v1.2h-1.2zM326.13 238.43h1.2v1.2h-1.2zM331.39 237.27h1.2v1.2h-1.2zM335.63 237.33h1.2v1.2h-1.2zM341.75 238.93h1.2v1.2h-1.2zM344.41 237.03h1.2v1.2h-1.2zM351.88 238.31h1.2v1.2h-1.2zM355.23 238.78h1.2v1.2h-1.2zM361.03 237.14h1.2v1.2h-1.2zM363.48 238.51h1.2v1.2h-1.2zM368.91 238.89h1.2v1.2h-1.2zM374.01 237.17h1.2v1.2h-1.2zM379.6 237.6h1.2v1.2h-1.2zM382.56 237.56h1.2v1.2h-1.2zM387.64 239.15h1.2v1.2h-1.2zM393.65 238.4h1.2v1.2h-1.2zM396.53 237.49h1.2v1.2h-1.2zM399.98 237.67h1.2v1.2h-1.2zM408.84 239.02h1.2v1.2h-1.2zM410.51 238.95h1.2v1.2h-1.2zM415.49 237.5h1.2v1.2h-1.2zM419.8 238.74h1.2v1.2h-1.2zM424.69 236.8h1.2v1.2h-1.2zM431.85 237.25h1.2v1.2h-1.2zM437.81 237.32h1.2v1.2h-1.2zM159.45 242.85h1.2v1.2h-1.2zM165.14 241.19h1.2v1.2h-1.2zM170.14 242.19h1.2v1.2h-1.2zM173.25 242.47h1.2v1.2h-1.2zM180.69 242.4h1.2v1.2h-1.2zM182.56 242.76h1.2v1.2h-1.2zM189.25 241.13h1.2v1.2h-1.2zM194.03 243.02h1.2v1.2h-1.2zM200.59 241.04h1.2v1.2h-1.2zM206.77 243.09h1.2v1.2h-1.2zM210.2 243h1.2v1.2h-1.2zM214.73 241.89h1.2v1.2h-1.2zM219.54 242.25h1.2v1.2h-1.2zM225.91 241.29h1.2v1.2h-1.2zM232.46 243.08h1.2v1.2h-1.2zM236.61 241.92h1.2v1.2h-1.2zM240.41 243.09h1.2v1.2h-1.2zM248.07 242.23h1.2v1.2h-1.2zM253.29 241.05h1.2v1.2h-1.2zM258.75 241.44h1.2v1.2h-1.2zM262.64 242.96h1.2v1.2h-1.2zM265.77 242.68h1.2v1.2h-1.2zM269.62 242.44h1.2v1.2h-1.2zM276.36 242.69h1.2v1.2h-1.2zM281.21 242.72h1.2v1.2h-1.2zM282.61 242.18h1.2v1.2h-1.2zM288.08 241.29h1.2v1.2h-1.2zM292.37 242.42h1.2v1.2h-1.2zM298.48 242.37h1.2v1.2h-1.2zM304.27 242.98h1.2v1.2h-1.2zM311.26 242.01h1.2v1.2h-1.2zM317.69 241.95h1.2v1.2h-1.2zM324.77 241.81h1.2v1.2h-1.2zM327.66 242.05h1.2v1.2h-1.2zM335.52 243.19h1.2v1.2h-1.2zM341.59 241.13h1.2v1.2h-1.2zM346.97 243.24h1.2v1.2h-1.2zM349.61 242.52h1.2v1.2h-1.2zM354.53 241.17h1.2v1.2h-1.2zM359.25 241.05h1.2v1.2h-1.2zM364.57 242.86h1.2v1.2h-1.2zM369.87 242.94h1.2v1.2h-1.2zM376.78 241.08h1.2v1.2h-1.2zM380.34 242.63h1.2v1.2h-1.2zM385.49 243.22h1.2v1.2h-1.2zM389.98 242.25h1.2v1.2h-1.2zM396.88 241.69h1.2v1.2h-1.2zM400.39 241.29h1.2v1.2h-1.2zM406.6 242.23h1.2v1.2h-1.2zM409.44 242.28h1.2v1.2h-1.2zM412.35 241.32h1.2v1.2h-1.2zM417.58 241.69h1.2v1.2h-1.2zM420.86 242.31h1.2v1.2h-1.2zM428.44 242.37h1.2v1.2h-1.2zM432.67 242.7h1.2v1.2h-1.2zM438.59 242.47h1.2v1.2h-1.2zM160.16 245.73h1.2v1.2h-1.2zM165.62 246.61h1.2v1.2h-1.2zM169.06 247.27h1.2v1.2h-1.2zM173.89 246.38h1.2v1.2h-1.2zM179.54 245.91h1.2v1.2h-1.2zM182.87 245.36h1.2v1.2h-1.2zM189.82 245.35h1.2v1.2h-1.2zM194.49 246.96h1.2v1.2h-1.2zM197.67 247.5h1.2v1.2h-1.2zM203.18 246.01h1.2v1.2h-1.2zM209.3 246.68h1.2v1.2h-1.2zM215.78 246.44h1.2v1.2h-1.2zM221.27 247.02h1.2v1.2h-1.2zM226.32 246.9h1.2v1.2h-1.2zM230.59 247.29h1.2v1.2h-1.2zM236.02 246.61h1.2v1.2h-1.2zM241.6 246.57h1.2v1.2h-1.2zM245.82 247.29h1.2v1.2h-1.2zM249.93 246.29h1.2v1.2h-1.2zM255.83 245.9h1.2v1.2h-1.2zM260 246.12h1.2v1.2h-1.2zM265.16 247.24h1.2v1.2h-1.2zM269.13 245.64h1.2v1.2h-1.2zM272.65 246.58h1.2v1.2h-1.2zM277.72 247.41h1.2v1.2h-1.2zM284.46 247.21h1.2v1.2h-1.2zM288.92 246.22h1.2v1.2h-1.2zM294.57 245.31h1.2v1.2h-1.2zM301.22 247.41h1.2v1.2h-1.2zM307.17 247.6h1.2v1.2h-1.2zM312.15 246.84h1.2v1.2h-1.2zM316.34 246.63h1.2v1.2h-1.2zM322.67 246.82h1.2v1.2h-1.2zM325.2 246.1h1.2v1.2h-1.2zM331.29 246.58h1.2v1.2h-1.2zM338.64 246.37h1.2v1.2h-1.2zM342.44 247.59h1.2v1.2h-1.2zM346.68 247.16h1.2v1.2h-1.2zM350.06 247.55h1.2v1.2h-1.2zM356.62 245.47h1.2v1.2h-1.2zM363.34 247.17h1.2v1.2h-1.2zM370.4 246.21h1.2v1.2h-1.2zM372.58 246.43h1.2v1.2h-1.2zM377.29 245.64h1.2v1.2h-1.2zM383.92 246.05h1.2v1.2h-1.2zM390.5 245.3h1.2v1.2h-1.2zM395.69 245.94h1.2v1.2h-1.2zM398.91 245.93h1.2v1.2h-1.2zM406.68 246.8h1.2v1.2h-1.2zM410.51 246.53h1.2v1.2h-1.2zM415.25 246.48h1.2v1.2h-1.2zM421.53 246.19h1.2v1.2h-1.2zM424.14 247.02h1.2v1.2h-1.2zM427.79 245.61h1.2v1.2h-1.2zM435.03 246.67h1.2v1.2h-1.2zM438.66 245.23h1.2v1.2h-1.2zM161.61 250.25h1.2v1.2h-1.2zM164.28 249.64h1.2v1.2h-1.2zM171.44 250.24h1.2v1.2h-1.2zM175.69 249.53h1.2v1.2h-1.2zM182.46 251.7h1.2v1.2h-1.2zM187.39 250h1.2v1.2h-1.2zM191.95 251.45h1.2v1.2h-1.2zM196.3 251.36h1.2v1.2h-1.2zM199.82 251.7h1.2v1.2h-1.2zM205.85 249.98h1.2v1.2h-1.2zM209.83 249.93h1.2v1.2h-1.2zM214.73 250.56h1.2v1.2h-1.2zM218.71 249.82h1.2v1.2h-1.2zM223.11 251.73h1.2v1.2h-1.2zM228.61 249.68h1.2v1.2h-1.2zM233.18 250.37h1.2v1.2h-1.2zM236.09 251.38h1.2v1.2h-1.2zM241.01 249.86h1.2v1.2h-1.2zM245.34 249.48h1.2v1.2h-1.2zM251.14 249.77h1.2v1.2h-1.2zM256.02 250.05h1.2v1.2h-1.2zM262.13 250.46h1.2v1.2h-1.2zM270.17 249.78h1.2v1.2h-1.2zM274.48 250.3h1.2v1.2h-1.2zM279.31 251.68h1.2v1.2h-1.2zM284.38 250.49h1.2v1.2h-1.2zM289.71 250.03h1.2v1.2h-1.2zM295.55 250.28h1.2v1.2h-1.2zM299.85 249.91h1.2v1.2h-1.2zM304.52 250.63h1.2v1.2h-1.2zM310.09 251.25h1.2v1.2h-1.2zM315.9 250.76h1.2v1.2h-1.2zM319.53 249.61h1.2v1.2h-1.2zM324.95 250.17h1.2v1.2h-1.2zM328.21 250.75h1.2v1.2h-1.2zM333.97 250.11h1.2v1.2h-1.2zM337.1 249.94h1.2v1.2h-1.2zM342.19 250.08h1.2v1.2h-1.2zM347.48 251.26h1.2v1.2h-1.2zM353.48 249.72h1.2v1.2h-1.2zM355.32 251.03h1.2v1.2h-1.2zM361.77 250.39h1.2v1.2h-1.2zM368.3 250h1.2v1.2h-1.2zM373.29 250.91h1.2v1.2h-1.2zM376.63 251.59h1.2v1.2h-1.2zM384.12 249.5h1.2v1.2h-1.2zM386.09 249.88h1.2v1.2h-1.2zM391.16 249.49h1.2v1.2h-1.2zM396.36 249.83h1.2v1.2h-1.2zM402.18 251.12h1.2v1.2h-1.2zM406.03 251.04h1.2v1.2h-1.2zM409.28 251.4h1.2v1.2h-1.2zM415.97 249.5h1.2v1.2h-1.2zM422.99 249.51h1.2v1.2h-1.2zM425.74 251.3h1.2v1.2h-1.2zM432.28 251.2h1.2v1.2h-1.2zM435.37 250.34h1.2v1.2h-1.2zM161.83 253.82h1.2v1.2h-1.2zM168.6 255.83h1.2v1.2h-1.2zM175.12 255.59h1.2v1.2h-1.2zM179.64 253.73h1.2v1.2h-1.2zM185.16 254.83h1.2v1.2h-1.2zM190.55 255.43h1.2v1.2h-1.2zM195.9 255.53h1.2v1.2h-1.2zM199.72 255.93h1.2v1.2h-1.2zM205.12 254.2h1.2v1.2h-1.2zM208.24 254.59h1.2v1.2h-1.2zM212.2 253.93h1.2v1.2h-1.2zM218.91 254.17h1.2v1.2h-1.2zM222.67 254.67h1.2v1.2h-1.2zM228.48 254.32h1.2v1.2h-1.2zM234.01 254.95h1.2v1.2h-1.2zM240.53 254.92h1.2v1.2h-1.2zM244.37 255.2h1.2v1.2h-1.2zM250.54 255.44h1.2v1.2h-1.2zM255.5 254.29h1.2v1.2h-1.2zM260.35 253.74h1.2v1.2h-1.2zM264.67 255.28h1.2v1.2h-1.2zM269.26 254.38h1.2v1.2h-1.2zM274.92 254h1.2v1.2h-1.2zM277.57 255.98h1.2v1.2h-1.2zM283.55 255.32h1.2v1.2h-1.2zM291.43 253.86h1.2v1.2h-1.2zM296 254.06h1.2v1.2h-1.2zM299.86 255.81h1.2v1.2h-1.2zM307.15 255.84h1.2v1.2h-1.2zM311.48 254.19h1.2v1.2h-1.2zM314.72 255.46h1.2v1.2h-1.2zM321.55 254.05h1.2v1.2h-1.2zM328.61 255.82h1.2v1.2h-1.2zM332.43 255.59h1.2v1.2h-1.2zM336.78 254.04h1.2v1.2h-1.2zM342.74 254.48h1.2v1.2h-1.2zM348.04 255.6h1.2v1.2h-1.2zM351.27 254.96h1.2v1.2h-1.2zM358.99 255.29h1.2v1.2h-1.2zM365.59 254.79h1.2v1.2h-1.2zM368.22 254.32h1.2v1.2h-1.2zM373.23 255.25h1.2v1.2h-1.2zM378.31 255.93h1.2v1.2h-1.2zM380.87 254.65h1.2v1.2h-1.2zM386.99 253.61h1.2v1.2h-1.2zM393.41 255.49h1.2v1.2h-1.2zM396.47 255.19h1.2v1.2h-1.2zM401.93 254.41h1.2v1.2h-1.2zM407.48 255.58h1.2v1.2h-1.2zM412.19 254.31h1.2v1.2h-1.2zM418.22 254.44h1.2v1.2h-1.2zM420.87 254.38h1.2v1.2h-1.2zM428.41 255.78h1.2v1.2h-1.2zM434.51 255.91h1.2v1.2h-1.2zM439.38 253.74h1.2v1.2h-1.2zM161.22 259.17h1.2v1.2h-1.2zM168.13 259.35h1.2v1.2h-1.2zM172.11 259.92h1.2v1.2h-1.2zM175.23 259.43h1.2v1.2h-1.2zM179.76 259.39h1.2v1.2h-1.2zM185.87 258.8h1.2v1.2h-1.2zM190.91 258.75h1.2v1.2h-1.2zM193.6 259.94h1.2v1.2h-1.2zM198.54 259.87h1.2v1.2h-1.2zM202.75 259.07h1.2v1.2h-1.2zM208.19 259.13h1.2v1.2h-1.2zM212.62 258.07h1.2v1.2h-1.2zM217.7 257.99h1.2v1.2h-1.2zM220.88 258.85h1.2v1.2h-1.2zM228.4 259.52h1.2v1.2h-1.2zM232.87 260.18h1.2v1.2h-1.2zM238.49 259.79h1.2v1.2h-1.2zM243.38 260.1h1.2v1.2h-1.2zM250.38 258.13h1.2v1.2h-1.2zM254.05 258.37h1.2v1.2h-1.2zM258.54 259.23h1.2v1.2h-1.2zM263.54 259.5h1.2v1.2h-1.2zM270.08 259.29h1.2v1.2h-1.2zM275.22 260h1.2v1.2h-1.2zM280.15 259.59h1.2v1.2h-1.2zM286.46 259.43h1.2v1.2h-1.2zM290.51 258.7h1.2v1.2h-1.2zM298.7 259.53h1.2v1.2h-1.2zM301.3 258.04h1.2v1.2h-1.2zM307.04 258.07h1.2v1.2h-1.2zM312.93 258.41h1.2v1.2h-1.2zM316.33 259.81h1.2v1.2h-1.2zM320.57 257.85h1.2v1.2h-1.2zM326.47 258.24h1.2v1.2h-1.2zM330.1 259.45h1.2v1.2h-1.2zM334.3 259.9h1.2v1.2h-1.2zM341.05 259.74h1.2v1.2h-1.2zM345.37 258.62h1.2v1.2h-1.2zM350.79 259.9h1.2v1.2h-1.2zM355.29 258.24h1.2v1.2h-1.2zM363.18 258.74h1.2v1.2h-1.2zM366.54 259.83h1.2v1.2h-1.2zM373.37 259.27h1.2v1.2h-1.2zM375.46 258.32h1.2v1.2h-1.2zM382.42 257.9h1.2v1.2h-1.2zM385.75 258.92h1.2v1.2h-1.2zM391.06 258.65h1.2v1.2h-1.2zM395.15 258.6h1.2v1.2h-1.2zM398.36 260.17h1.2v1.2h-1.2zM401.05 259.41h1.2v1.2h-1.2zM405.75 259h1.2v1.2h-1.2zM410.92 259.07h1.2v1.2h-1.2zM418.56 257.88h1.2v1.2h-1.2zM423.08 259.89h1.2v1.2h-1.2zM428.49 259.32h1.2v1.2h-1.2zM432.03 259.71h1.2v1.2h-1.2zM440.12 259.44h1.2v1.2h-1.2zM163.01 263.22h1.2v1.2h-1.2zM167.25 263.32h1.2v1.2h-1.2zM171.09 262.81h1.2v1.2h-1.2zM178.35 263.16h1.2v1.2h-1.2zM180.72 262.56h1.2v1.2h-1.2zM184.94 262.02h1.2v1.2h-1.2zM192 263.07h1.2v1.2h-1.2zM196.76 262.41h1.2v1.2h-1.2zM200.46 262.74h1.2v1.2h-1.2zM206.88 264.25h1.2v1.2h-1.2zM212.52 263.4h1.2v1.2h-1.2zM214.03 263.39h1.2v1.2h-1.2zM221.03 263.86h1.2v1.2h-1.2zM227.34 262.16h1.2v1.2h-1.2zM232.39 262.66h1.2v1.2h-1.2zM234.03 262.39h1.2v1.2h-1.2zM240.38 262.52h1.2v1.2h-1.2zM243.57 263.45h1.2v1.2h-1.2zM251 262.47h1.2v1.2h-1.2zM257.65 263.44h1.2v1.2h-1.2zM260.93 264.1h1.2v1.2h-1.2zM263.43 262.45h1.2v1.2h-1.2zM270.76 263.54h1.2v1.2h-1.2zM275.04 262.78h1.2v1.2h-1.2zM282.1 262.97h1.2v1.2h-1.2zM286.7 262.14h1.2v1.2h-1.2zM290.57 263.5h1.2v1.2h-1.2zM296.42 263.43h1.2v1.2h-1.2zM300.6 262.03h1.2v1.2h-1.2zM307.17 264.37h1.2v1.2h-1.2zM310.99 263.74h1.2v1.2h-1.2zM313.92 262.37h1.2v1.2h-1.2zM319.87 262.22h1.2v1.2h-1.2zM324.78 263.29h1.2v1.2h-1.2zM330.44 263.58h1.2v1.2h-1.2zM335.07 263.78h1.2v1.2h-1.2zM340.48 263.83h1.2v1.2h-1.2zM345.11 263.85h1.2v1.2h-1.2zM351.97 262.67h1.2v1.2h-1.2zM358.5 262.32h1.2v1.2h-1.2zM360.64 263.57h1.2v1.2h-1.2zM366.12 264.37h1.2v1.2h-1.2zM371.48 262.22h1.2v1.2h-1.2zM373.2 262.14h1.2v1.2h-1.2zM379.47 262.44h1.2v1.2h-1.2zM385.22 262.36h1.2v1.2h-1.2zM390.37 264.21h1.2v1.2h-1.2zM392.23 263.87h1.2v1.2h-1.2zM399.32 263.2h1.2v1.2h-1.2zM402.81 263.92h1.2v1.2h-1.2zM407.63 264.17h1.2v1.2h-1.2zM412.68 262.16h1.2v1.2h-1.2zM417.12 264.07h1.2v1.2h-1.2zM421.29 262.98h1.2v1.2h-1.2zM428.69 263.51h1.2v1.2h-1.2zM430.78 262.63h1.2v1.2h-1.2zM435.52 262.49h1.2v1.2h-1.2zM161.32 268.59h1.2v1.2h-1.2zM166.29 266.58h1.2v1.2h-1.2zM173.27 266.84h1.2v1.2h-1.2zM178.89 266.88h1.2v1.2h-1.2zM182.37 268.34h1.2v1.2h-1.2zM186.95 267.63h1.2v1.2h-1.2zM191.5 268.32h1.2v1.2h-1.2zM196.54 267.06h1.2v1.2h-1.2zM202.32 266.64h1.2v1.2h-1.2zM208.81 266.91h1.2v1.2h-1.2zM209.73 268.54h1.2v1.2h-1.2zM215.66 266.56h1.2v1.2h-1.2zM218.92 266.6h1.2v1.2h-1.2zM224.45 267.01h1.2v1.2h-1.2zM232.58 268.32h1.2v1.2h-1.2zM236.97 266.76h1.2v1.2h-1.2zM244.82 266.29h1.2v1.2h-1.2zM248.46 267.23h1.2v1.2h-1.2zM251.64 268.58h1.2v1.2h-1.2zM258.66 266.49h1.2v1.2h-1.2zM261.4 267.23h1.2v1.2h-1.2zM267.08 266.56h1.2v1.2h-1.2zM272.24 266.47h1.2v1.2h-1.2zM276.79 268.4h1.2v1.2h-1.2zM280.5 268.52h1.2v1.2h-1.2zM288.19 266.86h1.2v1.2h-1.2zM290.83 266.37h1.2v1.2h-1.2zM295.19 267.18h1.2v1.2h-1.2zM299.92 266.23h1.2v1.2h-1.2zM306.36 267.51h1.2v1.2h-1.2zM311.61 268.56h1.2v1.2h-1.2zM317.82 267.16h1.2v1.2h-1.2zM321.38 268.54h1.2v1.2h-1.2zM325.94 267.18h1.2v1.2h-1.2zM331.7 266.21h1.2v1.2h-1.2zM336.81 266.81h1.2v1.2h-1.2zM340.5 266.78h1.2v1.2h-1.2zM343.81 268.22h1.2v1.2h-1.2zM352.04 266.32h1.2v1.2h-1.2zM355.87 267.75h1.2v1.2h-1.2zM360.99 268.53h1.2v1.2h-1.2zM365.78 268.25h1.2v1.2h-1.2zM370.35 268.59h1.2v1.2h-1.2zM374.67 267.98h1.2v1.2h-1.2zM379.55 267.14h1.2v1.2h-1.2zM384.33 267.83h1.2v1.2h-1.2zM388.85 267.5h1.2v1.2h-1.2zM392.97 266.84h1.2v1.2h-1.2zM398.78 267.93h1.2v1.2h-1.2zM403.85 266.73h1.2v1.2h-1.2zM409.13 267.47h1.2v1.2h-1.2zM413 268.15h1.2v1.2h-1.2zM416.15 268.17h1.2v1.2h-1.2zM422.44 268.19h1.2v1.2h-1.2zM429.3 266.3h1.2v1.2h-1.2zM433.84 268.16h1.2v1.2h-1.2zM435.67 266.8h1.2v1.2h-1.2zM161.98 271.65h1.2v1.2h-1.2zM164.69 271.35h1.2v1.2h-1.2zM173 271.48h1.2v1.2h-1.2zM178.25 272.22h1.2v1.2h-1.2zM181.84 271.28h1.2v1.2h-1.2zM185.58 271.29h1.2v1.2h-1.2zM190.53 270.44h1.2v1.2h-1.2zM195.2 270.54h1.2v1.2h-1.2zM199.68 271.06h1.2v1.2h-1.2zM202.72 272.4h1.2v1.2h-1.2zM207.68 272.46h1.2v1.2h-1.2zM211.14 272.3h1.2v1.2h-1.2zM216.34 270.51h1.2v1.2h-1.2zM221.16 272.11h1.2v1.2h-1.2zM225.67 271.96h1.2v1.2h-1.2zM231.43 271.32h1.2v1.2h-1.2zM238.39 270.86h1.2v1.2h-1.2zM244.16 271.29h1.2v1.2h-1.2zM248.51 270.57h1.2v1.2h-1.2zM254.43 271.66h1.2v1.2h-1.2zM260.98 272.22h1.2v1.2h-1.2zM263.63 271.51h1.2v1.2h-1.2zM269.26 271.4h1.2v1.2h-1.2zM274.33 271.46h1.2v1.2h-1.2zM278.17 272.38h1.2v1.2h-1.2zM284.37 271.36h1.2v1.2h-1.2zM287.81 271.73h1.2v1.2h-1.2zM293.89 270.68h1.2v1.2h-1.2zM295.97 272.36h1.2v1.2h-1.2zM299.81 272.21h1.2v1.2h-1.2zM304.9 272.03h1.2v1.2h-1.2zM311.82 270.53h1.2v1.2h-1.2zM317.2 271.8h1.2v1.2h-1.2zM324.89 272.49h1.2v1.2h-1.2zM327.38 271.64h1.2v1.2h-1.2zM332.86 271.06h1.2v1.2h-1.2zM335.12 271.01h1.2v1.2h-1.2zM341.92 271.63h1.2v1.2h-1.2zM345.17 271.13h1.2v1.2h-1.2zM353.52 272.46h1.2v1.2h-1.2zM356 270.53h1.2v1.2h-1.2zM361.62 271.51h1.2v1.2h-1.2zM367.22 271.28h1.2v1.2h-1.2zM371.97 272.61h1.2v1.2h-1.2zM376.69 271.15h1.2v1.2h-1.2zM382.87 271.76h1.2v1.2h-1.2zM386.93 272.31h1.2v1.2h-1.2zM392.62 272.33h1.2v1.2h-1.2zM397.12 272.64h1.2v1.2h-1.2zM403.23 270.54h1.2v1.2h-1.2zM407.31 270.52h1.2v1.2h-1.2zM411.7 271.83h1.2v1.2h-1.2zM418.29 271.75h1.2v1.2h-1.2zM422.92 272.02h1.2v1.2h-1.2zM427.84 270.91h1.2v1.2h-1.2zM433.4 272.6h1.2v1.2h-1.2zM437.39 270.63h1.2v1.2h-1.2zM162.6 276.18h1.2v1.2h-1.2zM168.34 276.25h1.2v1.2h-1.2zM169.76 276.27h1.2v1.2h-1.2zM175.72 275.3h1.2v1.2h-1.2zM179.16 275.36h1.2v1.2h-1.2zM183.06 276.79h1.2v1.2h-1.2zM189.59 274.96h1.2v1.2h-1.2zM195.91 275.54h1.2v1.2h-1.2zM197.7 276.14h1.2v1.2h-1.2zM202.37 274.82h1.2v1.2h-1.2zM207.81 275.63h1.2v1.2h-1.2zM211.51 276.59h1.2v1.2h-1.2zM217.8 276.99h1.2v1.2h-1.2zM222.93 275.3h1.2v1.2h-1.2zM228.14 275.79h1.2v1.2h-1.2zM232.46 275.76h1.2v1.2h-1.2zM240.07 275.9h1.2v1.2h-1.2zM242.46 275.25h1.2v1.2h-1.2zM250.76 275.15h1.2v1.2h-1.2zM254.59 276.04h1.2v1.2h-1.2zM261.93 276.87h1.2v1.2h-1.2zM266.52 275.4h1.2v1.2h-1.2zM271.96 276.38h1.2v1.2h-1.2zM277.61 275.32h1.2v1.2h-1.2zM280.64 274.83h1.2v1.2h-1.2zM286.48 276.03h1.2v1.2h-1.2zM289.1 275.83h1.2v1.2h-1.2zM294.73 274.92h1.2v1.2h-1.2zM299.08 275.5h1.2v1.2h-1.2zM304 275.01h1.2v1.2h-1.2zM310.83 276.62h1.2v1.2h-1.2zM317.4 274.96h1.2v1.2h-1.2zM322.38 274.88h1.2v1.2h-1.2zM326.34 274.88h1.2v1.2h-1.2zM330.12 275.89h1.2v1.2h-1.2zM335.75 275.07h1.2v1.2h-1.2zM339.97 274.91h1.2v1.2h-1.2zM346.2 275.8h1.2v1.2h-1.2zM349.8 276.86h1.2v1.2h-1.2zM357.09 275.97h1.2v1.2h-1.2zM360.97 276.4h1.2v1.2h-1.2zM365.04 274.67h1.2v1.2h-1.2zM370.48 275.3h1.2v1.2h-1.2zM375.35 275.99h1.2v1.2h-1.2zM381.09 276.48h1.2v1.2h-1.2zM385.12 275.19h1.2v1.2h-1.2zM393.18 274.7h1.2v1.2h-1.2zM397.66 276.56h1.2v1.2h-1.2zM402.54 275.71h1.2v1.2h-1.2zM406.41 276.86h1.2v1.2h-1.2zM412.33 274.81h1.2v1.2h-1.2zM417.55 276.23h1.2v1.2h-1.2zM420.33 274.94h1.2v1.2h-1.2zM424.05 275.39h1.2v1.2h-1.2zM432.81 276.5h1.2v1.2h-1.2zM436.25 276.47h1.2v1.2h-1.2zM162.66 279.28h1.2v1.2h-1.2zM168.67 280.69h1.2v1.2h-1.2zM172.06 279.64h1.2v1.2h-1.2zM176.79 280.41h1.2v1.2h-1.2zM180.04 280.79h1.2v1.2h-1.2zM188.66 280.59h1.2v1.2h-1.2zM194.35 280.22h1.2v1.2h-1.2zM199.22 280.68h1.2v1.2h-1.2zM203.75 281.11h1.2v1.2h-1.2zM210.79 279.08h1.2v1.2h-1.2zM216.72 279.4h1.2v1.2h-1.2zM221.07 279.28h1.2v1.2h-1.2zM225.96 279.98h1.2v1.2h-1.2zM233.53 280.5h1.2v1.2h-1.2zM238.5 280.7h1.2v1.2h-1.2zM244.52 280.78h1.2v1.2h-1.2zM246.68 280.37h1.2v1.2h-1.2zM253.44 280.23h1.2v1.2h-1.2zM260.81 278.81h1.2v1.2h-1.2zM263.45 279.07h1.2v1.2h-1.2zM270.59 280.25h1.2v1.2h-1.2zM275.22 279.31h1.2v1.2h-1.2zM281.3 280.29h1.2v1.2h-1.2zM283.41 279.45h1.2v1.2h-1.2zM290.08 280.39h1.2v1.2h-1.2zM295.03 280.44h1.2v1.2h-1.2zM300.76 279.24h1.2v1.2h-1.2zM305.48 279.67h1.2v1.2h-1.2zM309.45 280.26h1.2v1.2h-1.2zM314.15 280h1.2v1.2h-1.2zM320.85 281.17h1.2v1.2h-1.2zM325.89 279.19h1.2v1.2h-1.2zM328.48 279.22h1.2v1.2h-1.2zM336.18 280.74h1.2v1.2h-1.2zM340.13 279.04h1.2v1.2h-1.2zM346.81 280.03h1.2v1.2h-1.2zM351.64 280.95h1.2v1.2h-1.2zM354.58 280.3h1.2v1.2h-1.2zM362.06 279.67h1.2v1.2h-1.2zM366.57 279.7h1.2v1.2h-1.2zM371.77 280.98h1.2v1.2h-1.2zM375.82 281.14h1.2v1.2h-1.2zM380.91 280.44h1.2v1.2h-1.2zM384.92 280.6h1.2v1.2h-1.2zM391.94 280.6h1.2v1.2h-1.2zM394.33 279.13h1.2v1.2h-1.2zM402.39 279.15h1.2v1.2h-1.2zM406.71 278.91h1.2v1.2h-1.2zM411.9 280.34h1.2v1.2h-1.2zM416.28 279.5h1.2v1.2h-1.2zM420.39 281.15h1.2v1.2h-1.2zM426.99 280.42h1.2v1.2h-1.2zM432.11 280.5h1.2v1.2h-1.2zM435.62 279.19h1.2v1.2h-1.2zM163.36 283.83h1.2v1.2h-1.2zM166.45 285.11h1.2v1.2h-1.2zM171.1 283.41h1.2v1.2h-1.2zM173.48 283.71h1.2v1.2h-1.2zM180.87 285.31h1.2v1.2h-1.2zM182.96 285.26h1.2v1.2h-1.2zM187.08 284.05h1.2v1.2h-1.2zM190.73 283.95h1.2v1.2h-1.2zM197.49 283.64h1.2v1.2h-1.2zM201.44 284.08h1.2v1.2h-1.2zM206.64 284.87h1.2v1.2h-1.2zM209.63 284.82h1.2v1.2h-1.2zM215.76 284.61h1.2v1.2h-1.2zM220.67 283.87h1.2v1.2h-1.2zM227.68 283.69h1.2v1.2h-1.2zM232.26 284.85h1.2v1.2h-1.2zM237.59 284.36h1.2v1.2h-1.2zM242.49 283.64h1.2v1.2h-1.2zM244.11 284.32h1.2v1.2h-1.2zM251.69 283.99h1.2v1.2h-1.2zM255.92 283.74h1.2v1.2h-1.2zM263.92 284.52h1.2v1.2h-1.2zM268.92 283.95h1.2v1.2h-1.2zM275.14 283.82h1.2v1.2h-1.2zM280.01 283.84h1.2v1.2h-1.2zM284.26 284.28h1.2v1.2h-1.2zM288.72 285.16h1.2v1.2h-1.2zM291.63 283.16h1.2v1.2h-1.2zM296.86 285.04h1.2v1.2h-1.2zM302.59 283.97h1.2v1.2h-1.2zM306.9 285.03h1.2v1.2h-1.2zM314.46 283.36h1.2v1.2h-1.2zM319.72 284.2h1.2v1.2h-1.2zM326.35 284.78h1.2v1.2h-1.2zM331.56 285.11h1.2v1.2h-1.2zM335.62 284.69h1.2v1.2h-1.2zM339.67 283.16h1.2v1.2h-1.2zM346.63 283.66h1.2v1.2h-1.2zM348.97 283.23h1.2v1.2h-1.2zM356.75 284.93h1.2v1.2h-1.2zM360.5 283.17h1.2v1.2h-1.2zM365.39 283.01h1.2v1.2h-1.2zM370.22 283.66h1.2v1.2h-1.2zM374.82 284.33h1.2v1.2h-1.2zM379.52 284.99h1.2v1.2h-1.2zM383.91 284.51h1.2v1.2h-1.2zM388.75 284.36h1.2v1.2h-1.2zM394.29 283.5h1.2v1.2h-1.2zM400.36 284.29h1.2v1.2h-1.2zM403.86 283.07h1.2v1.2h-1.2zM407.81 283.15h1.2v1.2h-1.2zM414.1 284.4h1.2v1.2h-1.2zM418.16 284.41h1.2v1.2h-1.2zM423.41 285.39h1.2v1.2h-1.2zM429.6 283.79h1.2v1.2h-1.2zM433.39 284.15h1.2v1.2h-1.2zM438.44 284.64h1.2v1.2h-1.2zM160.89 287.66h1.2v1.2h-1.2zM165.42 287.67h1.2v1.2h-1.2zM171.83 288.25h1.2v1.2h-1.2zM176.48 287.67h1.2v1.2h-1.2zM180.35 288.88h1.2v1.2h-1.2zM187.33 289.48h1.2v1.2h-1.2zM193.52 288.93h1.2v1.2h-1.2zM195.65 287.23h1.2v1.2h-1.2zM203.29 288.71h1.2v1.2h-1.2zM206.49 287.59h1.2v1.2h-1.2zM213.79 287.93h1.2v1.2h-1.2zM214.97 288.05h1.2v1.2h-1.2zM223.06 288.29h1.2v1.2h-1.2zM224.77 287.57h1.2v1.2h-1.2zM231.7 289.58h1.2v1.2h-1.2zM238.9 288.34h1.2v1.2h-1.2zM242.87 287.46h1.2v1.2h-1.2zM249.2 287.7h1.2v1.2h-1.2zM252 289.38h1.2v1.2h-1.2zM260.4 289.55h1.2v1.2h-1.2zM264.57 288.12h1.2v1.2h-1.2zM270.83 287.52h1.2v1.2h-1.2zM272.49 288.6h1.2v1.2h-1.2zM276.51 289.19h1.2v1.2h-1.2zM283.73 287.3h1.2v1.2h-1.2zM290.11 287.37h1.2v1.2h-1.2zM294.85 289.32h1.2v1.2h-1.2zM299.85 287.69h1.2v1.2h-1.2zM304.88 288.12h1.2v1.2h-1.2zM307.75 287.5h1.2v1.2h-1.2zM311.44 288.61h1.2v1.2h-1.2zM317.6 288.26h1.2v1.2h-1.2zM321.36 287.33h1.2v1.2h-1.2zM325.3 288.81h1.2v1.2h-1.2zM330.46 288.76h1.2v1.2h-1.2zM336.73 287.54h1.2v1.2h-1.2zM343.34 287.35h1.2v1.2h-1.2zM348.72 287.75h1.2v1.2h-1.2zM352.8 289.18h1.2v1.2h-1.2zM358.06 287.29h1.2v1.2h-1.2zM362.55 289.13h1.2v1.2h-1.2zM363.38 287.78h1.2v1.2h-1.2zM370.18 288.81h1.2v1.2h-1.2zM377.73 289.41h1.2v1.2h-1.2zM380.56 287.24h1.2v1.2h-1.2zM386.19 289.54h1.2v1.2h-1.2zM392.07 289.14h1.2v1.2h-1.2zM397.03 287.45h1.2v1.2h-1.2zM404.02 289.4h1.2v1.2h-1.2zM407.42 288.53h1.2v1.2h-1.2zM412.33 288.69h1.2v1.2h-1.2zM418.51 287.39h1.2v1.2h-1.2zM421.41 287.9h1.2v1.2h-1.2zM424.49 288.99h1.2v1.2h-1.2zM430.52 289.15h1.2v1.2h-1.2zM433.28 288.76h1.2v1.2h-1.2zM438.32 287.46h1.2v1.2h-1.2zM161.2 291.63h1.2v1.2h-1.2zM168.38 293.44h1.2v1.2h-1.2zM170.74 292.13h1.2v1.2h-1.2zM175.86 292.86h1.2v1.2h-1.2zM184.16 291.42h1.2v1.2h-1.2zM185.92 293.06h1.2v1.2h-1.2zM192.44 292.49h1.2v1.2h-1.2zM197.43 292.96h1.2v1.2h-1.2zM204.05 293.31h1.2v1.2h-1.2zM210.6 293.12h1.2v1.2h-1.2zM213.72 293.44h1.2v1.2h-1.2zM219.11 291.83h1.2v1.2h-1.2zM224.13 293.1h1.2v1.2h-1.2zM227.96 292.24h1.2v1.2h-1.2zM231.82 292.46h1.2v1.2h-1.2zM239.94 293.64h1.2v1.2h-1.2zM246.27 293.79h1.2v1.2h-1.2zM250.34 292h1.2v1.2h-1.2zM254.32 291.95h1.2v1.2h-1.2zM263.18 292.19h1.2v1.2h-1.2zM268.55 293.54h1.2v1.2h-1.2zM273.71 291.65h1.2v1.2h-1.2zM279.03 292.9h1.2v1.2h-1.2zM284.3 293.72h1.2v1.2h-1.2zM288.26 292.96h1.2v1.2h-1.2zM294.6 292.38h1.2v1.2h-1.2zM300.1 293.72h1.2v1.2h-1.2zM302.43 292.09h1.2v1.2h-1.2zM308.06 292.02h1.2v1.2h-1.2zM316.63 291.82h1.2v1.2h-1.2zM320.54 293.06h1.2v1.2h-1.2zM326.47 292h1.2v1.2h-1.2zM328.57 293.06h1.2v1.2h-1.2zM333.39 293.71h1.2v1.2h-1.2zM339.82 292.97h1.2v1.2h-1.2zM345.42 292.13h1.2v1.2h-1.2zM347.23 291.43h1.2v1.2h-1.2zM352.04 291.67h1.2v1.2h-1.2zM359.5 293.05h1.2v1.2h-1.2zM363.22 291.83h1.2v1.2h-1.2zM365.63 292.38h1.2v1.2h-1.2zM371.62 293.15h1.2v1.2h-1.2zM376.87 292.22h1.2v1.2h-1.2zM380.16 293.39h1.2v1.2h-1.2zM386.81 293.33h1.2v1.2h-1.2zM390.59 291.42h1.2v1.2h-1.2zM396.54 291.78h1.2v1.2h-1.2zM401.07 292.99h1.2v1.2h-1.2zM403.78 291.63h1.2v1.2h-1.2zM410.94 292.97h1.2v1.2h-1.2zM415.67 291.56h1.2v1.2h-1.2zM421.11 291.71h1.2v1.2h-1.2zM426.03 293.13h1.2v1.2h-1.2zM431.22 292h1.2v1.2h-1.2zM435.02 291.67h1.2v1.2h-1.2zM440.08 292.08h1.2v1.2h-1.2zM161.47 296.07h1.2v1.2h-1.2zM166.1 296.48h1.2v1.2h-1.2zM171.79 297.69h1.2v1.2h-1.2zM176.02 297.61h1.2v1.2h-1.2zM178.32 296.65h1.2v1.2h-1.2zM183.46 297.31h1.2v1.2h-1.2zM186.21 296.75h1.2v1.2h-1.2zM190.57 296.66h1.2v1.2h-1.2zM193.94 296.47h1.2v1.2h-1.2zM201.45 296.93h1.2v1.2h-1.2zM203.03 297.39h1.2v1.2h-1.2zM210.16 297.91h1.2v1.2h-1.2zM213.95 297.86h1.2v1.2h-1.2zM219.42 296.01h1.2v1.2h-1.2zM225.43 295.8h1.2v1.2h-1.2zM231.86 296.71h1.2v1.2h-1.2zM235 296.69h1.2v1.2h-1.2zM239.85 297.19h1.2v1.2h-1.2zM244.18 297.96h1.2v1.2h-1.2zM249.3 295.63h1.2v1.2h-1.2zM255.76 295.66h1.2v1.2h-1.2zM261.35 296.89h1.2v1.2h-1.2zM264.83 297.05h1.2v1.2h-1.2zM269.22 297.53h1.2v1.2h-1.2zM277.35 297.66h1.2v1.2h-1.2zM282.44 296.04h1.2v1.2h-1.2zM285.7 297.76h1.2v1.2h-1.2zM288.3 295.69h1.2v1.2h-1.2zM292.89 296.06h1.2v1.2h-1.2zM299.97 297.85h1.2v1.2h-1.2zM304.96 295.63h1.2v1.2h-1.2zM309.97 296.74h1.2v1.2h-1.2zM317.15 296.78h1.2v1.2h-1.2zM322.64 296.12h1.2v1.2h-1.2zM327.39 298h1.2v1.2h-1.2zM332.33 297.91h1.2v1.2h-1.2zM337.34 296.42h1.2v1.2h-1.2zM341.69 296.5h1.2v1.2h-1.2zM348.09 295.6h1.2v1.2h-1.2zM351.7 296.69h1.2v1.2h-1.2zM358.25 295.93h1.2v1.2h-1.2zM360.7 297.9h1.2v1.2h-1.2zM364.7 296.85h1.2v1.2h-1.2zM372.19 295.74h1.2v1.2h-1.2zM374.23 297.01h1.2v1.2h-1.2zM379.82 297.73h1.2v1.2h-1.2zM386.66 297.9h1.2v1.2h-1.2zM391.21 296.58h1.2v1.2h-1.2zM394.78 295.85h1.2v1.2h-1.2zM396.46 296.29h1.2v1.2h-1.2zM404.6 296.61h1.2v1.2h-1.2zM409.62 297.54h1.2v1.2h-1.2zM414.08 295.88h1.2v1.2h-1.2zM418.74 297.01h1.2v1.2h-1.2zM425.37 297.91h1.2v1.2h-1.2zM426.98 297.75h1.2v1.2h-1.2zM432.51 297.26h1.2v1.2h-1.2zM436.94 296.48h1.2v1.2h-1.2zM160.75 301.58h1.2v1.2h-1.2zM167.32 301.41h1.2v1.2h-1.2zM171.83 300.94h1.2v1.2h-1.2zM179.46 301.35h1.2v1.2h-1.2zM184.25 301.69h1.2v1.2h-1.2zM186.87 302.1h1.2v1.2h-1.2zM190.93 302.11h1.2v1.2h-1.2zM196.6 301.56h1.2v1.2h-1.2zM202.47 301.64h1.2v1.2h-1.2zM205.03 300.32h1.2v1.2h-1.2zM208.77 300.13h1.2v1.2h-1.2zM214.64 299.99h1.2v1.2h-1.2zM221.45 301.18h1.2v1.2h-1.2zM225.3 300.85h1.2v1.2h-1.2zM228.66 299.84h1.2v1.2h-1.2zM233.23 300.69h1.2v1.2h-1.2zM241.43 301.81h1.2v1.2h-1.2zM246.46 301.49h1.2v1.2h-1.2zM251.55 301.64h1.2v1.2h-1.2zM256.13 301.77h1.2v1.2h-1.2zM263.21 301.9h1.2v1.2h-1.2zM266.53 299.84h1.2v1.2h-1.2zM273.21 300.45h1.2v1.2h-1.2zM274.76 300.22h1.2v1.2h-1.2zM280.34 300.35h1.2v1.2h-1.2zM286.76 302.17h1.2v1.2h-1.2zM288.53 302.04h1.2v1.2h-1.2zM295.04 300.6h1.2v1.2h-1.2zM300.62 300.8h1.2v1.2h-1.2zM305.37 299.93h1.2v1.2h-1.2zM308.84 300.02h1.2v1.2h-1.2zM315.81 300.43h1.2v1.2h-1.2zM321.78 300.62h1.2v1.2h-1.2zM325.14 302.03h1.2v1.2h-1.2zM329.91 300.17h1.2v1.2h-1.2zM336.49 301.52h1.2v1.2h-1.2zM341.91 301.72h1.2v1.2h-1.2zM345.06 300.26h1.2v1.2h-1.2zM351.34 301.7h1.2v1.2h-1.2zM353.4 301.39h1.2v1.2h-1.2zM358.73 300.26h1.2v1.2h-1.2zM363.89 301.32h1.2v1.2h-1.2zM368.56 300.82h1.2v1.2h-1.2zM375.06 299.87h1.2v1.2h-1.2zM379.22 300.5h1.2v1.2h-1.2zM386.05 301.28h1.2v1.2h-1.2zM390.8 300.55h1.2v1.2h-1.2zM396.45 300.18h1.2v1.2h-1.2zM402.16 301.78h1.2v1.2h-1.2zM408.37 301.71h1.2v1.2h-1.2zM410.87 301.53h1.2v1.2h-1.2zM415.42 300.01h1.2v1.2h-1.2zM418.78 300.16h1.2v1.2h-1.2zM426.17 300.91h1.2v1.2h-1.2zM427.99 301.02h1.2v1.2h-1.2zM433.78 301.52h1.2v1.2h-1.2zM440.11 300.05h1.2v1.2h-1.2zM161.11 304.61h1.2v1.2h-1.2zM165.83 304.76h1.2v1.2h-1.2zM172.23 305.85h1.2v1.2h-1.2zM176.05 306.23h1.2v1.2h-1.2zM182.87 304.25h1.2v1.2h-1.2zM187.79 304.67h1.2v1.2h-1.2zM192.44 306.18h1.2v1.2h-1.2zM194.78 305.49h1.2v1.2h-1.2zM197.99 305.8h1.2v1.2h-1.2zM204.9 304.21h1.2v1.2h-1.2zM208.56 306.31h1.2v1.2h-1.2zM212.79 305.84h1.2v1.2h-1.2zM216.15 304.17h1.2v1.2h-1.2zM221.42 306h1.2v1.2h-1.2zM224.35 305.84h1.2v1.2h-1.2zM229.62 304.3h1.2v1.2h-1.2zM235.75 304.28h1.2v1.2h-1.2zM239.34 306.14h1.2v1.2h-1.2zM244.75 306.3h1.2v1.2h-1.2zM249.51 305.12h1.2v1.2h-1.2zM256.49 304.31h1.2v1.2h-1.2zM261.25 304.26h1.2v1.2h-1.2zM265.33 304.6h1.2v1.2h-1.2zM269.98 306.38h1.2v1.2h-1.2zM275.09 304.77h1.2v1.2h-1.2zM278.77 304.82h1.2v1.2h-1.2zM281.86 305.97h1.2v1.2h-1.2zM288.42 304.02h1.2v1.2h-1.2zM294.3 306.16h1.2v1.2h-1.2zM299.82 306.04h1.2v1.2h-1.2zM305.59 304.88h1.2v1.2h-1.2zM310.48 304.91h1.2v1.2h-1.2zM313.93 306.18h1.2v1.2h-1.2zM319.89 306.13h1.2v1.2h-1.2zM324.48 306.21h1.2v1.2h-1.2zM332.63 305.75h1.2v1.2h-1.2zM337.86 304.61h1.2v1.2h-1.2zM342.04 306.02h1.2v1.2h-1.2zM346.41 304.81h1.2v1.2h-1.2zM351.79 306.03h1.2v1.2h-1.2zM359.44 304.33h1.2v1.2h-1.2zM365.35 305.62h1.2v1.2h-1.2zM368.72 306.09h1.2v1.2h-1.2zM375.08 304.81h1.2v1.2h-1.2zM381.91 306.09h1.2v1.2h-1.2zM384.73 304.6h1.2v1.2h-1.2zM388.49 304.06h1.2v1.2h-1.2zM394.08 304.17h1.2v1.2h-1.2zM399.32 304.48h1.2v1.2h-1.2zM403.19 305.93h1.2v1.2h-1.2zM409.28 305.52h1.2v1.2h-1.2zM415.94 306.16h1.2v1.2h-1.2zM421.17 306.1h1.2v1.2h-1.2zM425.77 305.41h1.2v1.2h-1.2zM433 305.16h1.2v1.2h-1.2zM438.83 305.6h1.2v1.2h-1.2zM160.68 310.5h1.2v1.2h-1.2zM165.55 310.39h1.2v1.2h-1.2zM170.55 309.24h1.2v1.2h-1.2zM175.72 308.42h1.2v1.2h-1.2zM181.96 310.09h1.2v1.2h-1.2zM184.74 309.99h1.2v1.2h-1.2zM190.63 310.32h1.2v1.2h-1.2zM197.76 309.11h1.2v1.2h-1.2zM204.87 308.68h1.2v1.2h-1.2zM207.48 309.96h1.2v1.2h-1.2zM212.19 309.4h1.2v1.2h-1.2zM216.49 310.5h1.2v1.2h-1.2zM224.24 310.11h1.2v1.2h-1.2zM229.34 309.52h1.2v1.2h-1.2zM234.99 309.07h1.2v1.2h-1.2zM239.28 308.26h1.2v1.2h-1.2zM246.36 310.36h1.2v1.2h-1.2zM251.56 310.44h1.2v1.2h-1.2zM255.64 309.71h1.2v1.2h-1.2zM262.39 309.65h1.2v1.2h-1.2zM266.22 309.21h1.2v1.2h-1.2zM271.84 308.42h1.2v1.2h-1.2zM274.97 309.92h1.2v1.2h-1.2zM280.41 308.81h1.2v1.2h-1.2zM285.27 309.65h1.2v1.2h-1.2zM291.57 309.61h1.2v1.2h-1.2zM298.87 309.91h1.2v1.2h-1.2zM303.07 310.21h1.2v1.2h-1.2zM308.69 310.47h1.2v1.2h-1.2zM313.62 308.37h1.2v1.2h-1.2zM321.28 308.54h1.2v1.2h-1.2zM326.04 310.59h1.2v1.2h-1.2zM330.94 308.79h1.2v1.2h-1.2zM333.22 309.18h1.2v1.2h-1.2zM339 308.59h1.2v1.2h-1.2zM342.5 308.66h1.2v1.2h-1.2zM348.2 308.64h1.2v1.2h-1.2zM352.95 310.54h1.2v1.2h-1.2zM359.42 309.33h1.2v1.2h-1.2zM362.46 308.55h1.2v1.2h-1.2zM364.91 309.88h1.2v1.2h-1.2zM372.3 309.05h1.2v1.2h-1.2zM376.92 309.86h1.2v1.2h-1.2zM381 310.27h1.2v1.2h-1.2zM385.78 310.24h1.2v1.2h-1.2zM392.51 309.71h1.2v1.2h-1.2zM398.91 309.24h1.2v1.2h-1.2zM403.76 309.79h1.2v1.2h-1.2zM410.65 308.55h1.2v1.2h-1.2zM414.96 310.1h1.2v1.2h-1.2zM419.7 309.02h1.2v1.2h-1.2zM425.66 309.17h1.2v1.2h-1.2zM428.4 310.35h1.2v1.2h-1.2zM434.04 308.98h1.2v1.2h-1.2zM161.08 314.55h1.2v1.2h-1.2zM166.13 314.63h1.2v1.2h-1.2zM171.38 313.2h1.2v1.2h-1.2zM176.44 314.29h1.2v1.2h-1.2zM180.01 313.33h1.2v1.2h-1.2zM186.22 313.69h1.2v1.2h-1.2zM188.81 314.37h1.2v1.2h-1.2zM193.86 312.45h1.2v1.2h-1.2zM196.05 314.33h1.2v1.2h-1.2zM200.5 312.54h1.2v1.2h-1.2zM206.31 314.13h1.2v1.2h-1.2zM213.18 313.72h1.2v1.2h-1.2zM216.87 314.62h1.2v1.2h-1.2zM221.98 314.2h1.2v1.2h-1.2zM228.64 312.62h1.2v1.2h-1.2zM235.86 313.83h1.2v1.2h-1.2zM240.14 312.53h1.2v1.2h-1.2zM243.97 314.1h1.2v1.2h-1.2zM249.63 312.79h1.2v1.2h-1.2zM255.16 314.01h1.2v1.2h-1.2zM260.83 314.75h1.2v1.2h-1.2zM265.72 313.01h1.2v1.2h-1.2zM271.67 314.79h1.2v1.2h-1.2zM274.89 312.83h1.2v1.2h-1.2zM279.37 314.17h1.2v1.2h-1.2zM283.59 314.03h1.2v1.2h-1.2zM286.92 314.3h1.2v1.2h-1.2zM292.18 314.52h1.2v1.2h-1.2zM297.14 313.35h1.2v1.2h-1.2zM305.04 314.6h1.2v1.2h-1.2zM308.07 312.82h1.2v1.2h-1.2zM314.36 312.41h1.2v1.2h-1.2zM320.55 313.64h1.2v1.2h-1.2zM324.11 313.39h1.2v1.2h-1.2zM328.93 314.15h1.2v1.2h-1.2zM334.83 314.69h1.2v1.2h-1.2zM340.08 313.16h1.2v1.2h-1.2zM343.67 314.57h1.2v1.2h-1.2zM351.1 314.37h1.2v1.2h-1.2zM357.28 313.16h1.2v1.2h-1.2zM361.77 313.87h1.2v1.2h-1.2zM367.53 313.57h1.2v1.2h-1.2zM372.05 312.6h1.2v1.2h-1.2zM377.85 312.76h1.2v1.2h-1.2zM383.08 314.58h1.2v1.2h-1.2zM387.9 314.64h1.2v1.2h-1.2zM392.71 312.65h1.2v1.2h-1.2zM395.05 314.49h1.2v1.2h-1.2zM401.72 313.02h1.2v1.2h-1.2zM407.17 312.63h1.2v1.2h-1.2zM412.37 312.91h1.2v1.2h-1.2zM416.51 313.29h1.2v1.2h-1.2zM424.76 314.79h1.2v1.2h-1.2zM428.43 314.34h1.2v1.2h-1.2zM433.86 314.47h1.2v1.2h-1.2zM440.04 313.53h1.2v1.2h-1.2zM161.18 318.23h1.2v1.2h-1.2zM167.37 317.9h1.2v1.2h-1.2zM170.52 318.13h1.2v1.2h-1.2zM175.51 318.56h1.2v1.2h-1.2zM179.79 316.81h1.2v1.2h-1.2zM187.09 316.68h1.2v1.2h-1.2zM190.71 318.32h1.2v1.2h-1.2zM196.02 318.84h1.2v1.2h-1.2zM199.46 318.56h1.2v1.2h-1.2zM203.47 317.8h1.2v1.2h-1.2zM207.91 318.83h1.2v1.2h-1.2zM214.7 317.2h1.2v1.2h-1.2zM219.24 318.78h1.2v1.2h-1.2zM226.83 318.45h1.2v1.2h-1.2zM230.91 318.65h1.2v1.2h-1.2zM234.44 318.79h1.2v1.2h-1.2zM242.1 318.39h1.2v1.2h-1.2zM245.64 318.58h1.2v1.2h-1.2zM253.41 316.99h1.2v1.2h-1.2zM257.85 317.57h1.2v1.2h-1.2zM260.61 317.73h1.2v1.2h-1.2zM265.98 317.48h1.2v1.2h-1.2zM272.62 318.01h1.2v1.2h-1.2zM276.98 317.48h1.2v1.2h-1.2zM283.65 316.94h1.2v1.2h-1.2zM288.85 317.52h1.2v1.2h-1.2zM292.03 316.67h1.2v1.2h-1.2zM295.58 317.28h1.2v1.2h-1.2zM302.28 318.88h1.2v1.2h-1.2zM307.24 318.88h1.2v1.2h-1.2zM313.18 318.67h1.2v1.2h-1.2zM318.14 318.05h1.2v1.2h-1.2zM324.37 317.19h1.2v1.2h-1.2zM328.07 316.62h1.2v1.2h-1.2zM333.66 317.82h1.2v1.2h-1.2zM339.4 318.21h1.2v1.2h-1.2zM345.23 318.98h1.2v1.2h-1.2zM350.12 316.6h1.2v1.2h-1.2zM352.91 318.93h1.2v1.2h-1.2zM357.77 316.62h1.2v1.2h-1.2zM363.52 318.01h1.2v1.2h-1.2zM366.83 317.09h1.2v1.2h-1.2zM373.32 316.84h1.2v1.2h-1.2zM377.92 318.71h1.2v1.2h-1.2zM383.14 318.92h1.2v1.2h-1.2zM388.98 316.76h1.2v1.2h-1.2zM395.82 316.87h1.2v1.2h-1.2zM399.43 316.96h1.2v1.2h-1.2zM405.19 318.89h1.2v1.2h-1.2zM412.67 318.1h1.2v1.2h-1.2zM415.63 318.34h1.2v1.2h-1.2zM421.38 318.76h1.2v1.2h-1.2zM424.99 316.98h1.2v1.2h-1.2zM430.28 318.52h1.2v1.2h-1.2zM434 317.98h1.2v1.2h-1.2zM438.92 317.9h1.2v1.2h-1.2zM159.94 321.37h1.2v1.2h-1.2zM165.17 322.78h1.2v1.2h-1.2zM168.95 321.95h1.2v1.2h-1.2zM174.34 322.64h1.2v1.2h-1.2zM179.51 322.8h1.2v1.2h-1.2zM183.87 323.02h1.2v1.2h-1.2zM188.21 320.97h1.2v1.2h-1.2zM192.41 321.01h1.2v1.2h-1.2zM198.13 321.54h1.2v1.2h-1.2zM204.71 321.39h1.2v1.2h-1.2zM206.78 321.58h1.2v1.2h-1.2zM214.21 321.83h1.2v1.2h-1.2zM216.23 321.09h1.2v1.2h-1.2zM224.08 321.18h1.2v1.2h-1.2zM227.68 322.02h1.2v1.2h-1.2zM232.32 322.58h1.2v1.2h-1.2zM239.2 321.2h1.2v1.2h-1.2zM244.47 322.39h1.2v1.2h-1.2zM249.66 320.81h1.2v1.2h-1.2zM252.31 321.28h1.2v1.2h-1.2zM256.94 323.19h1.2v1.2h-1.2zM260.18 322.41h1.2v1.2h-1.2zM264.75 322.45h1.2v1.2h-1.2zM268.81 320.97h1.2v1.2h-1.2zM276.44 323.01h1.2v1.2h-1.2zM278.78 321.97h1.2v1.2h-1.2zM283.36 321.99h1.2v1.2h-1.2zM288.16 323.04h1.2v1.2h-1.2zM294.65 321.14h1.2v1.2h-1.2zM298.56 322.45h1.2v1.2h-1.2zM305.5 323.14h1.2v1.2h-1.2zM309.55 322.72h1.2v1.2h-1.2zM312.21 320.93h1.2v1.2h-1.2zM318.66 321.64h1.2v1.2h-1.2zM323.18 322.51h1.2v1.2h-1.2zM329.34 321.85h1.2v1.2h-1.2zM330.19 322.54h1.2v1.2h-1.2zM337.92 321.17h1.2v1.2h-1.2zM344.28 321.08h1.2v1.2h-1.2zM348.79 320.81h1.2v1.2h-1.2zM351.46 322.9h1.2v1.2h-1.2zM357.84 322.98h1.2v1.2h-1.2zM365.34 322.21h1.2v1.2h-1.2zM371.09 323.07h1.2v1.2h-1.2zM374.94 322.04h1.2v1.2h-1.2zM380.31 321.7h1.2v1.2h-1.2zM386.1 321.33h1.2v1.2h-1.2zM390.17 322.01h1.2v1.2h-1.2zM395.41 321.25h1.2v1.2h-1.2zM399.34 322.65h1.2v1.2h-1.2zM406.47 322.04h1.2v1.2h-1.2zM411.15 322.03h1.2v1.2h-1.2zM413.87 321.76h1.2v1.2h-1.2zM421.08 321.96h1.2v1.2h-1.2zM424.96 321.88h1.2v1.2h-1.2zM429.81 321.66h1.2v1.2h-1.2zM436.86 321.3h1.2v1.2h-1.2zM162.82 326.62h1.2v1.2h-1.2zM168.34 325.65h1.2v1.2h-1.2zM171.02 325.08h1.2v1.2h-1.2zM177.9 326.61h1.2v1.2h-1.2zM185.14 325.55h1.2v1.2h-1.2zM187.56 326.91h1.2v1.2h-1.2zM194.41 325.89h1.2v1.2h-1.2zM198.72 326.71h1.2v1.2h-1.2zM205.99 327.08h1.2v1.2h-1.2zM209.53 325.75h1.2v1.2h-1.2zM215.24 325.38h1.2v1.2h-1.2zM221.79 327.05h1.2v1.2h-1.2zM226.08 327.14h1.2v1.2h-1.2zM228.88 326.85h1.2v1.2h-1.2zM233.29 327.17h1.2v1.2h-1.2zM238.94 326.43h1.2v1.2h-1.2zM242.07 325.94h1.2v1.2h-1.2zM246.68 325.89h1.2v1.2h-1.2zM253.43 326.63h1.2v1.2h-1.2zM258.37 325.05h1.2v1.2h-1.2zM265.16 325.71h1.2v1.2h-1.2zM270 327.18h1.2v1.2h-1.2zM273.39 326.38h1.2v1.2h-1.2zM276.21 325.78h1.2v1.2h-1.2zM283.34 326.22h1.2v1.2h-1.2zM286.04 325.75h1.2v1.2h-1.2zM291.24 327.17h1.2v1.2h-1.2zM296.95 325.58h1.2v1.2h-1.2zM300.8 326.41h1.2v1.2h-1.2zM304.81 326.91h1.2v1.2h-1.2zM311.44 326.86h1.2v1.2h-1.2zM318.53 325.13h1.2v1.2h-1.2zM320.89 326.5h1.2v1.2h-1.2zM328.57 326.32h1.2v1.2h-1.2zM333.1 325.25h1.2v1.2h-1.2zM337.24 326.06h1.2v1.2h-1.2zM341.73 326.11h1.2v1.2h-1.2zM345.6 325.22h1.2v1.2h-1.2zM350.48 326.04h1.2v1.2h-1.2zM355.26 326.68h1.2v1.2h-1.2zM362.39 325.41h1.2v1.2h-1.2zM365.96 325.89h1.2v1.2h-1.2zM371.19 327.11h1.2v1.2h-1.2zM376.14 326.48h1.2v1.2h-1.2zM381.17 325.2h1.2v1.2h-1.2zM387.8 325.27h1.2v1.2h-1.2zM393.75 325.79h1.2v1.2h-1.2zM399.18 325.81h1.2v1.2h-1.2zM404.26 325.87h1.2v1.2h-1.2zM406.59 326.59h1.2v1.2h-1.2zM412.93 325.97h1.2v1.2h-1.2zM418.16 326.1h1.2v1.2h-1.2zM422.91 326.76h1.2v1.2h-1.2zM426.03 327.31h1.2v1.2h-1.2zM432.95 326.19h1.2v1.2h-1.2zM436.43 325.42h1.2v1.2h-1.2zM161.36 330.75h1.2v1.2h-1.2zM166.33 329.61h1.2v1.2h-1.2zM170.46 330.52h1.2v1.2h-1.2zM174.87 330.68h1.2v1.2h-1.2zM178.25 330.83h1.2v1.2h-1.2zM184.31 331.07h1.2v1.2h-1.2zM188.34 330.26h1.2v1.2h-1.2zM195.37 331.01h1.2v1.2h-1.2zM199.61 331.53h1.2v1.2h-1.2zM206.19 329.46h1.2v1.2h-1.2zM209.66 331.44h1.2v1.2h-1.2zM218.16 329.84h1.2v1.2h-1.2zM222.55 331.19h1.2v1.2h-1.2zM227.13 331.34h1.2v1.2h-1.2zM234.39 330.85h1.2v1.2h-1.2zM239.58 329.69h1.2v1.2h-1.2zM244.21 329.26h1.2v1.2h-1.2zM247.9 329.37h1.2v1.2h-1.2zM253.44 329.58h1.2v1.2h-1.2zM258.29 331.41h1.2v1.2h-1.2zM266.28 331.58h1.2v1.2h-1.2zM270.88 329.87h1.2v1.2h-1.2zM277.2 330.96h1.2v1.2h-1.2zM279.23 331.42h1.2v1.2h-1.2zM285.94 331.27h1.2v1.2h-1.2zM290.14 330.31h1.2v1.2h-1.2zM295.26 329.67h1.2v1.2h-1.2zM301.11 330.99h1.2v1.2h-1.2zM307 330.87h1.2v1.2h-1.2zM311.62 329.72h1.2v1.2h-1.2zM318.41 330.42h1.2v1.2h-1.2zM322.39 331.01h1.2v1.2h-1.2zM330.68 330.06h1.2v1.2h-1.2zM333.22 330.96h1.2v1.2h-1.2zM338.87 330.46h1.2v1.2h-1.2zM344.37 330.33h1.2v1.2h-1.2zM349 329.67h1.2v1.2h-1.2zM353.36 331.15h1.2v1.2h-1.2zM356.91 330.73h1.2v1.2h-1.2zM362.16 330.59h1.2v1.2h-1.2zM366.5 329.2h1.2v1.2h-1.2zM371.84 331.19h1.2v1.2h-1.2zM378.04 330.7h1.2v1.2h-1.2zM382.45 329.9h1.2v1.2h-1.2zM388.56 330.83h1.2v1.2h-1.2zM393.46 330.82h1.2v1.2h-1.2zM399.07 329.44h1.2v1.2h-1.2zM404.77 329.56h1.2v1.2h-1.2zM410.01 330.13h1.2v1.2h-1.2zM411.9 330.59h1.2v1.2h-1.2zM416.85 330.49h1.2v1.2h-1.2zM421.75 331.21h1.2v1.2h-1.2zM426.58 329.68h1.2v1.2h-1.2zM429.71 330.57h1.2v1.2h-1.2zM433.17 331.07h1.2v1.2h-1.2zM439.12 329.75h1.2v1.2h-1.2zM161.56 334.55h1.2v1.2h-1.2zM166.07 335.06h1.2v1.2h-1.2zM169.75 335.16h1.2v1.2h-1.2zM174.42 335.49h1.2v1.2h-1.2zM176.3 333.6h1.2v1.2h-1.2zM180.07 334.57h1.2v1.2h-1.2zM184.96 334.51h1.2v1.2h-1.2zM191.04 335.13h1.2v1.2h-1.2zM193.19 333.42h1.2v1.2h-1.2zM197.33 335.07h1.2v1.2h-1.2zM205.84 333.9h1.2v1.2h-1.2zM208.73 334.39h1.2v1.2h-1.2zM213.93 334.15h1.2v1.2h-1.2zM219.32 334.63h1.2v1.2h-1.2zM222.6 335.24h1.2v1.2h-1.2zM228.71 333.83h1.2v1.2h-1.2zM234.68 334.38h1.2v1.2h-1.2zM239.17 334.51h1.2v1.2h-1.2zM243.45 334.74h1.2v1.2h-1.2zM249.05 334.29h1.2v1.2h-1.2zM257.88 333.43h1.2v1.2h-1.2zM262.23 335.42h1.2v1.2h-1.2zM265.63 334.12h1.2v1.2h-1.2zM273.06 333.89h1.2v1.2h-1.2zM278.28 334.98h1.2v1.2h-1.2zM281.2 334.18h1.2v1.2h-1.2zM286.17 333.71h1.2v1.2h-1.2zM291.53 335.3h1.2v1.2h-1.2zM296.73 335.34h1.2v1.2h-1.2zM301.13 333.56h1.2v1.2h-1.2zM305.32 335.14h1.2v1.2h-1.2zM310.39 334.35h1.2v1.2h-1.2zM316.1 333.69h1.2v1.2h-1.2zM320.83 335.72h1.2v1.2h-1.2zM325.88 333.95h1.2v1.2h-1.2zM331.95 334.95h1.2v1.2h-1.2zM338.16 335.21h1.2v1.2h-1.2zM341.64 333.5h1.2v1.2h-1.2zM348.78 333.89h1.2v1.2h-1.2zM353.27 334.06h1.2v1.2h-1.2zM356.5 334.42h1.2v1.2h-1.2zM363.95 333.97h1.2v1.2h-1.2zM367.69 333.48h1.2v1.2h-1.2zM374.02 334.13h1.2v1.2h-1.2zM378.66 333.55h1.2v1.2h-1.2zM383.13 334.12h1.2v1.2h-1.2zM388.51 334.3h1.2v1.2h-1.2zM393.75 333.44h1.2v1.2h-1.2zM396.95 333.6h1.2v1.2h-1.2zM400.64 334.64h1.2v1.2h-1.2zM406.43 334.4h1.2v1.2h-1.2zM408.94 335.42h1.2v1.2h-1.2zM414.09 333.63h1.2v1.2h-1.2zM419.42 334.83h1.2v1.2h-1.2zM424.59 333.55h1.2v1.2h-1.2zM431.63 335.13h1.2v1.2h-1.2zM435.69 333.85h1.2v1.2h-1.2zM161.1 338.32h1.2v1.2h-1.2zM165.6 337.81h1.2v1.2h-1.2zM171.06 338.15h1.2v1.2h-1.2zM174.94 338.81h1.2v1.2h-1.2zM180.2 338.59h1.2v1.2h-1.2zM186.08 339.95h1.2v1.2h-1.2zM194.4 339.86h1.2v1.2h-1.2zM198.15 339.07h1.2v1.2h-1.2zM202.81 339.15h1.2v1.2h-1.2zM207.42 337.79h1.2v1.2h-1.2zM212.36 338.22h1.2v1.2h-1.2zM217.76 338.71h1.2v1.2h-1.2zM223.11 339.19h1.2v1.2h-1.2zM228.06 339.16h1.2v1.2h-1.2zM232.33 338.06h1.2v1.2h-1.2zM239.75 338.62h1.2v1.2h-1.2zM245.29 339.38h1.2v1.2h-1.2zM249.86 338.97h1.2v1.2h-1.2zM254.26 339.88h1.2v1.2h-1.2zM262.43 339.98h1.2v1.2h-1.2zM267.51 338.18h1.2v1.2h-1.2zM272.86 339.85h1.2v1.2h-1.2zM279.36 338.24h1.2v1.2h-1.2zM284.01 338.35h1.2v1.2h-1.2zM289.58 339.62h1.2v1.2h-1.2zM295.23 338.01h1.2v1.2h-1.2zM298.89 338.11h1.2v1.2h-1.2zM302.01 337.97h1.2v1.2h-1.2zM308.02 339.63h1.2v1.2h-1.2zM314.38 338.33h1.2v1.2h-1.2zM317.32 337.63h1.2v1.2h-1.2zM322.09 337.63h1.2v1.2h-1.2zM328.16 337.6h1.2v1.2h-1.2zM334.1 338.21h1.2v1.2h-1.2zM337.28 339.3h1.2v1.2h-1.2zM343.74 338.19h1.2v1.2h-1.2zM349.5 338.49h1.2v1.2h-1.2zM355.72 337.9h1.2v1.2h-1.2zM359.17 339.31h1.2v1.2h-1.2zM367.12 338.92h1.2v1.2h-1.2zM371.43 338.9h1.2v1.2h-1.2zM376.47 338.06h1.2v1.2h-1.2zM382.61 339.47h1.2v1.2h-1.2zM388.08 339.81h1.2v1.2h-1.2zM393.92 338.38h1.2v1.2h-1.2zM399.61 337.85h1.2v1.2h-1.2zM405.12 339.84h1.2v1.2h-1.2zM410.42 339.85h1.2v1.2h-1.2zM415.61 338.71h1.2v1.2h-1.2zM421 337.86h1.2v1.2h-1.2zM427.83 338.2h1.2v1.2h-1.2zM433.64 337.91h1.2v1.2h-1.2zM436.34 338.4h1.2v1.2h-1.2zM162.83 343.7h1.2v1.2h-1.2zM167.41 344.13h1.2v1.2h-1.2zM171.14 342.89h1.2v1.2h-1.2zM175.9 342.79h1.2v1.2h-1.2zM182.07 343.84h1.2v1.2h-1.2zM188.42 342.37h1.2v1.2h-1.2zM192.55 342.75h1.2v1.2h-1.2zM198.03 342.58h1.2v1.2h-1.2zM204.83 342.29h1.2v1.2h-1.2zM206.38 342.03h1.2v1.2h-1.2zM211.28 343.81h1.2v1.2h-1.2zM218.5 343.81h1.2v1.2h-1.2zM222.6 341.83h1.2v1.2h-1.2zM226.3 343.29h1.2v1.2h-1.2zM230.83 342.7h1.2v1.2h-1.2zM235.4 342.05h1.2v1.2h-1.2zM242.28 343.24h1.2v1.2h-1.2zM245.52 343.89h1.2v1.2h-1.2zM252.46 341.91h1.2v1.2h-1.2zM258.32 342.46h1.2v1.2h-1.2zM265.06 343.95h1.2v1.2h-1.2zM268.55 342.71h1.2v1.2h-1.2zM273.49 343.28h1.2v1.2h-1.2zM277.34 344.03h1.2v1.2h-1.2zM283.65 343.16h1.2v1.2h-1.2zM287.47 342.9h1.2v1.2h-1.2zM294.72 344.12h1.2v1.2h-1.2zM299.34 343.32h1.2v1.2h-1.2zM305.13 344.07h1.2v1.2h-1.2zM307.51 343.9h1.2v1.2h-1.2zM312.6 341.87h1.2v1.2h-1.2zM318.08 342.37h1.2v1.2h-1.2zM321 343.49h1.2v1.2h-1.2zM327.22 342.58h1.2v1.2h-1.2zM333.53 343.67h1.2v1.2h-1.2zM337.76 343.04h1.2v1.2h-1.2zM342.72 343.73h1.2v1.2h-1.2zM347.38 343.66h1.2v1.2h-1.2zM352.07 342.45h1.2v1.2h-1.2zM359.8 342.19h1.2v1.2h-1.2zM364.2 343.11h1.2v1.2h-1.2zM369.49 342.59h1.2v1.2h-1.2zM373.66 342.53h1.2v1.2h-1.2zM380.61 342.09h1.2v1.2h-1.2zM386.29 342.14h1.2v1.2h-1.2zM393.19 342.32h1.2v1.2h-1.2zM399.48 342.35h1.2v1.2h-1.2zM403.15 343.78h1.2v1.2h-1.2zM406.64 343.66h1.2v1.2h-1.2zM412.24 344.16h1.2v1.2h-1.2zM416.73 344.01h1.2v1.2h-1.2zM420.72 343.44h1.2v1.2h-1.2zM426.42 342.46h1.2v1.2h-1.2zM430.6 342.12h1.2v1.2h-1.2zM437.72 342.38h1.2v1.2h-1.2zM160.89 347.87h1.2v1.2h-1.2zM167.24 346.24h1.2v1.2h-1.2zM172.98 347.12h1.2v1.2h-1.2zM177.09 346.26h1.2v1.2h-1.2zM183.8 346.39h1.2v1.2h-1.2zM187.14 346.22h1.2v1.2h-1.2zM190.63 346.59h1.2v1.2h-1.2zM198.49 346.98h1.2v1.2h-1.2zM200.81 346.82h1.2v1.2h-1.2zM207.31 347.71h1.2v1.2h-1.2zM212.39 347.68h1.2v1.2h-1.2zM215.84 346.7h1.2v1.2h-1.2zM221.25 346.51h1.2v1.2h-1.2zM224.35 348.07h1.2v1.2h-1.2zM230.36 346.91h1.2v1.2h-1.2zM238 347.08h1.2v1.2h-1.2zM242.97 346.62h1.2v1.2h-1.2zM244.97 347.2h1.2v1.2h-1.2zM250.94 347.04h1.2v1.2h-1.2zM258.38 346.92h1.2v1.2h-1.2zM265.63 346.9h1.2v1.2h-1.2zM268.74 347.78h1.2v1.2h-1.2zM275.08 346.74h1.2v1.2h-1.2zM279 347.07h1.2v1.2h-1.2zM285.78 348.17h1.2v1.2h-1.2zM290.76 348.31h1.2v1.2h-1.2zM296 347.54h1.2v1.2h-1.2zM300.6 348.38h1.2v1.2h-1.2zM305.48 347.97h1.2v1.2h-1.2zM310.04 346.51h1.2v1.2h-1.2zM314.72 346.99h1.2v1.2h-1.2zM319.8 347.75h1.2v1.2h-1.2zM324.1 346.53h1.2v1.2h-1.2zM327.04 347.38h1.2v1.2h-1.2zM334.8 347.52h1.2v1.2h-1.2zM336.89 346.17h1.2v1.2h-1.2zM343.37 347.07h1.2v1.2h-1.2zM349.31 346.84h1.2v1.2h-1.2zM353.34 348.25h1.2v1.2h-1.2zM359.72 347.02h1.2v1.2h-1.2zM363.29 347.18h1.2v1.2h-1.2zM370.12 347.35h1.2v1.2h-1.2zM371.47 346.38h1.2v1.2h-1.2zM378.19 348.13h1.2v1.2h-1.2zM382.39 347.06h1.2v1.2h-1.2zM386.76 346.1h1.2v1.2h-1.2zM390.87 347.65h1.2v1.2h-1.2zM396.26 347.97h1.2v1.2h-1.2zM398.11 347.33h1.2v1.2h-1.2zM404.05 346.11h1.2v1.2h-1.2zM408.44 347.77h1.2v1.2h-1.2zM414.55 347.07h1.2v1.2h-1.2zM418.47 346.44h1.2v1.2h-1.2zM425.22 347.72h1.2v1.2h-1.2zM430.82 347.43h1.2v1.2h-1.2zM435.04 347.35h1.2v1.2h-1.2zM440.85 347.61h1.2v1.2h-1.2zM160.72 351h1.2v1.2h-1.2zM167.14 350.23h1.2v1.2h-1.2zM172.05 352.08h1.2v1.2h-1.2zM176 350.76h1.2v1.2h-1.2zM181.61 351.94h1.2v1.2h-1.2zM187.54 351.58h1.2v1.2h-1.2zM194.16 351.11h1.2v1.2h-1.2zM197.7 352.31h1.2v1.2h-1.2zM202.89 351.13h1.2v1.2h-1.2zM208.01 350.7h1.2v1.2h-1.2zM214.57 352.01h1.2v1.2h-1.2zM218 352.05h1.2v1.2h-1.2zM223.46 350.2h1.2v1.2h-1.2zM228.31 352.03h1.2v1.2h-1.2zM233.06 351.96h1.2v1.2h-1.2zM237.85 351.48h1.2v1.2h-1.2zM244.71 350.67h1.2v1.2h-1.2zM247.99 350.43h1.2v1.2h-1.2zM253.69 351.59h1.2v1.2h-1.2zM257.72 350.48h1.2v1.2h-1.2zM261.72 350.43h1.2v1.2h-1.2zM267.08 350.85h1.2v1.2h-1.2zM274.5 350.88h1.2v1.2h-1.2zM279.52 351.55h1.2v1.2h-1.2zM284.55 352.5h1.2v1.2h-1.2zM286.23 350.97h1.2v1.2h-1.2zM290.63 352.36h1.2v1.2h-1.2zM295.41 350.94h1.2v1.2h-1.2zM299.15 350.85h1.2v1.2h-1.2zM300.93 351.08h1.2v1.2h-1.2zM304.98 350.8h1.2v1.2h-1.2zM311.02 350.93h1.2v1.2h-1.2zM317.08 351.94h1.2v1.2h-1.2zM322.04 352.1h1.2v1.2h-1.2zM325.9 350.99h1.2v1.2h-1.2zM331.03 351.66h1.2v1.2h-1.2zM334.94 352.33h1.2v1.2h-1.2zM337.87 350.77h1.2v1.2h-1.2zM343.38 351.04h1.2v1.2h-1.2zM347.87 350.66h1.2v1.2h-1.2zM352.53 352.56h1.2v1.2h-1.2zM357.45 350.3h1.2v1.2h-1.2zM359.99 350.56h1.2v1.2h-1.2zM365.24 352.11h1.2v1.2h-1.2zM370.38 352.27h1.2v1.2h-1.2zM373.04 352.04h1.2v1.2h-1.2zM380.1 351.01h1.2v1.2h-1.2zM384.87 351.03h1.2v1.2h-1.2zM391.07 350.68h1.2v1.2h-1.2zM396.35 350.48h1.2v1.2h-1.2zM401.9 352h1.2v1.2h-1.2zM405.18 352.5h1.2v1.2h-1.2zM411.04 351.94h1.2v1.2h-1.2zM415.19 351.19h1.2v1.2h-1.2zM419.02 352.44h1.2v1.2h-1.2zM425.95 351.33h1.2v1.2h-1.2zM430.38 351.51h1.2v1.2h-1.2zM434.52 350.39h1.2v1.2h-1.2zM161.81 356.74h1.2v1.2h-1.2zM169.74 354.6h1.2v1.2h-1.2zM174.67 355.85h1.2v1.2h-1.2zM178.8 355.45h1.2v1.2h-1.2zM183.76 355.06h1.2v1.2h-1.2zM187.67 355.05h1.2v1.2h-1.2zM188.94 356.79h1.2v1.2h-1.2zM194.88 354.75h1.2v1.2h-1.2zM202.43 355.8h1.2v1.2h-1.2zM205.57 356.67h1.2v1.2h-1.2zM209.1 354.54h1.2v1.2h-1.2zM214.65 356.69h1.2v1.2h-1.2zM222.56 354.5h1.2v1.2h-1.2zM227.43 355.58h1.2v1.2h-1.2zM231.42 356.32h1.2v1.2h-1.2zM236.41 355.41h1.2v1.2h-1.2zM238.79 355.5h1.2v1.2h-1.2zM245.23 356.54h1.2v1.2h-1.2zM250.09 356.77h1.2v1.2h-1.2zM252.75 355.19h1.2v1.2h-1.2zM257.51 355.4h1.2v1.2h-1.2zM263.5 355.56h1.2v1.2h-1.2zM268.97 356.15h1.2v1.2h-1.2zM273.56 356.15h1.2v1.2h-1.2zM278.44 355.83h1.2v1.2h-1.2zM283.1 355.23h1.2v1.2h-1.2zM290.98 356.75h1.2v1.2h-1.2zM293.06 354.66h1.2v1.2h-1.2zM300.33 355.96h1.2v1.2h-1.2zM305.48 355.75h1.2v1.2h-1.2zM312.14 355.97h1.2v1.2h-1.2zM316.95 356.22h1.2v1.2h-1.2zM321.07 355.42h1.2v1.2h-1.2zM326.74 355.75h1.2v1.2h-1.2zM331.21 355.42h1.2v1.2h-1.2zM337.56 354.62h1.2v1.2h-1.2zM340.36 355.35h1.2v1.2h-1.2zM344.82 355.28h1.2v1.2h-1.2zM347.31 356.5h1.2v1.2h-1.2zM354.44 355.52h1.2v1.2h-1.2zM358.22 356.54h1.2v1.2h-1.2zM364.78 355.01h1.2v1.2h-1.2zM372.04 355.53h1.2v1.2h-1.2zM375.02 356.32h1.2v1.2h-1.2zM382.98 354.67h1.2v1.2h-1.2zM388.64 356.12h1.2v1.2h-1.2zM391 354.55h1.2v1.2h-1.2zM396.47 356.34h1.2v1.2h-1.2zM403.18 356.54h1.2v1.2h-1.2zM409.91 354.64h1.2v1.2h-1.2zM414.58 355h1.2v1.2h-1.2zM421.8 354.69h1.2v1.2h-1.2zM424.82 355.78h1.2v1.2h-1.2zM429.59 356.35h1.2v1.2h-1.2zM434.47 355.19h1.2v1.2h-1.2zM162.34 360.05h1.2v1.2h-1.2zM166.42 360.1h1.2v1.2h-1.2zM171.63 358.68h1.2v1.2h-1.2zM176.16 359.01h1.2v1.2h-1.2zM180.75 360.76h1.2v1.2h-1.2zM184.7 360.01h1.2v1.2h-1.2zM190.61 358.97h1.2v1.2h-1.2zM193.87 360.78h1.2v1.2h-1.2zM197.13 358.92h1.2v1.2h-1.2zM201.69 359.55h1.2v1.2h-1.2zM207.68 359.74h1.2v1.2h-1.2zM213.48 360.77h1.2v1.2h-1.2zM218.7 359.2h1.2v1.2h-1.2zM223.94 360.24h1.2v1.2h-1.2zM227.83 358.92h1.2v1.2h-1.2zM234.25 360.28h1.2v1.2h-1.2zM239.63 359.1h1.2v1.2h-1.2zM243.09 360.24h1.2v1.2h-1.2zM247.22 360.31h1.2v1.2h-1.2zM252.22 359.22h1.2v1.2h-1.2zM258.61 359.92h1.2v1.2h-1.2zM261.37 359.3h1.2v1.2h-1.2zM266 360.5h1.2v1.2h-1.2zM272.93 360.72h1.2v1.2h-1.2zM276.63 358.71h1.2v1.2h-1.2zM281.06 359.87h1.2v1.2h-1.2zM288.01 359.63h1.2v1.2h-1.2zM293.42 360.41h1.2v1.2h-1.2zM295.14 360.96h1.2v1.2h-1.2zM301.81 358.88h1.2v1.2h-1.2zM305.8 360.73h1.2v1.2h-1.2zM309.42 359.08h1.2v1.2h-1.2zM317.97 360.14h1.2v1.2h-1.2zM321.43 359.25h1.2v1.2h-1.2zM327.3 358.7h1.2v1.2h-1.2zM330.73 359.05h1.2v1.2h-1.2zM337.28 359.19h1.2v1.2h-1.2zM340.37 360.18h1.2v1.2h-1.2zM344.05 360.7h1.2v1.2h-1.2zM347.87 359.18h1.2v1.2h-1.2zM353.82 359.93h1.2v1.2h-1.2zM360.75 359.72h1.2v1.2h-1.2zM364.19 358.64h1.2v1.2h-1.2zM366.58 360.05h1.2v1.2h-1.2zM372.38 359.31h1.2v1.2h-1.2zM380.12 358.86h1.2v1.2h-1.2zM385.99 359.58h1.2v1.2h-1.2zM389.55 359.37h1.2v1.2h-1.2zM391.97 359.57h1.2v1.2h-1.2zM396.51 359.92h1.2v1.2h-1.2zM401.72 360.52h1.2v1.2h-1.2zM405.27 360.84h1.2v1.2h-1.2zM413.13 360.44h1.2v1.2h-1.2zM417.84 359.97h1.2v1.2h-1.2zM420.09 358.83h1.2v1.2h-1.2zM426.42 359.58h1.2v1.2h-1.2zM430.87 360.29h1.2v1.2h-1.2zM438.84 360.71h1.2v1.2h-1.2zM161.22 364.46h1.2v1.2h-1.2zM164.58 363.17h1.2v1.2h-1.2zM170.93 364.75h1.2v1.2h-1.2zM175.03 364.03h1.2v1.2h-1.2zM182.45 363.65h1.2v1.2h-1.2zM186.59 364.87h1.2v1.2h-1.2zM192.83 363.67h1.2v1.2h-1.2zM198.14 364.72h1.2v1.2h-1.2zM200.15 363.27h1.2v1.2h-1.2zM206.41 364.74h1.2v1.2h-1.2zM213.04 364.09h1.2v1.2h-1.2zM217.78 363.02h1.2v1.2h-1.2zM222.68 363.13h1.2v1.2h-1.2zM229.81 364.74h1.2v1.2h-1.2zM236.26 362.92h1.2v1.2h-1.2zM237.71 364.67h1.2v1.2h-1.2zM242.55 364.65h1.2v1.2h-1.2zM246.51 364.96h1.2v1.2h-1.2zM251.86 363.95h1.2v1.2h-1.2zM257.88 364.68h1.2v1.2h-1.2zM261.45 364.56h1.2v1.2h-1.2zM267.9 363.67h1.2v1.2h-1.2zM273.7 363.88h1.2v1.2h-1.2zM279.25 364.07h1.2v1.2h-1.2zM283.24 364.95h1.2v1.2h-1.2zM290.33 364.84h1.2v1.2h-1.2zM293.82 364.51h1.2v1.2h-1.2zM299.89 365.19h1.2v1.2h-1.2zM304.36 363.1h1.2v1.2h-1.2zM309.66 363.57h1.2v1.2h-1.2zM313.57 362.99h1.2v1.2h-1.2zM320.97 364.14h1.2v1.2h-1.2zM324.22 364.25h1.2v1.2h-1.2zM330.76 365.09h1.2v1.2h-1.2zM335.99 362.98h1.2v1.2h-1.2zM338.42 363.1h1.2v1.2h-1.2zM345.11 364.8h1.2v1.2h-1.2zM349.19 363.33h1.2v1.2h-1.2zM352.92 362.94h1.2v1.2h-1.2zM358.08 364.42h1.2v1.2h-1.2zM364.16 363.52h1.2v1.2h-1.2zM370.14 364.51h1.2v1.2h-1.2zM374.37 363.49h1.2v1.2h-1.2zM378 364.28h1.2v1.2h-1.2zM383.24 364.91h1.2v1.2h-1.2zM389.17 363.97h1.2v1.2h-1.2zM391.56 364.57h1.2v1.2h-1.2zM397.54 362.82h1.2v1.2h-1.2zM402.81 364.23h1.2v1.2h-1.2zM408.13 363.61h1.2v1.2h-1.2zM412.81 363.53h1.2v1.2h-1.2zM418.75 364.21h1.2v1.2h-1.2zM422.02 364.1h1.2v1.2h-1.2zM430.48 365.05h1.2v1.2h-1.2zM432.46 365.2h1.2v1.2h-1.2zM439.32 363.41h1.2v1.2h-1.2zM162.13 368.35h1.2v1.2h-1.2zM167.65 369.24h1.2v1.2h-1.2zM174.89 367.62h1.2v1.2h-1.2zM178.28 368h1.2v1.2h-1.2zM185.32 367.88h1.2v1.2h-1.2zM190.51 368.7h1.2v1.2h-1.2zM195.54 369.21h1.2v1.2h-1.2zM201.06 367.84h1.2v1.2h-1.2zM203.14 369.39h1.2v1.2h-1.2zM210.18 368.91h1.2v1.2h-1.2zM217.99 368.28h1.2v1.2h-1.2zM221.09 369.36h1.2v1.2h-1.2zM227.24 369.02h1.2v1.2h-1.2zM231.63 369.04h1.2v1.2h-1.2zM236.63 367.06h1.2v1.2h-1.2zM240.89 367.35h1.2v1.2h-1.2zM246.75 367.44h1.2v1.2h-1.2zM251.94 368.03h1.2v1.2h-1.2zM253.95 368.71h1.2v1.2h-1.2zM258.34 368.94h1.2v1.2h-1.2zM266.3 367.42h1.2v1.2h-1.2zM269.43 368.44h1.2v1.2h-1.2zM271.82 368.04h1.2v1.2h-1.2zM277.74 369.35h1.2v1.2h-1.2zM280.33 368.67h1.2v1.2h-1.2zM284.59 368.05h1.2v1.2h-1.2zM291.36 367.76h1.2v1.2h-1.2zM295.8 367.97h1.2v1.2h-1.2zM301.88 368.91h1.2v1.2h-1.2zM305.27 368.51h1.2v1.2h-1.2zM312.58 367.25h1.2v1.2h-1.2zM317.57 367.89h1.2v1.2h-1.2zM321.28 368.82h1.2v1.2h-1.2zM325.78 368.65h1.2v1.2h-1.2zM330.96 367.45h1.2v1.2h-1.2zM336.23 369.15h1.2v1.2h-1.2zM342.74 367.79h1.2v1.2h-1.2zM347.13 368.77h1.2v1.2h-1.2zM351.55 369.4h1.2v1.2h-1.2zM356.97 368.05h1.2v1.2h-1.2zM362.21 367.49h1.2v1.2h-1.2zM367.1 367.16h1.2v1.2h-1.2zM369.99 368.79h1.2v1.2h-1.2zM376.75 368.61h1.2v1.2h-1.2zM377.67 367.09h1.2v1.2h-1.2zM382.34 368.26h1.2v1.2h-1.2zM388.26 369.05h1.2v1.2h-1.2zM395.27 367.86h1.2v1.2h-1.2zM399.38 367.63h1.2v1.2h-1.2zM403.61 367.6h1.2v1.2h-1.2zM410.7 368.2h1.2v1.2h-1.2zM412.56 368.46h1.2v1.2h-1.2zM417.92 368.87h1.2v1.2h-1.2zM423.84 368.01h1.2v1.2h-1.2zM430.05 369.21h1.2v1.2h-1.2zM435.54 368.68h1.2v1.2h-1.2zM437.36 368.99h1.2v1.2h-1.2zM161.33 371.84h1.2v1.2h-1.2zM168.25 371.25h1.2v1.2h-1.2zM172.22 371.36h1.2v1.2h-1.2zM180.32 373.16h1.2v1.2h-1.2zM182.38 371.47h1.2v1.2h-1.2zM189.23 373.09h1.2v1.2h-1.2zM193.04 371.23h1.2v1.2h-1.2zM198.98 373.19h1.2v1.2h-1.2zM202.21 373.26h1.2v1.2h-1.2zM206.34 371.2h1.2v1.2h-1.2zM213.06 373.05h1.2v1.2h-1.2zM219.46 373.57h1.2v1.2h-1.2zM226.32 373.51h1.2v1.2h-1.2zM229.54 371.74h1.2v1.2h-1.2zM232.79 373.57h1.2v1.2h-1.2zM236.75 371.51h1.2v1.2h-1.2zM243.42 372.88h1.2v1.2h-1.2zM249.3 372.01h1.2v1.2h-1.2zM253.97 372.89h1.2v1.2h-1.2zM258.83 373.24h1.2v1.2h-1.2zM265.33 372.18h1.2v1.2h-1.2zM269.04 371.43h1.2v1.2h-1.2zM273.61 371.32h1.2v1.2h-1.2zM281.09 372.68h1.2v1.2h-1.2zM285.18 373.18h1.2v1.2h-1.2zM289.05 372.56h1.2v1.2h-1.2zM293.86 371.56h1.2v1.2h-1.2zM301.05 373.44h1.2v1.2h-1.2zM303.96 372.42h1.2v1.2h-1.2zM307.75 372.5h1.2v1.2h-1.2zM314.52 372.59h1.2v1.2h-1.2zM318.96 373.08h1.2v1.2h-1.2zM321.8 373.55h1.2v1.2h-1.2zM328.06 371.47h1.2v1.2h-1.2zM333.82 371.51h1.2v1.2h-1.2zM336.89 371.21h1.2v1.2h-1.2zM340.83 371.69h1.2v1.2h-1.2zM343.97 371.79h1.2v1.2h-1.2zM348.9 372.06h1.2v1.2h-1.2zM352.19 373.21h1.2v1.2h-1.2zM359.33 371.21h1.2v1.2h-1.2zM364.75 372.3h1.2v1.2h-1.2zM368.62 373.34h1.2v1.2h-1.2zM371.53 372.55h1.2v1.2h-1.2zM374.84 372.68h1.2v1.2h-1.2zM381.29 372.69h1.2v1.2h-1.2zM384.24 371.24h1.2v1.2h-1.2zM392.64 373.37h1.2v1.2h-1.2zM396.08 371.61h1.2v1.2h-1.2zM398.92 373.26h1.2v1.2h-1.2zM406.77 372.12h1.2v1.2h-1.2zM411.36 372.58h1.2v1.2h-1.2zM416.8 372.12h1.2v1.2h-1.2zM422.29 371.64h1.2v1.2h-1.2zM424.64 372.74h1.2v1.2h-1.2zM430.79 373.25h1.2v1.2h-1.2zM435.61 372.48h1.2v1.2h-1.2zM159.67 375.58h1.2v1.2h-1.2zM166.44 376.97h1.2v1.2h-1.2zM168.2 376.82h1.2v1.2h-1.2zM172.71 375.63h1.2v1.2h-1.2zM179.63 375.59h1.2v1.2h-1.2zM184.37 376.81h1.2v1.2h-1.2zM189.75 377.67h1.2v1.2h-1.2zM194.69 376.7h1.2v1.2h-1.2zM202.4 377.25h1.2v1.2h-1.2zM206.71 376.93h1.2v1.2h-1.2zM213.85 377.22h1.2v1.2h-1.2zM216.79 376.45h1.2v1.2h-1.2zM221.62 375.93h1.2v1.2h-1.2zM226.37 376.42h1.2v1.2h-1.2zM232.7 377.78h1.2v1.2h-1.2zM239.42 376.03h1.2v1.2h-1.2zM244.02 377.66h1.2v1.2h-1.2zM248.44 375.46h1.2v1.2h-1.2zM253.88 376.14h1.2v1.2h-1.2zM257.55 375.57h1.2v1.2h-1.2zM261.44 376.24h1.2v1.2h-1.2zM266.7 376.33h1.2v1.2h-1.2zM269.07 376.74h1.2v1.2h-1.2zM276.27 376.24h1.2v1.2h-1.2zM282.11 376.58h1.2v1.2h-1.2zM285.79 375.72h1.2v1.2h-1.2zM290.99 376.36h1.2v1.2h-1.2zM297.44 376.45h1.2v1.2h-1.2zM302.66 376.94h1.2v1.2h-1.2zM307.54 376.2h1.2v1.2h-1.2zM311.54 376.68h1.2v1.2h-1.2zM314.11 377.19h1.2v1.2h-1.2zM320.46 376.08h1.2v1.2h-1.2zM325.89 376.06h1.2v1.2h-1.2zM331.63 376.05h1.2v1.2h-1.2zM338.87 375.68h1.2v1.2h-1.2zM342.45 375.58h1.2v1.2h-1.2zM347.15 377.11h1.2v1.2h-1.2zM351.03 377.54h1.2v1.2h-1.2zM357.69 376.53h1.2v1.2h-1.2zM362.86 376.02h1.2v1.2h-1.2zM366.87 375.52h1.2v1.2h-1.2zM371.99 376.78h1.2v1.2h-1.2zM375.91 376.55h1.2v1.2h-1.2zM380.69 376.03h1.2v1.2h-1.2zM388.8 376.62h1.2v1.2h-1.2zM394.54 377.69h1.2v1.2h-1.2zM397.39 377.49h1.2v1.2h-1.2zM401.96 375.73h1.2v1.2h-1.2zM408.02 376.5h1.2v1.2h-1.2zM411.61 377.12h1.2v1.2h-1.2zM417.22 377.4h1.2v1.2h-1.2zM425.38 377.76h1.2v1.2h-1.2zM427.49 376.48h1.2v1.2h-1.2zM432.82 377.57h1.2v1.2h-1.2zM436.02 377.72h1.2v1.2h-1.2zM160.17 380.7h1.2v1.2h-1.2zM167.26 380.05h1.2v1.2h-1.2zM172.2 379.63h1.2v1.2h-1.2zM174.86 381.4h1.2v1.2h-1.2zM182.12 380.14h1.2v1.2h-1.2zM186.16 379.71h1.2v1.2h-1.2zM189.47 380.53h1.2v1.2h-1.2zM196.72 381.32h1.2v1.2h-1.2zM200.8 380.89h1.2v1.2h-1.2zM204.79 380.67h1.2v1.2h-1.2zM210.02 381.26h1.2v1.2h-1.2zM211.71 379.73h1.2v1.2h-1.2zM217.59 381.92h1.2v1.2h-1.2zM224.68 379.9h1.2v1.2h-1.2zM230.25 380.73h1.2v1.2h-1.2zM236.25 379.88h1.2v1.2h-1.2zM238.99 381.07h1.2v1.2h-1.2zM246.55 379.62h1.2v1.2h-1.2zM250.42 380.23h1.2v1.2h-1.2zM254.4 379.87h1.2v1.2h-1.2zM260.36 380.95h1.2v1.2h-1.2zM263.02 381.06h1.2v1.2h-1.2zM270.65 380.84h1.2v1.2h-1.2zM272.85 381.17h1.2v1.2h-1.2zM276.24 380.2h1.2v1.2h-1.2zM283.45 380.46h1.2v1.2h-1.2zM289.95 380.17h1.2v1.2h-1.2zM295.96 380.48h1.2v1.2h-1.2zM299.93 381.97h1.2v1.2h-1.2zM304.16 381h1.2v1.2h-1.2zM309.5 381.31h1.2v1.2h-1.2zM313.17 380.35h1.2v1.2h-1.2zM319.4 380.72h1.2v1.2h-1.2zM323.2 380.21h1.2v1.2h-1.2zM328.96 380.14h1.2v1.2h-1.2zM334.65 380.45h1.2v1.2h-1.2zM339.93 381.76h1.2v1.2h-1.2zM344.47 379.77h1.2v1.2h-1.2zM349.2 381.66h1.2v1.2h-1.2zM355.67 380.66h1.2v1.2h-1.2zM360.69 380.48h1.2v1.2h-1.2zM368.11 381h1.2v1.2h-1.2zM370.53 380.22h1.2v1.2h-1.2zM375.39 380.97h1.2v1.2h-1.2zM381.41 381.8h1.2v1.2h-1.2zM386.21 380.28h1.2v1.2h-1.2zM392.36 380.77h1.2v1.2h-1.2zM394.11 380.07h1.2v1.2h-1.2zM399.95 380.74h1.2v1.2h-1.2zM406.99 379.81h1.2v1.2h-1.2zM410.4 381.03h1.2v1.2h-1.2zM415.26 379.69h1.2v1.2h-1.2zM421.12 381.04h1.2v1.2h-1.2zM422.62 381.77h1.2v1.2h-1.2zM427.87 381.3h1.2v1.2h-1.2zM436.25 381.15h1.2v1.2h-1.2zM160.15 385.74h1.2v1.2h-1.2zM163.72 385.88h1.2v1.2h-1.2zM168.92 383.95h1.2v1.2h-1.2zM176.93 385.28h1.2v1.2h-1.2zM180.52 385.18h1.2v1.2h-1.2zM185.24 384.16h1.2v1.2h-1.2zM189.28 385.38h1.2v1.2h-1.2zM197.29 385.64h1.2v1.2h-1.2zM200.91 385.1h1.2v1.2h-1.2zM206.09 384h1.2v1.2h-1.2zM210.74 386.16h1.2v1.2h-1.2zM218.05 384.98h1.2v1.2h-1.2zM221.81 385.5h1.2v1.2h-1.2zM225.53 384.81h1.2v1.2h-1.2zM231.03 384.18h1.2v1.2h-1.2zM237.27 383.96h1.2v1.2h-1.2zM242.53 384.44h1.2v1.2h-1.2zM246.34 384.01h1.2v1.2h-1.2zM252.99 385.67h1.2v1.2h-1.2zM256.14 385.29h1.2v1.2h-1.2zM260.97 385.05h1.2v1.2h-1.2zM265.11 384.11h1.2v1.2h-1.2zM270.01 385.16h1.2v1.2h-1.2zM274.62 384.98h1.2v1.2h-1.2zM278.8 383.85h1.2v1.2h-1.2zM281.81 386.19h1.2v1.2h-1.2zM289.88 384.18h1.2v1.2h-1.2zM294.83 385.73h1.2v1.2h-1.2zM301.25 385.58h1.2v1.2h-1.2zM306.24 385.1h1.2v1.2h-1.2zM312.03 384.41h1.2v1.2h-1.2zM315.33 383.98h1.2v1.2h-1.2zM322.43 384.98h1.2v1.2h-1.2zM328.15 383.97h1.2v1.2h-1.2zM332.14 385.08h1.2v1.2h-1.2zM335.85 384.34h1.2v1.2h-1.2zM341.61 386.05h1.2v1.2h-1.2zM349.7 384.46h1.2v1.2h-1.2zM352.15 384.66h1.2v1.2h-1.2zM357.06 386.1h1.2v1.2h-1.2zM362.43 384.46h1.2v1.2h-1.2zM367.8 385.83h1.2v1.2h-1.2zM373.91 386.08h1.2v1.2h-1.2zM380.31 384.82h1.2v1.2h-1.2zM386.05 385.88h1.2v1.2h-1.2zM391.63 383.82h1.2v1.2h-1.2zM398.43 385.37h1.2v1.2h-1.2zM400.44 385.96h1.2v1.2h-1.2zM406.22 386.14h1.2v1.2h-1.2zM410.8 383.95h1.2v1.2h-1.2zM416.29 384.18h1.2v1.2h-1.2zM422.76 385.78h1.2v1.2h-1.2zM428.57 385.52h1.2v1.2h-1.2zM433.34 385.74h1.2v1.2h-1.2zM438.26 384.23h1.2v1.2h-1.2zM162.05 389.88h1.2v1.2h-1.2zM166.83 388.14h1.2v1.2h-1.2zM168.52 388.19h1.2v1.2h-1.2zM174.96 388.93h1.2v1.2h-1.2zM181.55 389.51h1.2v1.2h-1.2zM186.15 390.3h1.2v1.2h-1.2zM190.68 389.15h1.2v1.2h-1.2zM193.46 389.22h1.2v1.2h-1.2zM200.22 388.14h1.2v1.2h-1.2zM205.64 390.12h1.2v1.2h-1.2zM210.81 388.35h1.2v1.2h-1.2zM214.41 389.81h1.2v1.2h-1.2zM219.2 388.97h1.2v1.2h-1.2zM223.85 390.29h1.2v1.2h-1.2zM227.48 389.32h1.2v1.2h-1.2zM233.8 388.09h1.2v1.2h-1.2zM238.26 390.23h1.2v1.2h-1.2zM242.86 388.76h1.2v1.2h-1.2zM247.51 389.61h1.2v1.2h-1.2zM253.52 388.7h1.2v1.2h-1.2zM257.94 389.72h1.2v1.2h-1.2zM263.01 388.21h1.2v1.2h-1.2zM266 388.44h1.2v1.2h-1.2zM271.6 388.82h1.2v1.2h-1.2zM276.54 388.59h1.2v1.2h-1.2zM280.32 389.64h1.2v1.2h-1.2zM285.88 389.94h1.2v1.2h-1.2zM291.93 389.46h1.2v1.2h-1.2zM297.44 388.22h1.2v1.2h-1.2zM303.55 388.9h1.2v1.2h-1.2zM306.39 389.86h1.2v1.2h-1.2zM313.34 388.89h1.2v1.2h-1.2zM318.02 388.5h1.2v1.2h-1.2zM323.21 389.22h1.2v1.2h-1.2zM330.4 390.1h1.2v1.2h-1.2zM336.36 388.06h1.2v1.2h-1.2zM340.66 390.1h1.2v1.2h-1.2zM344.94 389.05h1.2v1.2h-1.2zM348.3 389.32h1.2v1.2h-1.2zM352.55 390.09h1.2v1.2h-1.2zM360.04 388.71h1.2v1.2h-1.2zM363.47 389.99h1.2v1.2h-1.2zM368.71 389.33h1.2v1.2h-1.2zM371.48 389.17h1.2v1.2h-1.2zM378.76 388.49h1.2v1.2h-1.2zM381.28 389.93h1.2v1.2h-1.2zM386.46 388.08h1.2v1.2h-1.2zM390.43 389.19h1.2v1.2h-1.2zM393.57 390.26h1.2v1.2h-1.2zM398.49 389.01h1.2v1.2h-1.2zM401.97 390.12h1.2v1.2h-1.2zM408.12 388.68h1.2v1.2h-1.2zM413.94 390.02h1.2v1.2h-1.2zM417.58 389.33h1.2v1.2h-1.2zM419.97 389.76h1.2v1.2h-1.2zM425.56 388.04h1.2v1.2h-1.2zM427.92 389.57h1.2v1.2h-1.2zM435.74 389.58h1.2v1.2h-1.2zM437.87 390.3h1.2v1.2h-1.2z" fill="#2020ff"/>
</g>
<g fill="none" stroke="#00ff00" stroke-width="1.1"><circle cx="272.13" cy="215.13" r="3"/><circle cx="275.11" cy="214.48" r="3"/><circle cx="278.61" cy="213.48" r="3"/><circle cx="282.11" cy="212.48" r="3"/><circle cx="285.61" cy="211.48" r="3"/><circle cx="289.36" cy="211.23" r="3"/><circle cx="293.11" cy="210.98" r="3"/><circle cx="296.86" cy="210.73" r="3"/><circle cx="300.61" cy="210.48" r="3"/><circle cx="304.61" cy="209.88" r="3"/><circle cx="308.61" cy="209.28" r="3"/><circle cx="312.61" cy="208.68" r="3"/><circle cx="316.61" cy="208.08" r="3"/><circle cx="321.13" cy="207.13" r="3"/><circle cx="324.63" cy="203.63" r="3"/><circle cx="327.61" cy="200.48" r="3"/><circle cx="330.6" cy="200.6" r="3"/><circle cx="334.2" cy="200.6" r="3"/><circle cx="337.8" cy="200.6" r="3"/><circle cx="341.4" cy="200.6" r="3"/><circle cx="343.87" cy="200.13" r="3"/><circle cx="343.86" cy="203.95" r="3"/><circle cx="344.19" cy="208.28" r="3"/><circle cx="344.87" cy="213.13" r="3"/><circle cx="349.19" cy="214.48" r="3"/><circle cx="352.99" cy="215.48" r="3"/><circle cx="356.79" cy="216.48" r="3"/><circle cx="360.59" cy="217.48" r="3"/><circle cx="364.39" cy="218.48" r="3"/><circle cx="368.14" cy="219.48" r="3"/><circle cx="371.89" cy="220.48" r="3"/><circle cx="375.64" cy="221.48" r="3"/><circle cx="378.87" cy="222.13" r="3"/><circle cx="379.86" cy="224.95" r="3"/><circle cx="381.19" cy="228.28" r="3"/><circle cx="382.87" cy="232.13" r="3"/><circle cx="387.39" cy="234.98" r="3"/><circle cx="392" cy="237.6" r="3"/><circle cx="396.28" cy="237.14" r="3"/><circle cx="399.95" cy="236.81" r="3"/><circle cx="403" cy="236.6" r="3"/><circle cx="406.05" cy="236.81" r="3"/><circle cx="409.72" cy="237.14" r="3"/><circle cx="412.87" cy="237.13" r="3"/><circle cx="414.52" cy="240.61" r="3"/><circle cx="416.52" cy="243.39" r="3"/><circle cx="413.39" cy="245.52" r="3"/><circle cx="409.72" cy="245.69" r="3"/><circle cx="406.05" cy="245.86" r="3"/><circle cx="402.39" cy="246.02" r="3"/><circle cx="398.72" cy="246.19" r="3"/><circle cx="395.05" cy="246.36" r="3"/><circle cx="392" cy="246.4" r="3"/><circle cx="388" cy="246.4" r="3"/><circle cx="384" cy="246.4" r="3"/><circle cx="380" cy="246.4" r="3"/><circle cx="378.46" cy="244.2" r="3"/><circle cx="375.8" cy="241.54" r="3"/><circle cx="373.48" cy="239.39" r="3"/><circle cx="370.98" cy="234.89" r="3"/><circle cx="368.13" cy="229.87" r="3"/><circle cx="363.95" cy="229.02" r="3"/><circle cx="360.28" cy="228.52" r="3"/><circle cx="356" cy="227.9" r="3"/><circle cx="350.39" cy="228.77" r="3"/><circle cx="345.39" cy="229.52" r="3"/><circle cx="341.39" cy="232.52" r="3"/><circle cx="336.4" cy="237" r="3"/><circle cx="340.39" cy="240.81" r="3"/><circle cx="343.39" cy="243.14" r="3"/><circle cx="346.39" cy="245.48" r="3"/><circle cx="349.64" cy="246.98" r="3"/><circle cx="352.89" cy="248.48" r="3"/><circle cx="356.14" cy="249.98" r="3"/><circle cx="359.39" cy="251.48" r="3"/><circle cx="363.39" cy="252.98" r="3"/><circle cx="366.87" cy="254.13" r="3"/><circle cx="367.52" cy="258.11" r="3"/><circle cx="368.4" cy="262" r="3"/><circle cx="366.02" cy="264.39" r="3"/><circle cx="363.87" cy="266.87" r="3"/><circle cx="361.39" cy="268.86" r="3"/><circle cx="358.39" cy="271.19" r="3"/><circle cx="355.39" cy="273.52" r="3"/><circle cx="352.39" cy="275.86" r="3"/><circle cx="349.39" cy="278.19" r="3"/><circle cx="346.39" cy="280.52" r="3"/><circle cx="342.14" cy="280.77" r="3"/><circle cx="337.89" cy="281.02" r="3"/><circle cx="333.64" cy="281.27" r="3"/><circle cx="329.39" cy="281.52" r="3"/><circle cx="325.14" cy="281.77" r="3"/><circle cx="320.89" cy="282.02" r="3"/><circle cx="316.64" cy="282.27" r="3"/><circle cx="311.87" cy="282.87" r="3"/><circle cx="308.27" cy="285.39" r="3"/><circle cx="275.13" cy="266.13" r="3"/><circle cx="273.13" cy="263.13" r="3"/><circle cx="271.13" cy="260.13" r="3"/><circle cx="268.61" cy="257.48" r="3"/><circle cx="269.98" cy="252.61" r="3"/><circle cx="270.48" cy="248.61" r="3"/><circle cx="270.98" cy="244.61" r="3"/><circle cx="271.48" cy="240.61" r="3"/><circle cx="271.62" cy="236.9" r="3"/><circle cx="271.76" cy="233.18" r="3"/><circle cx="271.91" cy="229.47" r="3"/><circle cx="272.05" cy="225.76" r="3"/><circle cx="272.19" cy="222.04" r="3"/><circle cx="272.34" cy="218.33" r="3"/><circle cx="229.39" cy="240.48" r="3"/><circle cx="233.75" cy="240.35" r="3"/><circle cx="238.11" cy="239.98" r="3"/><circle cx="241.86" cy="239.73" r="3"/><circle cx="245" cy="239.6" r="3"/><circle cx="247.64" cy="241.23" r="3"/><circle cx="250.89" cy="242.98" r="3"/><circle cx="254.14" cy="244.73" r="3"/><circle cx="256.87" cy="246.13" r="3"/><circle cx="259.19" cy="249.28" r="3"/><circle cx="261.86" cy="252.95" r="3"/><circle cx="264.69" cy="256.92" r="3"/><circle cx="267.37" cy="257.87" r="3"/><circle cx="269.87" cy="260.87" r="3"/><circle cx="281.85" cy="287.41" r="3"/><circle cx="279.2" cy="284.3" r="3"/><circle cx="275.63" cy="280.42" r="3"/><circle cx="273.05" cy="278.02" r="3"/><circle cx="270.98" cy="275.97" r="3"/><circle cx="268.4" cy="273.57" r="3"/><circle cx="265.81" cy="271.17" r="3"/><circle cx="263.23" cy="268.77" r="3"/><circle cx="260.59" cy="266.11" r="3"/><circle cx="257.95" cy="263.45" r="3"/><circle cx="255.31" cy="260.79" r="3"/><circle cx="252.67" cy="258.13" r="3"/><circle cx="250.03" cy="255.47" r="3"/><circle cx="246.81" cy="252.82" r="3"/><circle cx="243.06" cy="249.82" r="3"/><circle cx="198.13" cy="215.87" r="3"/><circle cx="200.13" cy="218.87" r="3"/><circle cx="202.48" cy="222.39" r="3"/><circle cx="204.48" cy="225.39" r="3"/><circle cx="206.14" cy="229.39" r="3"/><circle cx="207.81" cy="233.39" r="3"/><circle cx="209.48" cy="237.39" r="3"/><circle cx="211.08" cy="240.51" r="3"/><circle cx="212.68" cy="243.63" r="3"/><circle cx="214.28" cy="246.75" r="3"/><circle cx="215.88" cy="249.87" r="3"/><circle cx="217.13" cy="252.47" r="3"/><circle cx="220.11" cy="252.72" r="3"/><circle cx="223" cy="253.2" r="3"/><circle cx="226.5" cy="253.8" r="3"/><circle cx="230" cy="254.4" r="3"/><circle cx="244.43" cy="255.77" r="3"/><circle cx="250.03" cy="255.47" r="3"/><circle cx="247.33" cy="253.1" r="3"/><circle cx="244.11" cy="250.38" r="3"/><circle cx="240.8" cy="247.89" r="3"/><circle cx="229.39" cy="241.48" r="3"/><circle cx="225.87" cy="238.33" r="3"/><circle cx="222.87" cy="235.53" r="3"/><circle cx="219.87" cy="232.73" r="3"/><circle cx="216.87" cy="229.93" r="3"/><circle cx="213.87" cy="227.13" r="3"/><circle cx="210.27" cy="225.33" r="3"/><circle cx="206.67" cy="223.53" r="3"/><circle cx="202.08" cy="218.19" r="3"/><circle cx="169.48" cy="216.61" r="3"/><circle cx="170.98" cy="218.55" r="3"/><circle cx="172.48" cy="221.72" r="3"/><circle cx="173.98" cy="224.89" r="3"/><circle cx="175.48" cy="228.05" r="3"/><circle cx="176.98" cy="231.22" r="3"/><circle cx="178.48" cy="234.39" r="3"/><circle cx="180.48" cy="237.79" r="3"/><circle cx="182.48" cy="241.19" r="3"/><circle cx="184.48" cy="244.59" r="3"/><circle cx="186.48" cy="247.99" r="3"/><circle cx="188.48" cy="251.39" r="3"/><circle cx="190.14" cy="255.05" r="3"/><circle cx="191.81" cy="258.72" r="3"/><circle cx="193.48" cy="262.39" r="3"/><circle cx="195.14" cy="266.05" r="3"/><circle cx="196.81" cy="269.72" r="3"/><circle cx="198.48" cy="273.39" r="3"/><circle cx="199.98" cy="276.72" r="3"/><circle cx="201.48" cy="280.05" r="3"/><circle cx="202.98" cy="283.39" r="3"/><circle cx="204.48" cy="286.72" r="3"/><circle cx="205.98" cy="290.05" r="3"/><circle cx="207.48" cy="293.39" r="3"/><circle cx="209.48" cy="296.89" r="3"/><circle cx="211.48" cy="300.39" r="3"/><circle cx="213.48" cy="303.89" r="3"/><circle cx="215.48" cy="307.39" r="3"/><circle cx="217.98" cy="310.64" r="3"/><circle cx="220.48" cy="313.89" r="3"/><circle cx="222.98" cy="317.14" r="3"/><circle cx="225.13" cy="319.87" r="3"/><circle cx="227.86" cy="322.02" r="3"/><circle cx="231.11" cy="324.52" r="3"/><circle cx="234.36" cy="327.02" r="3"/><circle cx="237.61" cy="329.52" r="3"/><circle cx="240.81" cy="331.32" r="3"/><circle cx="244.01" cy="333.12" r="3"/><circle cx="247.21" cy="334.92" r="3"/><circle cx="250.41" cy="336.72" r="3"/><circle cx="253.61" cy="338.52" r="3"/><circle cx="257.61" cy="340.02" r="3"/><circle cx="261.61" cy="341.52" r="3"/><circle cx="265.61" cy="343.02" r="3"/><circle cx="269.61" cy="344.52" r="3"/><circle cx="273.61" cy="345.27" r="3"/><circle cx="277.61" cy="346.02" r="3"/><circle cx="281.61" cy="346.77" r="3"/><circle cx="285.61" cy="347.52" r="3"/><circle cx="289.36" cy="347.77" r="3"/><circle cx="293.11" cy="348.02" r="3"/><circle cx="296.86" cy="348.27" r="3"/><circle cx="300.61" cy="348.52" r="3"/><circle cx="300" cy="344.9" r="3"/><circle cx="248.63" cy="311.63" r="3"/><circle cx="244" cy="309.6" r="3"/><circle cx="239.87" cy="306.13" r="3"/><circle cx="236.87" cy="303.13" r="3"/><circle cx="233.87" cy="300.13" r="3"/><circle cx="230.52" cy="296.61" r="3"/><circle cx="228.02" cy="293.36" r="3"/><circle cx="225.52" cy="290.11" r="3"/><circle cx="223.02" cy="286.86" r="3"/><circle cx="220.52" cy="283.61" r="3"/><circle cx="218.52" cy="280.01" r="3"/><circle cx="216.52" cy="276.41" r="3"/><circle cx="214.52" cy="272.81" r="3"/><circle cx="212.52" cy="269.21" r="3"/><circle cx="210.52" cy="265.61" r="3"/><circle cx="208.86" cy="262.28" r="3"/><circle cx="207.19" cy="258.95" r="3"/><circle cx="205.52" cy="255.61" r="3"/><circle cx="203.86" cy="252.28" r="3"/><circle cx="202.19" cy="248.95" r="3"/><circle cx="200.52" cy="245.61" r="3"/><circle cx="198.52" cy="242.21" r="3"/><circle cx="196.52" cy="238.81" r="3"/><circle cx="194.52" cy="235.41" r="3"/><circle cx="192.52" cy="232.01" r="3"/><circle cx="190.52" cy="228.61" r="3"/><circle cx="188.72" cy="225.41" r="3"/><circle cx="186.92" cy="222.21" r="3"/><circle cx="185.12" cy="219.01" r="3"/><circle cx="183.32" cy="215.81" r="3"/><circle cx="182.39" cy="213.48" r="3"/><circle cx="179.86" cy="214.48" r="3"/><circle cx="176.11" cy="215.48" r="3"/><circle cx="172.36" cy="216.48" r="3"/><circle cx="246.6" cy="300" r="3"/><circle cx="248.98" cy="297.61" r="3"/><circle cx="251.48" cy="294.61" r="3"/><circle cx="253.98" cy="291.61" r="3"/><circle cx="256.13" cy="289.13" r="3"/><circle cx="259.61" cy="288.88" r="3"/><circle cx="263" cy="288.4" r="3"/><circle cx="267" cy="287.8" r="3"/><circle cx="271" cy="287.2" r="3"/><circle cx="276.6" cy="285" r="3"/><circle cx="280.81" cy="287.28" r="3"/><circle cx="284.8" cy="289.46" r="3"/><circle cx="304.11" cy="347.36" r="3"/><circle cx="300" cy="347.4" r="3"/><circle cx="296" cy="346.6" r="3"/><circle cx="292" cy="345.8" r="3"/><circle cx="288" cy="345" r="3"/><circle cx="284" cy="344.2" r="3"/><circle cx="280" cy="343.4" r="3"/><circle cx="248.63" cy="312.13" r="3"/><circle cx="248.14" cy="307.95" r="3"/><circle cx="247.31" cy="303.05" r="3"/><circle cx="311.39" cy="281.52" r="3"/><circle cx="310.02" cy="285.89" r="3"/><circle cx="309.52" cy="289.39" r="3"/><circle cx="309.4" cy="293.5" r="3"/><circle cx="309.52" cy="297.61" r="3"/><circle cx="311.27" cy="301.96" r="3"/><circle cx="313.02" cy="306.31" r="3"/><circle cx="315.42" cy="309.95" r="3"/><circle cx="317.82" cy="313.58" r="3"/><circle cx="320.57" cy="317.73" r="3"/><circle cx="324.74" cy="321.68" r="3"/><circle cx="328.39" cy="325.28" r="3"/><circle cx="331.59" cy="327.32" r="3"/><circle cx="334.79" cy="329.36" r="3"/><circle cx="337.99" cy="331.4" r="3"/><circle cx="341.19" cy="333.44" r="3"/><circle cx="344.39" cy="335.48" r="3"/><circle cx="347.96" cy="335.91" r="3"/><circle cx="351.53" cy="336.34" r="3"/><circle cx="355.1" cy="336.76" r="3"/><circle cx="358.67" cy="337.19" r="3"/><circle cx="362.24" cy="337.62" r="3"/><circle cx="365.82" cy="338.05" r="3"/><circle cx="369.39" cy="338.48" r="3"/><circle cx="373.14" cy="338.98" r="3"/><circle cx="376.89" cy="339.48" r="3"/><circle cx="380.64" cy="339.98" r="3"/><circle cx="384.39" cy="340.48" r="3"/><circle cx="388.14" cy="341.73" r="3"/><circle cx="391.89" cy="342.98" r="3"/><circle cx="395.64" cy="344.23" r="3"/><circle cx="399.39" cy="345.48" r="3"/><circle cx="402.72" cy="348.14" r="3"/><circle cx="406.05" cy="350.81" r="3"/><circle cx="408.87" cy="353.13" r="3"/><circle cx="410.52" cy="357.11" r="3"/><circle cx="412.52" cy="361.61" r="3"/><circle cx="414.52" cy="365.11" r="3"/><circle cx="416.52" cy="368.61" r="3"/><circle cx="419.87" cy="374.13" r="3"/><circle cx="422" cy="381.4" r="3"/><circle cx="416" cy="383.4" r="3"/><circle cx="412.61" cy="381.02" r="3"/><circle cx="408.61" cy="378.52" r="3"/><circle cx="405.28" cy="376.19" r="3"/><circle cx="401.95" cy="373.86" r="3"/><circle cx="398.61" cy="371.52" r="3"/><circle cx="393.61" cy="370.02" r="3"/><circle cx="388.61" cy="368.52" r="3"/><circle cx="383.61" cy="368.02" r="3"/><circle cx="378.61" cy="367.52" r="3"/><circle cx="374.28" cy="366.86" r="3"/><circle cx="369.95" cy="366.19" r="3"/><circle cx="365.61" cy="365.52" r="3"/><circle cx="361.86" cy="365.27" r="3"/><circle cx="358.11" cy="365.02" r="3"/><circle cx="354.36" cy="364.77" r="3"/><circle cx="350" cy="364.4" r="3"/><circle cx="345.64" cy="364.77" r="3"/><circle cx="341.89" cy="365.02" r="3"/><circle cx="338.14" cy="365.27" r="3"/><circle cx="335" cy="365.4" r="3"/><circle cx="331.28" cy="364.52" r="3"/><circle cx="326.95" cy="363.52" r="3"/><circle cx="322.61" cy="362.52" r="3"/><circle cx="320.63" cy="360.37" r="3"/><circle cx="318.13" cy="357.87" r="3"/><circle cx="315.63" cy="355.37" r="3"/><circle cx="313.13" cy="352.87" r="3"/><circle cx="308.61" cy="350.86" r="3"/><circle cx="304.61" cy="349.19" r="3"/><circle cx="300" cy="347.4" r="3"/><circle cx="291.41" cy="327.88" r="3"/><circle cx="284.05" cy="306.52" r="3"/><circle cx="283.33" cy="302.4" r="3"/><circle cx="218.61" cy="254.52" r="3"/><circle cx="222" cy="253.4" r="3"/><circle cx="225.39" cy="252.52" r="3"/><circle cx="229.39" cy="251.52" r="3"/><circle cx="233.39" cy="251.19" r="3"/><circle cx="237.39" cy="250.86" r="3"/><circle cx="242.61" cy="250.52" r="3"/><circle cx="245.63" cy="253.37" r="3"/><circle cx="248.13" cy="255.87" r="3"/><circle cx="250.63" cy="258.37" r="3"/><circle cx="253.13" cy="260.87" r="3"/><circle cx="255.63" cy="263.37" r="3"/><circle cx="258.13" cy="265.87" r="3"/><circle cx="260.63" cy="268.37" r="3"/><circle cx="262.61" cy="270.52" r="3"/><circle cx="265.95" cy="273.19" r="3"/><circle cx="269.28" cy="275.86" r="3"/><circle cx="272.61" cy="278.52" r="3"/><circle cx="275.95" cy="280.52" r="3"/><circle cx="280.14" cy="283.39" r="3"/><circle cx="283.6" cy="286" r="3"/><circle cx="279.48" cy="287.28" r="3"/><circle cx="274.61" cy="288.81" r="3"/><circle cx="270" cy="289.6" r="3"/><circle cx="265.64" cy="288.98" r="3"/><circle cx="262.5" cy="288.6" r="3"/><circle cx="258.75" cy="288.1" r="3"/><circle cx="255.61" cy="287.48" r="3"/><circle cx="277.87" cy="304.87" r="3"/><circle cx="282.72" cy="304.19" r="3"/><circle cx="287.05" cy="303.86" r="3"/><circle cx="292.61" cy="303.52" r="3"/><circle cx="295.98" cy="308.89" r="3"/><circle cx="298.6" cy="314" r="3"/><circle cx="298.14" cy="318.61" r="3"/><circle cx="297.81" cy="322.61" r="3"/><circle cx="297.13" cy="327.13" r="3"/><circle cx="292.61" cy="328.14" r="3"/><circle cx="288.61" cy="328.81" r="3"/><circle cx="283.39" cy="329.48" r="3"/><circle cx="280.52" cy="325.28" r="3"/><circle cx="278.52" cy="321.95" r="3"/><circle cx="276.4" cy="318" r="3"/><circle cx="276.86" cy="313.39" r="3"/><circle cx="277.19" cy="309.39" r="3"/><circle cx="193.53" cy="213.19" r="3"/><circle cx="195.59" cy="211.15" r="3"/><circle cx="195.74" cy="215.08" r="3"/><circle cx="198.32" cy="213.38" r="3"/><circle cx="198.99" cy="217.65" r="3"/><circle cx="201.05" cy="215.61" r="3"/><circle cx="201.72" cy="219.88" r="3"/><circle cx="203.78" cy="217.84" r="3"/><circle cx="204.8" cy="222.63" r="3"/><circle cx="206.51" cy="220.07" r="3"/><circle cx="209.24" cy="222.3" r="3"/><circle cx="211.97" cy="224.53" r="3"/><circle cx="214.7" cy="226.76" r="3"/><circle cx="217.43" cy="228.99" r="3"/><circle cx="220.16" cy="231.22" r="3"/><circle cx="222.89" cy="233.45" r="3"/><circle cx="225.62" cy="235.68" r="3"/><circle cx="228.35" cy="237.91" r="3"/><circle cx="231.08" cy="240.14" r="3"/><circle cx="235.03" cy="242.37" r="3"/><circle cx="236.08" cy="248.4" r="3"/><circle cx="238.2" cy="250.76" r="3"/><circle cx="242.15" cy="252.99" r="3"/><circle cx="245.4" cy="255.56" r="3"/><circle cx="247.9" cy="257.58" r="3"/><circle cx="250.54" cy="260.24" r="3"/><circle cx="253.18" cy="262.9" r="3"/><circle cx="255.82" cy="265.56" r="3"/><circle cx="258.46" cy="268.22" r="3"/><circle cx="261.19" cy="270.97" r="3"/><circle cx="263.77" cy="273.37" r="3"/><circle cx="266.36" cy="275.77" r="3"/><circle cx="268.42" cy="277.82" r="3"/><circle cx="271" cy="280.22" r="3"/><circle cx="274.11" cy="282.97" r="3"/><circle cx="278.19" cy="278.57" r="3"/><circle cx="275.59" cy="288.13" r="3"/><circle cx="280.22" cy="280.59" r="3"/><circle cx="278.98" cy="290.51" r="3"/><circle cx="283.98" cy="284.57" r="3"/><circle cx="289.9" cy="300.97" r="3"/><circle cx="293.24" cy="304.37" r="3"/><circle cx="295.82" cy="307.86" r="3"/><circle cx="298.05" cy="310.83" r="3"/><circle cx="300.28" cy="313.79" r="3"/><circle cx="411.24" cy="376.71" r="3"/><circle cx="414.29" cy="378.71" r="3"/><circle cx="416.41" cy="374.29" r="3"/><circle cx="417.41" cy="381" r="3"/><circle cx="417.3" cy="375.13" r="3"/><circle cx="421.89" cy="381.25" r="3"/><circle cx="421.51" cy="376.02" r="3"/><circle cx="426.37" cy="381.74" r="3"/><circle cx="425.9" cy="376.73" r="3"/></g>
<path d="M292.46 210.33h1.3v1.3h-1.3zM307.96 208.63h1.3v1.3h-1.3zM311.96 208.03h1.3v1.3h-1.3zM315.96 207.43h1.3v1.3h-1.3zM326.96 199.83h1.3v1.3h-1.3zM343.22 199.48h1.3v1.3h-1.3zM343.21 203.3h1.3v1.3h-1.3zM344.22 212.48h1.3v1.3h-1.3zM348.54 213.83h1.3v1.3h-1.3zM352.34 214.83h1.3v1.3h-1.3zM356.14 215.83h1.3v1.3h-1.3zM363.74 217.83h1.3v1.3h-1.3zM382.22 231.48h1.3v1.3h-1.3zM402.35 235.95h1.3v1.3h-1.3zM405.4 236.16h1.3v1.3h-1.3zM409.07 236.49h1.3v1.3h-1.3zM412.22 236.48h1.3v1.3h-1.3zM415.87 242.74h1.3v1.3h-1.3zM409.07 245.04h1.3v1.3h-1.3zM398.07 245.54h1.3v1.3h-1.3zM394.4 245.71h1.3v1.3h-1.3zM379.35 245.75h1.3v1.3h-1.3zM377.81 243.55h1.3v1.3h-1.3zM370.33 234.24h1.3v1.3h-1.3zM367.48 229.22h1.3v1.3h-1.3zM363.3 228.37h1.3v1.3h-1.3zM349.74 228.12h1.3v1.3h-1.3zM344.74 228.87h1.3v1.3h-1.3zM340.74 231.87h1.3v1.3h-1.3zM335.75 236.35h1.3v1.3h-1.3zM342.74 242.49h1.3v1.3h-1.3zM348.99 246.33h1.3v1.3h-1.3zM352.24 247.83h1.3v1.3h-1.3zM358.74 250.83h1.3v1.3h-1.3zM366.22 253.48h1.3v1.3h-1.3zM366.87 257.46h1.3v1.3h-1.3zM367.75 261.35h1.3v1.3h-1.3zM365.37 263.74h1.3v1.3h-1.3zM357.74 270.54h1.3v1.3h-1.3zM351.74 275.21h1.3v1.3h-1.3zM348.74 277.54h1.3v1.3h-1.3zM337.24 280.37h1.3v1.3h-1.3zM328.74 280.87h1.3v1.3h-1.3zM324.49 281.12h1.3v1.3h-1.3zM315.99 281.62h1.3v1.3h-1.3zM311.22 282.22h1.3v1.3h-1.3zM307.62 284.74h1.3v1.3h-1.3zM274.48 265.48h1.3v1.3h-1.3zM270.48 259.48h1.3v1.3h-1.3zM269.33 251.96h1.3v1.3h-1.3zM271.26 228.82h1.3v1.3h-1.3zM271.4 225.11h1.3v1.3h-1.3zM228.74 239.83h1.3v1.3h-1.3zM233.1 239.7h1.3v1.3h-1.3zM244.35 238.95h1.3v1.3h-1.3zM256.22 245.48h1.3v1.3h-1.3zM258.54 248.63h1.3v1.3h-1.3zM261.21 252.3h1.3v1.3h-1.3zM266.72 257.22h1.3v1.3h-1.3zM281.2 286.76h1.3v1.3h-1.3zM272.4 277.37h1.3v1.3h-1.3zM270.33 275.32h1.3v1.3h-1.3zM265.16 270.52h1.3v1.3h-1.3zM262.58 268.12h1.3v1.3h-1.3zM252.02 257.48h1.3v1.3h-1.3zM246.16 252.17h1.3v1.3h-1.3zM242.41 249.17h1.3v1.3h-1.3zM197.48 215.22h1.3v1.3h-1.3zM199.48 218.22h1.3v1.3h-1.3zM201.83 221.74h1.3v1.3h-1.3zM203.83 224.74h1.3v1.3h-1.3zM205.49 228.74h1.3v1.3h-1.3zM208.83 236.74h1.3v1.3h-1.3zM210.43 239.86h1.3v1.3h-1.3zM222.35 252.55h1.3v1.3h-1.3zM225.85 253.15h1.3v1.3h-1.3zM229.35 253.75h1.3v1.3h-1.3zM243.46 249.73h1.3v1.3h-1.3zM222.22 234.88h1.3v1.3h-1.3zM216.22 229.28h1.3v1.3h-1.3zM173.33 224.24h1.3v1.3h-1.3zM179.83 237.14h1.3v1.3h-1.3zM189.49 254.4h1.3v1.3h-1.3zM194.49 265.4h1.3v1.3h-1.3zM202.33 282.74h1.3v1.3h-1.3zM206.83 292.74h1.3v1.3h-1.3zM210.83 299.74h1.3v1.3h-1.3zM214.83 306.74h1.3v1.3h-1.3zM222.33 316.49h1.3v1.3h-1.3zM236.96 328.87h1.3v1.3h-1.3zM240.16 330.67h1.3v1.3h-1.3zM243.36 332.47h1.3v1.3h-1.3zM249.76 336.07h1.3v1.3h-1.3zM252.96 337.87h1.3v1.3h-1.3zM264.96 342.37h1.3v1.3h-1.3zM272.96 344.62h1.3v1.3h-1.3zM280.96 346.12h1.3v1.3h-1.3zM284.96 346.87h1.3v1.3h-1.3zM299.96 347.87h1.3v1.3h-1.3zM247.98 310.98h1.3v1.3h-1.3zM243.35 308.95h1.3v1.3h-1.3zM224.87 289.46h1.3v1.3h-1.3zM222.37 286.21h1.3v1.3h-1.3zM217.87 279.36h1.3v1.3h-1.3zM215.87 275.76h1.3v1.3h-1.3zM213.87 272.16h1.3v1.3h-1.3zM208.21 261.63h1.3v1.3h-1.3zM201.54 248.3h1.3v1.3h-1.3zM199.87 244.96h1.3v1.3h-1.3zM195.87 238.16h1.3v1.3h-1.3zM189.87 227.96h1.3v1.3h-1.3zM186.27 221.56h1.3v1.3h-1.3zM184.47 218.36h1.3v1.3h-1.3zM181.74 212.83h1.3v1.3h-1.3zM175.46 214.83h1.3v1.3h-1.3zM171.71 215.83h1.3v1.3h-1.3zM245.95 299.35h1.3v1.3h-1.3zM250.83 293.96h1.3v1.3h-1.3zM270.35 286.55h1.3v1.3h-1.3zM280.16 286.63h1.3v1.3h-1.3zM284.15 288.81h1.3v1.3h-1.3zM295.35 345.95h1.3v1.3h-1.3zM291.35 345.15h1.3v1.3h-1.3zM287.35 344.35h1.3v1.3h-1.3zM246.66 302.4h1.3v1.3h-1.3zM308.87 288.74h1.3v1.3h-1.3zM310.62 301.31h1.3v1.3h-1.3zM319.92 317.08h1.3v1.3h-1.3zM343.74 334.83h1.3v1.3h-1.3zM361.59 336.97h1.3v1.3h-1.3zM383.74 339.83h1.3v1.3h-1.3zM394.99 343.58h1.3v1.3h-1.3zM398.74 344.83h1.3v1.3h-1.3zM402.07 347.49h1.3v1.3h-1.3zM411.87 360.96h1.3v1.3h-1.3zM415.87 367.96h1.3v1.3h-1.3zM421.35 380.75h1.3v1.3h-1.3zM415.35 382.75h1.3v1.3h-1.3zM407.96 377.87h1.3v1.3h-1.3zM404.63 375.54h1.3v1.3h-1.3zM369.3 365.54h1.3v1.3h-1.3zM364.96 364.87h1.3v1.3h-1.3zM357.46 364.37h1.3v1.3h-1.3zM334.35 364.75h1.3v1.3h-1.3zM330.63 363.87h1.3v1.3h-1.3zM319.98 359.72h1.3v1.3h-1.3zM303.96 348.54h1.3v1.3h-1.3zM282.68 301.75h1.3v1.3h-1.3zM224.74 251.87h1.3v1.3h-1.3zM244.98 252.72h1.3v1.3h-1.3zM249.98 257.72h1.3v1.3h-1.3zM257.48 265.22h1.3v1.3h-1.3zM261.96 269.87h1.3v1.3h-1.3zM265.3 272.54h1.3v1.3h-1.3zM279.49 282.74h1.3v1.3h-1.3zM282.95 285.35h1.3v1.3h-1.3zM269.35 288.95h1.3v1.3h-1.3zM261.85 287.95h1.3v1.3h-1.3zM258.1 287.45h1.3v1.3h-1.3zM254.96 286.83h1.3v1.3h-1.3zM282.07 303.54h1.3v1.3h-1.3zM286.4 303.21h1.3v1.3h-1.3zM295.33 308.24h1.3v1.3h-1.3zM297.49 317.96h1.3v1.3h-1.3zM296.48 326.48h1.3v1.3h-1.3zM291.96 327.49h1.3v1.3h-1.3zM282.74 328.83h1.3v1.3h-1.3zM279.87 324.63h1.3v1.3h-1.3zM277.87 321.3h1.3v1.3h-1.3zM276.21 312.74h1.3v1.3h-1.3zM276.54 308.74h1.3v1.3h-1.3zM201.07 219.23h1.3v1.3h-1.3zM208.59 221.65h1.3v1.3h-1.3zM211.32 223.88h1.3v1.3h-1.3zM216.78 228.34h1.3v1.3h-1.3zM224.97 235.03h1.3v1.3h-1.3zM227.7 237.26h1.3v1.3h-1.3zM234.38 241.72h1.3v1.3h-1.3zM235.43 247.75h1.3v1.3h-1.3zM241.5 252.34h1.3v1.3h-1.3zM247.25 256.93h1.3v1.3h-1.3zM249.89 259.59h1.3v1.3h-1.3zM255.17 264.91h1.3v1.3h-1.3zM257.81 267.57h1.3v1.3h-1.3zM267.77 277.17h1.3v1.3h-1.3zM279.57 279.94h1.3v1.3h-1.3zM278.33 289.86h1.3v1.3h-1.3zM283.33 283.92h1.3v1.3h-1.3zM289.25 300.32h1.3v1.3h-1.3zM299.63 313.14h1.3v1.3h-1.3zM410.59 376.06h1.3v1.3h-1.3zM413.64 378.06h1.3v1.3h-1.3zM421.24 380.6h1.3v1.3h-1.3zM420.86 375.37h1.3v1.3h-1.3z" fill="#2020ff"/>
<path d="M194.3 212L194.3 184.4M194.3 212L232 184.4M194.3 212L269.9 184.4M194.3 212L307.6 184.4M194.3 212L355.1 206.3M194.3 212L392.7 219.4M194.3 212L260.8 205.3M194.3 212L279.6 205.3M194.3 212L298.4 205.3M194.3 212L317.3 205.3M194.3 212L330.7 200.8M194.3 212L341.5 200.8M194.3 212L384 214M194.3 212L400 212M194.3 212L260.6 220M194.3 212L260.6 233M194.3 212L259.7 276.5M194.3 212L279.6 276.5M194.3 212L241 237M194.3 212L357.2 213.1M194.3 212L363.5 213.1M194.3 212L369.8 213.1M194.3 212L378.9 213.1M194.3 212L274 223.2M194.3 212L274 265.8M194.3 212L412 222M194.3 212L416.9 236.9M194.3 212L407.4 230.1M194.3 212L398 238M194.3 212L262.91 257.44M194.3 212L253.26 223.39M194.3 212L273.88 243.91M194.3 212L269.42 244.44M194.3 212L263.89 216.1M194.3 212L264.8 208.57M194.3 212L270.61 211.48M194.3 212L249.81 221.88M194.3 212L273.03 240.95M194.3 212L263.55 229.19M194.3 212L260.2 236.57M194.3 212L264.8 217.19M194.3 212L271.33 252.51M194.3 212L265.99 221.37M194.3 212L269.29 252.9M194.3 212L253.98 208.52M194.3 212L257.49 216.12M194.3 212L270.44 206.84M194.3 212L263.21 206.91M194.3 212L266.12 231.79M194.3 212L254.67 209.7M194.3 212L262.79 205.73M194.3 212L251.53 238.49M194.3 212L263.09 216.59M194.3 212L271.11 235.87M194.3 212L272.34 247.11M194.3 212L252.65 229.19M194.3 212L273.38 248.34M194.3 212L257.63 253.46M194.3 212L263.24 258M194.3 212L263.57 243.56M194.3 212L265.02 233.67M194.3 212L265.79 267.21M194.3 212L272.97 224.85M194.3 212L256.19 230.2M194.3 212L254.68 222.36M194.3 212L268.51 223.77M194.3 212L251.25 240.87M194.3 212L265.55 211.86M194.3 212L255.02 232.04M194.3 212L269.34 241.14M194.3 212L269.95 217.73M194.3 212L258.63 222.58M194.3 212L251.14 227.24M194.3 212L255.67 214.28M194.3 212L253.59 233.13M194.3 212L257.67 239.52M194.3 212L273.63 240.79M194.3 212L254.09 232.67M194.3 212L252.37 208.92M194.3 212L262.48 227.97M194.3 212L268.69 206.92M194.3 212L266.87 217.95M194.3 212L263.14 232.7M194.3 212L255.85 220.17M194.3 212L270.15 207.34M194.3 212L253.6 226.37M194.3 212L260.76 239.8M194.3 212L246.05 207.77M194.3 212L249.55 213.84M194.3 212L269.92 210.49M194.3 212L260.06 230.48M194.3 212L254.81 233.56M194.3 212L251.35 231.6M194.3 212L256.65 209.95M194.3 212L251 235.47M194.3 212L263.44 240.55M194.3 212L248 239.97M194.3 212L272.22 235.56M194.3 212L259 213.71M194.3 212L261.79 211.97M194.3 212L247.24 210.99M194.3 212L269.56 213.55M194.3 212L272.67 253.38M194.3 212L268.36 206.16M194.3 212L267.49 247.49M194.3 212L266.02 212.29M194.3 212L247.71 231.21M194.3 212L252.78 218.64M194.3 212L257.02 234.97M194.3 212L257.11 233.47M194.3 212L257.71 210.24M194.3 212L250.18 211.34M194.3 212L260.48 241.55M194.3 212L266.13 219.19M194.3 212L253.49 220.33M194.3 212L262.4 230.39M194.3 212L272.7 228.74M194.3 212L265.75 238.95M194.3 212L259.43 236.3M194.3 212L250.82 234.36M194.3 212L261.6 244.87M194.3 212L272.89 243.66M194.3 212L252.43 223.43M194.3 212L269.91 224.06M194.3 212L251.31 225.5M194.3 212L254.78 239.83M194.3 212L266.41 210.48M194.3 212L254.17 234.03M194.3 212L262.25 261.77M194.3 212L255.37 240.95M194.3 212L259.61 221.28M194.3 212L256.95 250.36M194.3 212L253.69 260.89M194.3 212L267.21 228.71M194.3 212L263.66 218.58M194.3 212L272.09 215.3M194.3 212L258.82 230.18M194.3 212L250.94 208.97M194.3 212L266.71 234.25M194.3 212L311.9 211.82M194.3 212L340.57 208.69M194.3 212L319.94 212.28M194.3 212L344.98 220.75M194.3 212L322.35 222.48M194.3 212L373.48 219.73M194.3 212L330 220.1M194.3 212L327.81 207.45M194.3 212L343.31 216.07M194.3 212L304.25 208.75M194.3 212L376.38 223.5M194.3 212L346.31 216.41M194.3 212L356.04 225.47M194.3 212L352.16 219.72M194.3 212L280.28 220.72M194.3 212L342.84 213.59M194.3 212L303.21 215.18M194.3 212L284.45 214.51M194.3 212L347.92 225.06M194.3 212L286.07 211.28M194.3 212L344.67 224.39M194.3 212L318.77 223.02M194.3 212L376.8 224.43M194.3 212L299.3 214.43M194.3 212L330.65 217.93M194.3 212L316.56 213.68M194.3 212L301.67 223.69M194.3 212L324.52 215.17M194.3 212L312.81 235.4M194.3 212L280.15 234.78M194.3 212L323.07 232.03M194.3 212L305.3 234.2M194.3 212L291.51 233.17M194.3 212L302.21 233.07M194.3 212L281.51 230.62M194.3 212L289.25 246.59M194.3 212L283.28 226.94M194.3 212L304.64 243.13M194.3 212L302.18 242.66M194.3 212L292.04 229.96M194.3 212L306.1 232.92M194.3 212L314.23 240.55M194.3 212L286.82 228.18M194.3 212L320.02 237.55M194.3 212L200.44 272.42M194.3 212L256.03 330.68M194.3 212L250.35 332.49M194.3 212L222.58 284.21M194.3 212L241.53 318.25M194.3 212L209.27 297.69M194.3 212L240.22 304.47M194.3 212L258.1 331.88M194.3 212L235.32 311.56M194.3 212L255.58 340.94M194.3 212L251.88 297.06M194.3 212L251.55 320.2M194.3 212L261.06 336.48M194.3 212L256.1 323.24M194.3 212L237.79 311.76M194.3 212L261.78 341.66M194.3 212L208.33 291.41M194.3 212L232.14 313.69M194.3 212L280.95 321.75M194.3 212L221.14 285.17M194.3 212L264.17 300.59M194.3 212L217.43 280.15M194.3 212L258.21 326.27M194.3 212L241.44 329.85M194.3 212L243.01 318.08M194.3 212L260.1 328.58M194.3 212L240.92 321.62M194.3 212L265.84 340.71M194.3 212L236.07 310.43M194.3 212L244.51 319.17M194.3 212L216.74 276.52M194.3 212L257.04 341.22M194.3 212L232.9 301.1M194.3 212L253 330.29M194.3 212L250.25 316.63M194.3 212L227.87 307.5M194.3 212L224.28 293.88M194.3 212L221.32 290.06M194.3 212L226.45 305.37M194.3 212L247.31 313.16M194.3 212L240.66 328.59M194.3 212L263.37 338.07M194.3 212L238.36 327.99M194.3 212L264.5 343.85M194.3 212L239.21 330.99M194.3 212L232.33 310.7M194.3 212L258.15 329.08M194.3 212L219.34 280.94M194.3 212L246.89 306.46M194.3 212L246.62 334.43M194.3 212L253.41 323.39M194.3 212L254.29 334.02M194.3 212L237.89 315.83M194.3 212L202.98 272.12M194.3 212L236.57 307.81M194.3 212L246.91 307.23M194.3 212L236.67 329.05M194.3 212L230.97 307.85M194.3 212L230.81 298.61M194.3 212L277.05 328.22M194.3 212L245.42 310.25M194.3 212L247.4 321.69M194.3 212L237.88 305.43M194.3 212L237.34 323.19M194.3 212L238 313.46M194.3 212L258.38 332.3M194.3 212L252.53 331.43M194.3 212L256.7 327.24M194.3 212L264.88 337.12M194.3 212L240.36 331.3M194.3 212L254.98 322.82M194.3 212L253.15 326.92M194.3 212L224.29 291M194.3 212L221.35 285.97M194.3 212L235.2 320.02M194.3 212L186.71 241.33M194.3 212L195.5 242.39M194.3 212L195.24 245.3M194.3 212L192.04 228.76M194.3 212L195.59 256.47M194.3 212L194.92 261.79M194.3 212L190.35 247.03M194.3 212L192.31 250.28M194.3 212L196.13 252.78M194.3 212L197.72 250.71M194.3 212L191.95 256.3M194.3 212L188.76 240.82M194.3 212L196.31 245.57M194.3 212L195.88 259.53M194.3 212L194.67 264.57M194.3 212L192.31 236.43M194.3 212L196.94 249.14M194.3 212L199.35 259.61M194.3 212L192.28 231.08M194.3 212L194.32 248.68M194.3 212L186.85 239.09M194.3 212L188.76 253.33" stroke="#ff0000" stroke-width="1.05" fill="none"/>
<path d="M270 225L295 232L320 245L345 262M290 215L320 222L350 232L372 238M300 240L320 250L335 265L350 272M330 215L360 222L390 228L410 232M315 338L335 342L350 350L360 368M300 252L318 262L330 276M330 352L345 354L355 360L358 372M300 230L330 236L356 246M262 300L275 315L285 335M280 250L295 258L305 270L320 275M285 262L300 272L310 282M310 230L325 240L340 250L352 258M320 255L335 262L345 270L360 268M290 240L310 250L318 262M340 222L360 228L376 232" stroke="#ff0000" stroke-width="1.4" fill="none"/>
<polygon points="199,220 205,229 209,239 216,252 230,255 243,256.5 246,255 232,243 218,230 205,220" fill="#00ff00"/>
<path d="M206 232h1.2v1.2h-1.2zM212 240h1.2v1.2h-1.2zM218 247h1.2v1.2h-1.2zM224 244h1.2v1.2h-1.2zM230 250h1.2v1.2h-1.2zM238 252h1.2v1.2h-1.2zM214 233h1.2v1.2h-1.2zM222 238h1.2v1.2h-1.2zM210 247h1.2v1.2h-1.2zM228 242h1.2v1.2h-1.2z" fill="#2020ff"/>
<g fill="none" stroke="#00ff00" stroke-width="1.1"><circle cx="156.4" cy="156.2" r="3.1"/><circle cx="185" cy="163.3" r="3.1"/><circle cx="203.9" cy="163.3" r="3.1"/><circle cx="222.7" cy="163.3" r="3.1"/><circle cx="237" cy="167" r="3.1"/><circle cx="246.4" cy="167" r="3.1"/><circle cx="270" cy="156.3" r="3.1"/><circle cx="298" cy="163.3" r="3.1"/><circle cx="317.7" cy="163.4" r="3.1"/><circle cx="336.7" cy="163.4" r="3.1"/><circle cx="166" cy="177.3" r="3.1"/><circle cx="166" cy="191.5" r="3.1"/><circle cx="166" cy="205.4" r="3.1"/><circle cx="170" cy="216" r="3.1"/><circle cx="346" cy="184.6" r="3.1"/><circle cx="370.2" cy="195.3" r="3.1"/><circle cx="374.2" cy="205.7" r="3.1"/><circle cx="388.3" cy="209.4" r="3.1"/><circle cx="398" cy="209.4" r="3.1"/><circle cx="407.4" cy="209.4" r="3.1"/><circle cx="412" cy="220" r="3.1"/><circle cx="407.4" cy="230.1" r="3.1"/><circle cx="416.9" cy="230.1" r="3.1"/><circle cx="416.9" cy="236.9" r="3.1"/><circle cx="429" cy="366.5" r="3.1"/><circle cx="436" cy="365.2" r="3.1"/><circle cx="443.1" cy="367.2" r="3.1"/><circle cx="448.1" cy="367.2" r="3.1"/><circle cx="455.2" cy="365.2" r="3.1"/><circle cx="460.2" cy="367.8" r="3.1"/><circle cx="464.2" cy="367.2" r="3.1"/><circle cx="467.2" cy="366.6" r="3.1"/><circle cx="474.3" cy="365.2" r="3.1"/><circle cx="497.4" cy="354.6" r="3.1"/><circle cx="478.3" cy="425" r="3.1"/><circle cx="432" cy="389.8" r="3.1"/><circle cx="421.5" cy="411" r="3.1"/><circle cx="351.7" cy="371.3" r="3.1"/><circle cx="359.7" cy="371.3" r="3.1"/><circle cx="352.8" cy="365" r="3.1"/><circle cx="233" cy="236" r="3.1"/><circle cx="212" cy="233" r="3.1"/><circle cx="224" cy="248" r="3.1"/><circle cx="236" cy="264" r="3.1"/><circle cx="229" cy="292" r="3.1"/><circle cx="228" cy="287" r="3.1"/><circle cx="242" cy="305" r="3.1"/><circle cx="246" cy="314" r="3.1"/><circle cx="255" cy="288" r="3.1"/><circle cx="256" cy="294" r="3.1"/><circle cx="254" cy="301" r="3.1"/><circle cx="264" cy="303" r="3.1"/><circle cx="265" cy="322" r="3.1"/><circle cx="194.3" cy="184.4" r="3.1"/><circle cx="232" cy="184.4" r="3.1"/><circle cx="269.9" cy="184.4" r="3.1"/><circle cx="307.6" cy="184.4" r="3.1"/><circle cx="355.1" cy="206.3" r="3.1"/><circle cx="392.7" cy="219.4" r="3.1"/><circle cx="260.8" cy="205.3" r="3.1"/><circle cx="279.6" cy="205.3" r="3.1"/><circle cx="298.4" cy="205.3" r="3.1"/><circle cx="317.3" cy="205.3" r="3.1"/><circle cx="330.7" cy="200.8" r="3.1"/><circle cx="341.5" cy="200.8" r="3.1"/><circle cx="497.4" cy="382.7" r="3.1"/><circle cx="459.8" cy="383.4" r="3.1"/><circle cx="384" cy="214" r="3.1"/><circle cx="400" cy="212" r="3.1"/><circle cx="260.6" cy="220" r="3.1"/><circle cx="260.6" cy="233" r="3.1"/><circle cx="259.7" cy="276.5" r="3.1"/><circle cx="279.6" cy="276.5" r="3.1"/><circle cx="241" cy="237" r="3.1"/><circle cx="357.2" cy="213.1" r="3.1"/><circle cx="363.5" cy="213.1" r="3.1"/><circle cx="369.8" cy="213.1" r="3.1"/><circle cx="378.9" cy="213.1" r="3.1"/><circle cx="274" cy="223.2" r="3.1"/><circle cx="274" cy="265.8" r="3.1"/><circle cx="194.3" cy="212" r="3.1"/></g>
<g fill="#0000ff"><circle cx="194.3" cy="184.4" r="1.5"/><circle cx="232" cy="184.4" r="1.5"/><circle cx="269.9" cy="184.4" r="1.5"/><circle cx="307.6" cy="184.4" r="1.5"/><circle cx="355.1" cy="206.3" r="1.5"/><circle cx="392.7" cy="219.4" r="1.5"/><circle cx="260.8" cy="205.3" r="1.5"/><circle cx="279.6" cy="205.3" r="1.5"/><circle cx="298.4" cy="205.3" r="1.5"/><circle cx="317.3" cy="205.3" r="1.5"/><circle cx="330.7" cy="200.8" r="1.5"/><circle cx="341.5" cy="200.8" r="1.5"/><circle cx="497.4" cy="382.7" r="1.5"/><circle cx="459.8" cy="383.4" r="1.5"/><circle cx="384" cy="214" r="1.5"/><circle cx="400" cy="212" r="1.5"/><circle cx="260.6" cy="220" r="1.5"/><circle cx="260.6" cy="233" r="1.5"/><circle cx="259.7" cy="276.5" r="1.5"/><circle cx="279.6" cy="276.5" r="1.5"/><circle cx="241" cy="237" r="1.5"/><circle cx="357.2" cy="213.1" r="1.5"/><circle cx="363.5" cy="213.1" r="1.5"/><circle cx="369.8" cy="213.1" r="1.5"/><circle cx="378.9" cy="213.1" r="1.5"/><circle cx="274" cy="223.2" r="1.5"/><circle cx="274" cy="265.8" r="1.5"/><circle cx="194.3" cy="212" r="1.5"/></g>
<path d="M192.5 182.6l3.6 3.6M196.1 182.6l-3.6 3.6M230.2 182.6l3.6 3.6M233.8 182.6l-3.6 3.6M268.1 182.6l3.6 3.6M271.7 182.6l-3.6 3.6M305.8 182.6l3.6 3.6M309.4 182.6l-3.6 3.6M353.3 204.5l3.6 3.6M356.9 204.5l-3.6 3.6M390.9 217.6l3.6 3.6M394.5 217.6l-3.6 3.6M259 203.5l3.6 3.6M262.6 203.5l-3.6 3.6M277.8 203.5l3.6 3.6M281.4 203.5l-3.6 3.6M296.6 203.5l3.6 3.6M300.2 203.5l-3.6 3.6M315.5 203.5l3.6 3.6M319.1 203.5l-3.6 3.6M328.9 199l3.6 3.6M332.5 199l-3.6 3.6M339.7 199l3.6 3.6M343.3 199l-3.6 3.6M495.6 380.9l3.6 3.6M499.2 380.9l-3.6 3.6M458 381.6l3.6 3.6M461.6 381.6l-3.6 3.6M382.2 212.2l3.6 3.6M385.8 212.2l-3.6 3.6M398.2 210.2l3.6 3.6M401.8 210.2l-3.6 3.6M258.8 218.2l3.6 3.6M262.4 218.2l-3.6 3.6M258.8 231.2l3.6 3.6M262.4 231.2l-3.6 3.6M257.9 274.7l3.6 3.6M261.5 274.7l-3.6 3.6M277.8 274.7l3.6 3.6M281.4 274.7l-3.6 3.6M239.2 235.2l3.6 3.6M242.8 235.2l-3.6 3.6M355.4 211.3l3.6 3.6M359 211.3l-3.6 3.6M361.7 211.3l3.6 3.6M365.3 211.3l-3.6 3.6M368 211.3l3.6 3.6M371.6 211.3l-3.6 3.6M377.1 211.3l3.6 3.6M380.7 211.3l-3.6 3.6M272.2 221.4l3.6 3.6M275.8 221.4l-3.6 3.6M272.2 264l3.6 3.6M275.8 264l-3.6 3.6M192.5 210.2l3.6 3.6M196.1 210.2l-3.6 3.6" stroke="#0000ff" stroke-width="1.6" fill="none"/>
<path d="M194.3 212L248.9 256.6L262.1 269.9L277.6 284.3L288.7 294.3L295.3 303.1L302 312L308.6 320.8L313 330.5L319.3 343L323.5 346.2L360 345.6L373.7 346.5L380 348L390.4 352.3L400.3 358.4L406.3 366.4L412.3 374.5L418.4 378.5L430 379.6L460 381.5L497.4 382.7" stroke="#000" stroke-width="5" fill="none" stroke-linejoin="round"/>
<path d="M194.3 212L248.9 256.6L262.1 269.9L277.6 284.3L288.7 294.3L295.3 303.1L302 312L308.6 320.8L313 330.5L319.3 343L323.5 346.2L360 345.6L373.7 346.5L380 348L390.4 352.3L400.3 358.4L406.3 366.4L412.3 374.5L418.4 378.5L430 379.6L460 381.5L497.4 382.7" stroke="#ff00ff" stroke-width="3.4" fill="none" stroke-dasharray="3.5 3.5"/>
<rect x="61.5" y="0.6" width="606.5" height="452.9" fill="none" stroke="#000" stroke-width="1.6"/>
<path d="M61.4 453.5V447M143 453.5V447M224.6 453.5V447M306.2 453.5V447M387.8 453.5V447M469.4 453.5V447M551 453.5V447M632.6 453.5V447M61.55 453.5H68.55M61.55 404H68.55M61.55 354.5H68.55M61.55 305H68.55M61.55 255.5H68.55M61.55 206H68.55M61.55 156.5H68.55M61.55 107H68.55M61.55 57.5H68.55M61.55 8H68.55" stroke="#000" stroke-width="1.4" fill="none"/>
<path d="M60.7 453.5H668.3" stroke="#000" stroke-width="2.3"/>
<g fill="#333"><text x="61.4" y="474.6" text-anchor="middle" font-size="16.8">0</text><text x="143" y="474.6" text-anchor="middle" font-size="16.8">1000</text><text x="224.6" y="474.6" text-anchor="middle" font-size="16.8">2000</text><text x="306.2" y="474.6" text-anchor="middle" font-size="16.8">3000</text><text x="387.8" y="474.6" text-anchor="middle" font-size="16.8">4000</text><text x="469.4" y="474.6" text-anchor="middle" font-size="16.8">5000</text><text x="551" y="474.6" text-anchor="middle" font-size="16.8">6000</text><text x="632.6" y="474.6" text-anchor="middle" font-size="16.8">7000</text><text x="55.6" y="459.3" text-anchor="end" font-size="16.8">0</text><text x="55.6" y="409.8" text-anchor="end" font-size="16.8">500</text><text x="55.6" y="360.3" text-anchor="end" font-size="16.8">1000</text><text x="55.6" y="310.8" text-anchor="end" font-size="16.8">1500</text><text x="55.6" y="261.3" text-anchor="end" font-size="16.8">2000</text><text x="55.6" y="211.8" text-anchor="end" font-size="16.8">2500</text><text x="55.6" y="162.3" text-anchor="end" font-size="16.8">3000</text><text x="55.6" y="112.8" text-anchor="end" font-size="16.8">3500</text><text x="55.6" y="63.3" text-anchor="end" font-size="16.8">4000</text><text x="55.6" y="13.8" text-anchor="end" font-size="16.8">4500</text></g>
<text x="324" y="490.7" font-size="18.5" font-weight="bold" fill="#222">Y<tspan font-weight="normal" font-size="23" dy="1" fill="#444">(</tspan><tspan dy="-1">m</tspan><tspan font-weight="normal" font-size="23" dy="1" fill="#444">)</tspan></text>
<text transform="translate(16.5,237) rotate(-90)" text-anchor="middle" font-size="18.5" font-weight="bold" fill="#222">X<tspan font-weight="normal" font-size="23" dy="1" fill="#444">(</tspan><tspan dy="-1">m</tspan><tspan font-weight="normal" font-size="23" dy="1" fill="#444">)</tspan></text>
<rect x="395.6" y="5.6" width="257.4" height="75.6" fill="#fff" stroke="#000" stroke-width="1.2"/>
<path d="M412 15.7H436.7" stroke="#000" stroke-width="1.1"/>
<path d="M412 35.2H436.7" stroke="#ff00ff" stroke-width="1.5" stroke-dasharray="3 2"/>
<circle cx="424.6" cy="53.4" r="2.5" fill="none" stroke="#00ff00" stroke-width="1.6"/>
<path d="M412 71.9H436.7" stroke="#ff0000" stroke-width="1.1"/>
<g font-size="12.5" fill="#000" stroke="#000" stroke-width="0.3">
<text x="447" y="20.2">Improved A* algorithm planning path</text>
<text x="447" y="38.9">Optimal path under curvature constraint</text>
<text x="447" y="57.4">Expanded nodes</text>
<text x="447" y="76">Searched path</text>
</g>
</svg></body></html>
